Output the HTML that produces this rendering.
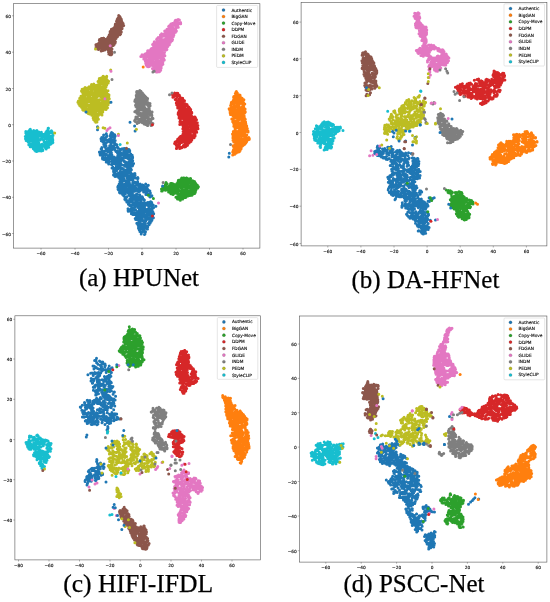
<!DOCTYPE html>
<html><head><meta charset="utf-8"><title>t-SNE</title>
<style>
html,body{margin:0;padding:0;background:#fff}
#wrap{position:relative;width:550px;height:602px;overflow:hidden;background:#fff}
.cap{position:absolute;font-family:"Liberation Serif","Times New Roman",serif;color:#000;-webkit-text-stroke:0.25px #000;white-space:nowrap;line-height:1}
</style></head><body><div id="wrap">
<svg width="550" height="602" viewBox="0 0 550 602" style="position:absolute;left:0;top:0">
<rect x="13.6" y="3.7" width="246.3" height="244.4" fill="#fff" stroke="#555" stroke-width="0.6"/>
<g font-family="DejaVu Sans, Liberation Sans, sans-serif" font-size="4.3" fill="#111" stroke="#111" stroke-width="0.13">
<line x1="41" y1="248.1" x2="41" y2="249.7" stroke="#444" stroke-width="0.4"/>
<text x="41" y="254.95" text-anchor="middle">−60</text>
<line x1="75" y1="248.1" x2="75" y2="249.7" stroke="#444" stroke-width="0.4"/>
<text x="75" y="254.95" text-anchor="middle">−40</text>
<line x1="108.5" y1="248.1" x2="108.5" y2="249.7" stroke="#444" stroke-width="0.4"/>
<text x="108.5" y="254.95" text-anchor="middle">−20</text>
<line x1="142" y1="248.1" x2="142" y2="249.7" stroke="#444" stroke-width="0.4"/>
<text x="142" y="254.95" text-anchor="middle">0</text>
<line x1="176" y1="248.1" x2="176" y2="249.7" stroke="#444" stroke-width="0.4"/>
<text x="176" y="254.95" text-anchor="middle">20</text>
<line x1="209.5" y1="248.1" x2="209.5" y2="249.7" stroke="#444" stroke-width="0.4"/>
<text x="209.5" y="254.95" text-anchor="middle">40</text>
<line x1="243" y1="248.1" x2="243" y2="249.7" stroke="#444" stroke-width="0.4"/>
<text x="243" y="254.95" text-anchor="middle">60</text>
<line x1="12.0" y1="15.8" x2="13.6" y2="15.8" stroke="#444" stroke-width="0.4"/>
<text x="11.0" y="17.80" text-anchor="end">60</text>
<line x1="12.0" y1="52.2" x2="13.6" y2="52.2" stroke="#444" stroke-width="0.4"/>
<text x="11.0" y="54.20" text-anchor="end">40</text>
<line x1="12.0" y1="88.5" x2="13.6" y2="88.5" stroke="#444" stroke-width="0.4"/>
<text x="11.0" y="90.50" text-anchor="end">20</text>
<line x1="12.0" y1="124.7" x2="13.6" y2="124.7" stroke="#444" stroke-width="0.4"/>
<text x="11.0" y="126.70" text-anchor="end">0</text>
<line x1="12.0" y1="161" x2="13.6" y2="161" stroke="#444" stroke-width="0.4"/>
<text x="11.0" y="163.00" text-anchor="end">−20</text>
<line x1="12.0" y1="197.3" x2="13.6" y2="197.3" stroke="#444" stroke-width="0.4"/>
<text x="11.0" y="199.30" text-anchor="end">−40</text>
<line x1="12.0" y1="233.5" x2="13.6" y2="233.5" stroke="#444" stroke-width="0.4"/>
<text x="11.0" y="235.50" text-anchor="end">−60</text>
</g>
<path d="M115.3 24.5h0M111.7 36.5h0M117 20.6h0M111.6 51.4h0M104.1 43.7h0M112.2 38.8h0M108.2 49.9h0M115.4 41.7h0M117.3 19.6h0M120.3 17.5h0M108 37.5h0M120.1 26h0M109.1 39.2h0M111.4 54.7h0M115 36.1h0M112.9 42.9h0M118.2 30.8h0M102.6 49.4h0M115.2 25.2h0M117.4 36.8h0M117.6 28.1h0M101.4 48.7h0M116.5 23.8h0M100.9 40.7h0M108.9 41.9h0M118.2 17.7h0M117.9 28.3h0M118.4 20.3h0M114.1 29h0M113.9 36.5h0M121.4 29.2h0M108.3 39h0M121.3 32h0M110.4 36.4h0M118.2 21.4h0M108.7 45h0M110 37.8h0M117.8 18.6h0M103 47h0M109.7 38h0M107.8 40.2h0M109.7 35.9h0M115.1 33.4h0M110.5 34.5h0M121.1 20.7h0M123.1 23.4h0M119.2 21h0M104.2 44.9h0M104.6 40.7h0M117.6 25.6h0M118.3 17.7h0M119.9 16.9h0M120.1 33.4h0M121.9 25.5h0M103.8 46.5h0M108.8 53.9h0M98 49h0M119.2 30.8h0M109.7 43.4h0M113.5 31.3h0M116.5 25h0M101.7 39.1h0M110.3 46.1h0M114.1 44.6h0M120.5 30.7h0M99.3 45h0M113.2 45.4h0M118.6 20h0M110.2 35.6h0M113.2 40.8h0M114.8 35h0M116.7 35.5h0M110.5 42.2h0M96.9 45.5h0M102.7 45.2h0M100.9 45.6h0M112.9 41.5h0M102.3 45.8h0M103.8 38.3h0M102.8 42.7h0M115.1 42.9h0M108.3 49.1h0M122.5 23.1h0M110.2 54.7h0M98.8 49.1h0M109.8 51.9h0M115.4 23.9h0M112.1 29.5h0M119.3 26.3h0M122.2 24.7h0M110.9 44.8h0M96.4 45.3h0M108.1 46.2h0M102.5 42.1h0M102.5 38.4h0M108.7 39.1h0M117.2 33.6h0M117.7 24h0M102.3 41.2h0M111.9 30.6h0M101.4 39.7h0M115.5 27.2h0M114.6 32h0M102.4 42.5h0M121.9 23.8h0M107.2 43.2h0M100.7 48.1h0M116.5 35.6h0M104 49.1h0M117.1 26.7h0M107.1 42.5h0M121.7 22.3h0M102.4 46h0M121.1 28.5h0M115.8 27.6h0M109.3 53.7h0M100.3 48.3h0M105.5 47.4h0M116.9 24.6h0M123.7 25.4h0M109.5 44.4h0M107.1 40.5h0M103.5 38.3h0M105.8 45.6h0M101.7 48.6h0M111.9 53.8h0M112.4 41.9h0M104.5 43h0M100.9 48h0M111 41.3h0M115.2 31.6h0M111.4 29.3h0M100.7 45.1h0M121.2 32.2h0M118.8 31.4h0M120.7 33.7h0M111 41.4h0M113.1 29.9h0M109.2 48.4h0M99.6 47.6h0M102.1 45h0M111.3 46.4h0M111 40.8h0M111.9 32.2h0M114.1 33.1h0M113 35h0M101.8 46.7h0M117.7 33.6h0M97.3 45.4h0M117.6 35.9h0M118.7 22.3h0M99.7 47.7h0M105.2 46.3h0M102.9 48.9h0M121.7 23h0M121 21.3h0M117.8 19h0M110.4 41.2h0M111.1 38.8h0M120.6 18.5h0M106.4 48.1h0M111.8 29.4h0M117.2 32.9h0M100.1 45.8h0M102.3 41.3h0M114.3 27.4h0M99.3 40.4h0M121 19.7h0M101.6 41.9h0M111.9 39.2h0M100.9 40.7h0M122.2 24.5h0M117.7 31.2h0M113.7 38.1h0M105.1 41.6h0M116.3 24.7h0M110.4 31.4h0M111 54.2h0M112.6 35.7h0M108.5 45.7h0M107.6 47.7h0M101.8 45.8h0M115.1 42.5h0M119.9 32.7h0M116 38.4h0M121.5 20.2h0M122 28.8h0M113.4 43.8h0M112.1 29.6h0M97.8 46.4h0M115.8 29.8h0M109.6 50.4h0M117.5 28.9h0M115.5 37h0M101.2 50.9h0M97.6 49h0M100.8 46.6h0M109.2 35h0M118.1 22h0M119.2 25.2h0M122.4 26.2h0M101.2 43.9h0M120.7 24h0M108.4 36.8h0M113.8 28.9h0M116.5 21.3h0M107.7 47.1h0M108.4 51.8h0M103.7 44.1h0M119.5 20.7h0M109.5 41.1h0M112.5 31.3h0M107.5 38.6h0M116.8 32h0M101.6 44.9h0M114.7 41.4h0M107.2 47.5h0M108.2 40.6h0M106.9 42.9h0M122 21.9h0M111.7 37.2h0M115.8 35.9h0M110.1 31.6h0M122.6 23h0M114.9 30.8h0M117.2 19.3h0M115.3 29.1h0M118.3 30.8h0M113.4 34.1h0M118.7 34h0M98.6 49.6h0M116 26.1h0M113.5 42.2h0M119.8 16.5h0M117.8 20.1h0M117.5 28.9h0M118 21.2h0M119.4 22.5h0M115.1 36.7h0M116.5 32.8h0M109.4 37.1h0M119.4 34h0M111.3 42.5h0M119.4 30.1h0M112.7 43.2h0M122.1 28.2h0M109.1 52.4h0M95.9 44.7h0M113.1 28.5h0M120 29.7h0M108.8 36.5h0M117.4 23.1h0M111.1 49.3h0M103.5 49.4h0M118 28.2h0M112 41.2h0M112.7 42.1h0M112.8 40.4h0M113.2 43.8h0M112.3 43.1h0M101.1 42.5h0M108.3 46.6h0M96 47.1h0M105.7 49.2h0M107.5 41.5h0M98.4 48.6h0M111.7 53.3h0M106.2 39.3h0M120.3 19.6h0M102 45.4h0M115.6 33.7h0M122.1 24.9h0M120 34.8h0M111.7 32.8h0M118.2 29.6h0M113.7 40.9h0M119 28.2h0M120.8 30.1h0M114.9 39.7h0M112 48.9h0M102.9 50.4h0M121.6 28.9h0M118.2 22.6h0M101.7 40h0M114.7 33.9h0M101.7 38.8h0M110.1 34.4h0M115.4 29.6h0M111.4 31.2h0M99.5 39.6h0M109.1 38.3h0M102.6 47.3h0M123 24.9h0M120.3 33.6h0M122.9 25.1h0M111.4 41.4h0M96.3 47.6h0M99.1 46.3h0M103.6 39.3h0M99.1 43h0M122 23.5h0M120.8 20h0M113.2 33.4h0M104.8 49.2h0M108.8 40.9h0M96.6 44.5h0M120.3 25.4h0M102.8 49.9h0M121.2 18.9h0M96.6 45.1h0M101.3 38.5h0M100.9 40.2h0M96.8 45.3h0M106.8 44.9h0M104.7 50h0M108.8 51.3h0M119.2 29.7h0M110.1 33.1h0M120.1 27.8h0M115.7 30.3h0M109.3 36h0M110.4 37h0M118.7 15.4h0M97.7 43.9h0M112.4 38.7h0" stroke="#8c564b" stroke-width="3.0" stroke-linecap="round" fill="none"/>
<path d="M98.1 113.8h0M85.6 107.5h0M85.9 101h0M108.1 104.8h0M85.1 99.9h0M86.3 89.6h0M98.6 80.8h0M96.8 120.8h0M94.1 87.9h0M92.5 100.6h0M90.4 88.8h0M95.2 115.3h0M97.3 102.3h0M98.7 84.6h0M100.8 97.1h0M95.2 104.4h0M92.5 89.9h0M94 93.4h0M84.7 101.7h0M93.3 88.6h0M102.9 82.6h0M89.8 96.1h0M101.6 80.2h0M101.7 82.4h0M88 91.9h0M99.6 104.5h0M94.2 110.4h0M101.9 111.4h0M92.8 112.6h0M96.5 98.9h0M109.4 102.4h0M90.8 112.6h0M106.3 104.1h0M89.5 96.7h0M92.2 109.7h0M86.5 93.7h0M95.5 93.4h0M87.5 112.7h0M105.5 98.9h0M96.2 102.9h0M83.5 95.4h0M78.2 102.1h0M93.5 119.1h0M102.9 100.8h0M94.2 107.8h0M89.8 92.1h0M96.8 91.8h0M89.3 94.2h0M95.7 102.5h0M93.1 96.1h0M88.3 100.4h0M104.4 83.2h0M104.7 99.6h0M100.1 114.3h0M86.4 99.5h0M93.8 84h0M82.8 105.2h0M97.1 91.9h0M103.4 89.7h0M96.5 107h0M83.2 98.9h0M95.4 87.7h0M98.6 100.5h0M82.4 100h0M104.6 104.4h0M104.1 78h0M87.6 109.3h0M107.4 102.9h0M88.4 96.6h0M106.9 102.9h0M97.7 86.9h0M105.7 90.1h0M86.9 103.9h0M109.3 98.7h0M89.8 109.4h0M84.1 89.8h0M106.4 98.2h0M103.6 86.7h0M82.5 92.2h0M86.5 101.9h0M80.5 100.6h0M89.7 94.3h0M104.7 91.8h0M100.6 79.4h0M80.9 96.2h0M82 91.9h0M101.2 93.1h0M109 99.2h0M84.3 96.7h0M96.6 92.6h0M84.9 104.1h0M80.7 99.6h0M95.1 87.9h0M102.9 93.4h0M99 102.2h0M87.1 93.7h0M105.6 90.4h0M99.2 80.2h0M95.7 92.3h0M93.6 89.2h0M101 88.5h0M105.9 81.3h0M99.7 106.8h0M88.5 94.8h0M99 108.5h0M88.6 105.1h0M83.3 89.5h0M87.1 105.6h0M96 109.3h0M85.2 95.8h0M99.9 91.7h0M103 88.7h0M103.5 85.1h0M90 110.8h0M104.8 88.5h0M100.1 110.4h0M104.9 105.1h0M100.4 95.5h0M94 119.5h0M104 87.5h0M95.2 121.5h0M98.3 101.1h0M88.7 94.7h0M83.4 89.9h0M99.4 86.4h0M84.8 99.7h0M88.5 89.3h0M106.7 81.8h0M95.8 91h0M104.4 101.3h0M102.5 83.1h0M99.3 103.7h0M92.3 111.7h0M104.9 80.5h0M86.4 92.3h0M100.5 96.5h0M92.5 92.4h0M102.1 79h0M93.2 95.8h0M83 101h0M98.5 105.1h0M98.3 115.5h0M108.2 83.1h0M101.9 90.6h0M87.5 92.7h0M95.3 92.7h0M104.9 86.5h0M77.9 102.2h0M98 114.3h0M108.8 98.7h0M86.8 102.8h0M82.1 96.2h0M83 109.7h0M91.1 88.6h0M99.1 99.7h0M90.9 91.2h0M91.5 106.9h0M82.1 89.2h0M91.7 102h0M97.7 113.9h0M97.3 89.2h0M96 120.7h0M92.9 106h0M86.7 91.4h0M106.7 76.3h0M83 107.5h0M99.1 92.8h0M96.4 94.9h0M94.6 102.1h0M106 87.1h0M79.8 100.4h0M85.1 98.4h0M95.4 85.8h0M94 103.2h0M106 101.4h0M100.9 111.3h0M101.2 79.9h0M104.9 93.8h0M95.7 112.1h0M96.8 85.2h0M86.8 108.9h0M97.7 116.8h0M95.7 119h0M106.2 83h0M102 91.4h0M102.6 107.6h0M104.7 80.9h0M89.3 110.3h0M79.9 101.3h0M103.9 80.4h0M91.8 115.2h0M103.9 83.9h0M95.4 88.9h0M100 93.2h0M94.9 108h0M81.7 99h0M104.5 107.6h0M89.9 97.8h0M107 103.2h0M88.9 97.4h0M96.2 93.6h0M96.3 91h0M81.5 107.2h0M85.8 88.1h0M93.6 87.5h0M96 100.3h0M103 105.3h0M98.2 92.4h0M99.8 89.6h0M102.6 110.4h0M93.9 105.4h0M88.5 101.4h0M88 90.5h0M89.1 86.7h0M84.5 91.7h0M106.3 96.7h0M91.7 102.3h0M87.1 109.8h0M95.3 119.9h0M82.6 102.8h0M103 95.5h0M106.2 78.2h0M93.1 118.1h0M85.7 108.8h0M84 94.1h0M83.4 103.9h0M106 106.1h0M83.2 110.2h0M106.4 91.3h0M94.9 117h0M98.4 119.2h0M83.8 90.7h0M102.1 106.1h0M90.4 107.5h0M97.9 91h0M93.4 103.7h0M85.3 97.2h0M95.8 122.3h0M101.2 90.8h0M91 100.8h0M96.6 101.6h0M99 103.8h0M87.8 110.5h0M85.3 109.1h0M102.6 112.2h0M87.1 112h0M86 100.1h0M108.6 81.3h0M98.9 112.1h0M93.7 101.6h0M108 82.8h0M93.6 105.5h0M88.3 113.4h0M92.2 90.5h0M107.4 80.2h0M101.6 78.1h0M98.6 94.3h0M106 77.9h0M95.8 94.6h0M97.9 85.7h0M85.1 87.6h0M91.3 86.1h0M98.5 89.3h0M85.7 111h0M104.6 88.5h0M87.8 98.3h0M106.9 82.7h0M99.8 103.6h0M92 102.8h0M106.7 85h0M106.7 92.3h0M107.6 82.2h0M101.7 79.7h0M82.3 107.7h0M103.6 108h0M84.4 95.6h0M106.5 80.8h0M99.9 82.1h0M101.7 99h0M93.5 119h0M101.5 88.1h0M93.9 94.6h0M95.5 92.4h0M98.8 101.1h0M95.3 108.1h0M101 94.1h0M87.4 95.1h0M89.7 94.6h0M97.4 93.1h0M87.6 106h0M95.3 90.1h0M93.9 103.4h0M98 110.6h0M89.5 109.1h0M90 100.2h0M97.4 107.5h0M87.5 105.1h0M95.1 85.7h0M97.4 87.7h0M107.5 97.7h0M101.2 100h0M92.8 85.6h0M94.6 100.1h0M94.5 114h0M104.6 97.1h0M98.4 114.7h0M88.7 113.5h0M94.3 96.7h0M91.9 97.9h0M81.7 107.6h0M89.1 100h0M84.6 92.8h0M88.1 93.3h0M82.6 109.4h0M85.9 90.5h0M79.7 105.5h0M105.8 84.7h0M91 113h0M97.6 92.8h0M89.1 109.2h0M86.6 94.5h0M98.7 113.9h0M88.6 93.5h0M96.3 119.3h0M100.8 92.8h0M99.2 90.8h0M89.5 100.2h0M93.5 118.2h0M96.8 97.2h0M92.3 115.2h0M90.7 97.7h0M106.9 96.1h0M93.3 99.5h0M104.7 107.1h0M101.8 94.2h0M95.4 111.9h0M102.8 80.6h0M104.4 79.9h0M99.8 109.1h0M100.1 95h0M81.5 91h0M85.5 90h0M95.5 99.5h0M89.3 97.2h0M93.2 103h0M89 113.4h0M87.3 100.5h0M90.5 102.1h0M87.6 88.1h0M103.7 89h0M100.8 113.5h0M96.7 96.8h0M108.4 96.3h0M106.5 77.7h0M91.3 105.6h0M79 103.6h0M95.7 113.4h0M93.5 107.3h0M99.6 89.1h0M109 94.9h0M99 87.3h0M107.4 107.9h0M105.1 89.1h0M84.5 102.9h0M87.4 101.9h0M98.4 85.7h0M92.4 109.9h0M91.2 107.5h0M94.5 88.9h0M88.4 111h0M93.5 119.6h0M79.7 98.2h0M106 103.6h0M91.9 86.8h0M101.9 83.6h0M103.4 89.3h0M78.9 101.8h0M79.8 101.4h0M103.4 103.5h0M98.6 81.3h0M96.3 91.9h0M89.3 106.8h0M80.5 98.8h0M94.8 99.3h0M106.3 99h0M108.7 98.4h0M103.5 102.3h0M100 86h0M102.1 82.3h0M90 99.8h0M79.4 102.7h0M84.5 103.5h0M103.3 109.1h0M97 122.1h0M100.1 114h0M90.6 94.5h0M101.6 107.5h0M81.7 91.5h0M84 90.9h0M103.5 98h0M93.5 112.4h0M98.3 84.5h0M97.9 115.5h0M103.4 79.4h0M101 91.7h0M99.5 110.7h0M102 114.9h0M103.9 103.3h0M91.4 114.6h0M94.7 120.3h0M103.4 87.1h0M105.1 86.1h0M83.3 96.9h0M84.6 98.6h0M107.5 107.8h0M100.8 93.8h0M104.7 94.5h0M105.1 91.3h0M96.8 115.1h0M90.8 104h0M92.1 91.1h0M83.8 91.9h0M105.4 104.7h0M85.8 108.6h0M91.6 106.7h0M104.1 80.8h0M104.6 83.8h0M106.9 104.2h0M107 93.9h0M82.1 100.3h0M108.8 96.8h0M104.2 87h0M95.4 116.3h0M94.1 93h0M99.3 78.6h0M97.8 96.3h0M99.1 105.3h0M89.4 100h0M93.5 92.4h0M105 107.8h0M95.6 96.5h0M101.4 110.9h0M107 81.9h0M96.6 102.6h0M102 105.7h0M86.5 101.1h0M98.7 113.6h0M99.6 93.2h0M100.1 88.3h0M82.1 102.6h0M94.1 117.1h0M82.4 89.9h0M83.3 90.4h0M85.4 93.9h0M107.5 96.6h0M105.1 105.5h0M103.1 90.1h0M92.6 101.8h0M99.4 111.1h0M85.9 92.4h0M107.8 100.4h0M86.4 105.2h0M95.9 91.9h0M95.3 111.1h0M99.7 94.8h0M104.1 80.3h0M87 105.9h0M100.1 112.1h0M101.9 91.4h0M89.9 113.6h0M106.3 100.5h0M94.3 107.1h0M107.3 81.4h0M90.6 99.1h0M105.6 107h0M96.3 94.3h0M96.1 88.1h0M105.1 82.2h0M99.5 111.1h0M93.6 118.1h0M104.6 106.1h0M106.5 81.3h0M100.6 108.7h0M97.4 88.2h0M78.8 103.9h0M104.7 88.1h0M88.8 108.5h0M98 81.6h0M91.7 101.6h0M104.1 76.9h0M104.8 80.3h0M84.2 105.2h0M88.1 90.9h0M95.9 85.4h0M103.6 85h0M103.1 76.3h0M93.8 95.3h0M101.3 103h0M90.2 99.5h0M96.6 85.8h0M81.1 96.8h0M99.8 109h0M92.1 91.4h0M83 94.3h0M101.7 99.7h0M91.5 84.5h0M100.5 84.4h0M85.6 101.8h0M101.1 78h0M106 109.6h0M98 87.6h0M82.5 92h0M103.1 97.6h0M103.7 97.8h0M104.6 81.1h0M80.3 102h0M93.9 85h0M91.4 110.1h0M89.6 113.9h0M105.2 81.4h0M96.5 93.2h0M103.4 97.2h0M87.6 104.9h0M106.7 98.2h0M98.4 84.8h0M83.4 96.9h0M96.5 105.5h0M100.7 96.1h0M90.2 107.3h0M100.9 86.5h0M98.7 108.2h0M107.6 103.7h0M89.9 112.8h0M104.6 105.4h0M103.9 76.8h0M98.3 119.1h0M100.8 83.9h0M104.1 82.8h0M105.6 101.6h0M104.6 99.1h0M97.7 103.5h0M103.8 78.7h0M78.4 101.1h0M86.5 94h0M104.2 96.9h0M80.7 106.2h0M83.6 95.6h0M95.2 91.9h0M86.9 111.5h0M81.6 104.1h0M97 99.9h0M92.1 94.5h0M97.4 106.1h0M105.1 109.3h0M105.5 95.6h0M106.5 83.6h0M108.7 96.2h0M100.6 87.1h0M86.8 91.7h0M108 90.7h0M102.8 112.1h0M104.7 90h0M97.9 92.6h0M94.9 121.3h0M82 100.4h0M98.7 100.8h0M108.5 94.5h0M83.8 88.8h0M85.4 109.3h0M91.5 107.9h0M100.1 110.8h0M102.2 86.9h0M100.1 85h0M98.5 103.3h0M98.9 103.7h0M100.2 89.6h0M100 88.1h0M102.8 83.5h0M90.5 108h0M91.7 109.9h0M103.9 107.1h0M81.9 106.6h0M96.6 106.7h0M89.6 106.3h0M96 85.7h0M105.6 81.2h0" stroke="#bcbd22" stroke-width="3.0" stroke-linecap="round" fill="none"/>
<path d="M28.6 133.3h0M36.9 130.5h0M25.3 136.5h0M37.8 151h0M30.1 146.1h0M40.7 149.3h0M39.5 133.5h0M37.5 145.8h0M25.5 138.8h0M33.1 132.6h0M43.8 136.6h0M38.2 132h0M37.8 146h0M39.9 133.4h0M38.7 142.7h0M46.2 149h0M34.6 150.1h0M28.8 133.2h0M41.8 150.1h0M25.8 132.9h0M27.6 132.3h0M46.5 142.1h0M52.4 137.6h0M52.6 133.3h0M38 140.3h0M52.6 139.8h0M37.4 133.2h0M53 135.6h0M35.8 136.1h0M34.8 131.6h0M42.1 134h0M37.3 141.6h0M30.7 130.5h0M27.5 140.6h0M41.3 149.7h0M28.4 142.2h0M37.2 137.7h0M50.8 144.1h0M50.2 138h0M39.6 148.8h0M48.3 143.9h0M30.8 144h0M41.4 147.6h0M51.1 141.8h0M28.8 144.8h0M31.1 133.4h0M34.6 140.6h0M46.2 143.1h0M37.8 144.3h0M38 144.5h0M45.2 143.7h0M47.6 133.3h0M36.6 151.5h0M29.6 137.7h0M30.4 145.9h0M34.4 144.1h0M47 130.7h0M30.1 132.9h0M27.4 137.7h0M41.3 151.1h0M41.1 136.4h0M45.1 138.5h0M28.7 139.6h0M28.2 136.8h0M49.1 143.6h0M42.9 145.2h0M47 135h0M41.9 148.8h0M50.4 142.2h0M39.8 145.7h0M30.3 134.1h0M27.8 135.9h0M39.4 135.5h0M36.2 139.5h0M25.8 131.6h0M44.8 134.1h0M47.8 145.7h0M33.8 139.8h0M35.2 145.5h0M48.1 129.9h0M41.4 132.3h0M45.2 147.6h0M47.8 133.3h0M29.2 142.1h0M30.7 134h0M36.4 140.9h0M45.7 133h0M32.2 143.5h0M44.7 142.9h0M51.2 132.6h0M32.9 144.1h0M31.3 131.4h0M30.2 146.8h0M48.9 145.4h0M32.8 135.4h0M50.4 139.1h0M29.3 130.5h0M38.9 140.6h0M34.5 145.4h0M39.6 146.9h0M35.2 139.6h0M31 144.2h0M30.1 135.5h0M38 145.3h0M47.1 136.8h0M37.1 150.7h0M52.2 143h0M26.5 138.9h0M43 134.5h0M51.4 130.7h0M37.7 143h0M46.5 146.8h0M32.1 146.7h0M39.7 148.4h0M28.5 131.9h0M47 138.2h0M33.7 130.6h0M26.8 134h0M51.3 139.3h0M52.9 142.6h0M32.2 139.2h0M45.4 145.9h0M27.2 132.4h0M48.5 136h0M30.9 133.9h0M33.2 131.8h0M46.3 136.1h0M29 138h0M46.9 142.7h0M33.4 148.7h0M48.6 134.2h0M34.6 136.9h0M34.2 137h0M26.6 133.2h0M51.4 137.8h0M42.9 149.7h0M46.7 133.6h0M46.6 147.9h0M31.1 143.9h0M35 148.5h0M27.4 141h0M33.6 148h0M33.9 148.6h0M46.3 144.5h0M50.2 141.2h0M37.4 136h0M47.5 147.1h0M50.2 132.9h0M33.8 133.8h0M26.3 135.7h0M30.3 129.3h0M29.4 139.1h0M35.7 147.6h0M52.8 135.3h0M42.8 149.9h0M37.8 150h0M46 135.3h0M50.3 141.9h0M48.9 140.5h0M38.2 137.9h0M50.5 144.2h0M29.7 136.6h0M41.5 138.3h0M45.5 138.3h0M26.1 140.6h0M48.7 147.3h0M34.3 133.1h0M46.3 147.6h0M35 145.3h0M52.1 132.6h0M32.6 135.7h0M45.9 132.2h0M40.2 140h0M40.6 147.4h0M40.3 146.5h0M50.2 136.6h0M51.9 132.7h0M52.8 140.3h0M52.2 141.5h0M48.1 138.1h0M41.9 134h0M31.8 138h0M39.1 139.2h0M33.8 145.5h0M46.4 133.4h0M31.1 140.4h0M28.7 142.6h0M51.3 132.6h0M41.4 145.5h0M46.5 145.3h0M45.3 134.3h0M37.5 143.5h0M47 133.6h0M29.4 131.5h0M35.9 143h0M32.6 131.6h0M30 129.6h0M29.2 135.4h0M38.9 132.1h0M38.1 138.5h0M52.5 139.3h0M29.4 142.3h0M27.7 131.7h0M34.2 138.2h0M34.1 144.8h0M35.4 131.3h0M50 141.8h0M45.8 136.4h0M42.8 150.5h0M35.7 138.3h0M32.5 141.4h0M43.8 145.9h0M34.6 148.8h0M47.8 142.3h0M44.2 136h0M52.5 141.3h0M35.7 132.1h0M48.1 128.2h0M33.2 139.5h0M38.6 136.6h0M51 136.3h0M39.7 150.8h0M43 139.4h0M33.5 137.2h0M42.1 147.2h0M31.3 136.8h0M35.2 136.6h0M51.5 141h0M31.8 135.8h0M48.7 131.5h0M48.2 131.2h0M31.4 145.9h0M52.6 141.3h0M51.9 138.4h0M49.9 137.2h0M46.6 142.5h0M28.2 132h0M42.1 144.3h0M35.3 133.9h0M28.6 132h0M27.9 136.3h0M39.7 144.5h0M47.8 141.9h0M37.2 149.6h0M41.9 135.9h0M35.5 151.1h0M28.6 137.1h0M48.1 147.2h0M48 137.9h0M44 141.8h0M45.8 137.7h0M52 142.9h0M33 136.9h0M47.8 147.2h0M44.6 135.5h0M46.7 134.1h0M49.8 139.7h0M46.7 131.2h0M46.8 141.9h0M51.4 142.2h0M36.5 150.9h0M26.4 134.4h0M36.9 145.7h0M31.2 145.8h0M38.5 145.6h0M29.9 143.9h0M31.8 136.8h0M41 147.7h0M46.8 138.9h0M50 137.6h0M52.7 139.3h0M40 146h0M34.9 133.7h0M48.5 128.3h0M37.8 145.5h0M45.8 136.1h0M52.2 132.1h0M26.9 132.2h0M38.7 135.9h0M37.9 147.2h0M47.1 143.3h0M39.7 148.9h0M44.4 146.1h0M30.4 139.1h0M51.9 131.5h0M44.4 141.4h0M35.8 131.7h0M27.5 139.3h0M38.5 134.2h0M34.6 141.4h0M46.9 142.3h0M35.2 141.2h0" stroke="#17becf" stroke-width="3.0" stroke-linecap="round" fill="none"/>
<path d="M142.1 207.3h0M128.5 149.4h0M137.8 177.4h0M110.2 141h0M118.2 159.8h0M127.2 152.2h0M153.4 217.7h0M138.8 205.3h0M132.7 208h0M151.9 214.7h0M149.3 193.8h0M126.9 167.3h0M120.5 185.6h0M128.1 175.9h0M129.7 160.8h0M143.7 206h0M144.4 186.3h0M128.5 171.3h0M115.6 174.1h0M140.1 218.1h0M119.5 164h0M137 203.1h0M135.8 204.9h0M114.5 138.1h0M145.2 209.5h0M127.1 170.7h0M140.3 226.2h0M148.4 223.3h0M124.3 176.2h0M109.3 148.4h0M123.6 152h0M124.3 173.7h0M132.9 192.4h0M133.9 185.5h0M105.7 154.2h0M116.8 175.7h0M145.3 217.2h0M144.2 220.6h0M130.7 172.6h0M104 141.3h0M120.2 177.4h0M128.3 162.2h0M139.7 186.2h0M128.5 183.8h0M119.5 167.1h0M134.6 191.2h0M115.2 140.6h0M129.8 166.3h0M118.4 175.8h0M122.1 148.8h0M137.4 201.9h0M124.7 174.5h0M100.2 154.9h0M138.2 184.2h0M126.2 152.6h0M128.4 164.8h0M126.9 196.8h0M138.4 189.3h0M134.7 214h0M132.1 155.2h0M131.8 211.2h0M119.9 179h0M147.1 186.7h0M138.9 187.9h0M102.4 139.3h0M107.9 162.6h0M152.9 217.3h0M130.9 196.3h0M111.7 154.6h0M128.5 184.6h0M142.3 224.1h0M119.5 153.8h0M135.8 182.6h0M120.6 192.8h0M130.9 195.2h0M149.2 214.7h0M138.3 217.7h0M130.1 178.1h0M110.2 135.8h0M143.6 191.9h0M130.1 154.7h0M132.2 200.1h0M120.3 182.4h0M130.8 209.1h0M113.1 140.6h0M113.3 140.8h0M127.2 158.1h0M111.6 132.6h0M139.5 214.1h0M121.6 164.7h0M128.6 178.2h0M137.3 190.8h0M125.6 192.4h0M135.3 198.4h0M140.4 208.6h0M137.1 201.1h0M120.2 150.7h0M121.7 184.6h0M129.2 163.4h0M124.1 155.8h0M136.5 219.6h0M114.9 143.3h0M114.7 147.8h0M129 176.6h0M111.6 140.3h0M103.8 152.2h0M113.3 157.1h0M104.4 138.5h0M127.7 151.4h0M124.2 161.4h0M132.9 163.3h0M127.6 155.9h0M120.5 175.2h0M146.1 190.6h0M108.8 159.1h0M136.7 204.2h0M101 151.9h0M123.5 171.2h0M139.4 209.8h0M132 186.1h0M142.1 207.2h0M116.9 170.6h0M145.4 220.6h0M148.1 202.4h0M108.5 148.1h0M116.3 159.9h0M124.1 171.8h0M113.4 134.3h0M132.7 184.9h0M113 162h0M146.1 205.1h0M114.1 173.8h0M132.2 213.9h0M135.4 194.9h0M152.7 217.4h0M131.8 166.1h0M140 230h0M136.4 201.6h0M153.6 213.8h0M124.7 180.4h0M138.7 225.9h0M106 146h0M127.5 167h0M112.5 163.9h0M127.4 173.4h0M136.4 185h0M104 137.6h0M147.7 193.5h0M121 159.3h0M130.4 171.3h0M127.4 174.4h0M150.1 201.9h0M147 226.2h0M120.8 162.9h0M118 189h0M125.5 190h0M141.2 233.9h0M135.1 182.2h0M135.8 188h0M139.9 231.6h0M136.6 216.2h0M129.6 195.6h0M128.8 172.4h0M144 230.4h0M121.8 189.5h0M117.9 148.2h0M146.7 218.3h0M143.5 213.3h0M135.7 219.6h0M147.5 228.9h0M138.7 221.3h0M131.8 160.8h0M139.5 202.8h0M103.4 157.8h0M137.5 223.9h0M122.5 179.2h0M140.5 214.5h0M129.7 205.5h0M115.7 161.5h0M117.6 161.5h0M126.7 171.8h0M124.9 191.5h0M113.7 142.6h0M142 229.1h0M128.8 162.1h0M124.7 181.1h0M148.3 218.2h0M126 175.1h0M120.5 175.5h0M132.8 178.9h0M119.1 175.8h0M133.2 189h0M123.5 158.1h0M101.7 148.5h0M130.1 187.9h0M101 138.7h0M137.7 204.4h0M124.7 156.3h0M109.4 150.9h0M145.9 194.6h0M129.8 199.1h0M149.5 214.3h0M130.5 172.7h0M130.8 211.5h0M143.4 198.9h0M129.9 194.8h0M116.8 167.9h0M107.2 141.9h0M142.6 205.1h0M131.5 158.6h0M117.4 152.7h0M111 144h0M109.1 158.1h0M132.5 178.8h0M144 208.1h0M145 191h0M126.4 166.5h0M127.8 201.9h0M105.4 147.4h0M105.9 154.7h0M144 210.8h0M144.5 208h0M139.9 208.5h0M114.7 134.8h0M110.8 147.2h0M151.2 201.9h0M147.9 208.9h0M127.5 183.5h0M114.1 157h0M125.5 200h0M128.5 185.8h0M116.9 144.8h0M150.1 205.3h0M141.4 211.8h0M133.5 213.6h0M146.9 216.6h0M110.8 143h0M141 210.4h0M136.6 214h0M128.8 191h0M137 193.8h0M123.5 176.2h0M123.9 190.9h0M119.7 173h0M123.6 170.9h0M121.7 179.1h0M112.6 133.3h0M150.9 220h0M112.7 158.6h0M139.5 215.8h0M126.1 172.6h0M149.2 222.2h0M137.6 181.7h0M133.1 176.1h0M112 167.9h0M132.2 166h0M107.7 159.4h0M108.2 152h0M106.2 154.3h0M118 173.4h0M126.4 173.5h0M144 227h0M129.4 203.7h0M120.9 160.4h0M125.6 187.3h0M110.7 150.4h0M102.6 159.1h0M130.8 166.2h0M113.1 162.4h0M115 168.3h0M144.9 214.9h0M139.5 225.1h0M101.1 149h0M146.8 193.5h0M123.7 157.3h0M104.4 152.7h0M136.3 203.7h0M115.1 160.5h0M119.1 151.4h0M113.1 149.1h0M135.5 201h0M128.5 150.7h0M108.7 157.2h0M128.7 182h0M131 208.4h0M138.8 215.5h0M106.4 149.1h0M121.1 189.9h0M130.9 174.3h0M143.5 188.2h0M144.8 192.1h0M105.4 158.7h0M117.4 174.7h0M140 215.7h0M145.3 224.7h0M117.1 147.1h0M143.2 204.9h0M120.3 167.9h0M118.5 165.6h0M128.6 210.4h0M149.1 211.9h0M131.1 170h0M103.5 152.3h0M146.1 187.5h0M131 188.6h0M122.6 190.5h0M104.5 146.4h0M138 199.3h0M145.9 204.8h0M151.4 210.6h0M121.9 182.2h0M144.5 203.5h0M117.4 159.3h0M151.9 220.2h0M131.3 178.6h0M111.5 134.2h0M114.6 137.7h0M129.5 163.4h0M138.1 190.9h0M133.6 163.4h0M141.7 204.4h0M125.7 161.9h0M149 224.5h0M148.6 217.8h0M127.2 150.3h0M117.8 163.9h0M113.4 134.4h0M131.4 169.8h0M120.1 193.1h0M106.9 139.9h0M129.8 160.7h0M141.4 202.4h0M133.2 177h0M149.1 224.7h0M123.8 156.7h0M110.8 139.6h0M134.3 176.4h0M117.8 155.2h0M135.5 209.6h0M136.8 223.2h0M142.3 198.3h0M134.9 188.9h0M129.3 176.2h0M141.7 205.6h0M106.8 135.4h0M147.3 202.7h0M118.5 168.5h0M151.5 217.7h0M146 215h0M148 219.2h0M128.8 156.5h0M143.8 216.3h0M144 229.5h0M117.6 167.8h0M139.7 186.6h0M139.8 225.4h0M122.5 191.5h0M103 142h0M116.8 144.7h0M141.5 196.7h0M121.7 160.1h0M108.6 159.6h0M132.4 199h0M132.9 214.6h0M105.9 143.5h0M106.2 133.8h0M113.7 172h0M113.8 157.4h0M117.5 175.5h0M119.6 165.9h0M127.9 190.9h0M134.8 202.8h0M135.4 197.2h0M146.6 219.6h0M106.5 161h0M136.1 198.9h0M112.7 147.2h0M103.7 154.8h0M133.3 187.6h0M131.7 195.2h0M129.6 167.6h0M123.4 188.7h0M143.7 188.6h0M140.6 199.1h0M131.9 178.1h0M127.2 176.8h0M140 208.2h0M126.1 187.9h0M119 184.5h0M129.6 172.7h0M106.3 133.7h0M115 168.8h0M122 172.4h0M136.2 194.5h0M129.9 193.1h0M120.2 160.8h0M144.5 206.9h0M113.6 147.6h0M141 185.4h0M108.2 157.1h0M132.7 180.3h0M140.7 188.4h0M121.3 179.2h0M109.4 161.2h0M101.3 140.8h0M128.8 188.6h0M124.7 166.3h0M147.3 204.7h0M105.6 142.9h0M105.5 154.5h0M134.1 196.5h0M143.8 186.3h0M105.2 155.2h0M104.8 158.2h0M145.3 189.4h0M132.6 156.9h0M120.1 177.6h0M132.7 165.6h0M129.8 155.3h0M119.4 158.5h0M147.7 226.9h0M144.7 203.5h0M111.3 158.8h0M126 186.3h0M128.4 181.9h0M153 212.2h0M103.6 134.9h0M139.7 194.7h0M136.4 216.9h0M118 147.5h0M137.1 199.9h0M151.6 212.8h0M114.7 176.1h0M139.8 197.2h0M126.8 201.9h0M129.2 151h0M131.9 185.6h0M121.1 190h0M136.7 195.5h0M147.5 189h0M143 220.3h0M113.5 175h0M149.9 204.1h0M127.3 189.3h0M129.9 184.2h0M121.3 176.6h0M134.2 187.3h0M144.2 200.1h0M119.9 181.6h0M131.5 209.7h0M144.9 231.7h0M140.6 189.5h0M146.9 216.8h0M135.5 202.3h0M119.6 172.7h0M135.5 178.1h0M107.1 159.2h0M124.1 175.9h0M122.1 186.7h0M109.7 145.7h0M130.7 168.8h0M123.9 165.2h0M129.8 161.4h0M125.3 190.5h0M140.7 200.6h0M105.1 147.2h0M109.3 151.1h0M132.5 158.2h0M146.1 203h0M123.7 195.8h0M137.1 178.2h0M144 222.9h0M120.4 171h0M128.6 158.3h0M110.8 145.3h0M138.9 185.5h0M149.8 196.7h0M134.9 177.8h0M130.7 160.7h0M131.1 166.1h0M110.4 151.3h0M140.1 184.1h0M131.2 176.1h0M150.4 192.9h0M118.9 161.7h0M133.9 190h0M110.3 135.2h0M136.9 196.4h0M134.8 206.8h0M151 218.8h0M138.4 220.3h0M137 188.7h0M111.7 145.9h0M142.8 203.2h0M122.6 194.6h0M128.3 188.7h0M125.6 175.2h0M139.2 229.7h0M143.2 189h0M150.2 223.1h0M118.2 186h0M121.5 176h0M102.3 153.4h0M108.7 164h0M130.7 164.4h0M142.2 196.7h0M151.9 195.8h0M109.3 151.3h0M139.8 217.2h0M142.2 212.4h0M120.5 181.8h0M129.7 202.1h0M110.3 135.4h0M131.7 187.3h0M111.4 152.4h0M148.3 185.3h0M135.6 189.3h0M126.5 182h0M128.5 159.1h0M110.6 156.2h0M150.2 209.3h0M129 184h0M140.3 222.5h0M145.6 204.2h0M141.7 202.5h0M122 184.3h0M128.3 154.5h0M148.2 205.3h0M138.9 185.5h0M132.2 202h0M145.4 223.3h0M120.3 179.2h0M147.4 214.8h0M132.6 204.6h0M142.5 215.6h0M116.7 176.2h0M150.3 204.4h0M141 185.1h0M133.6 214.6h0M144.1 202.7h0M121.8 179.8h0M130.1 193.8h0M102.4 158.1h0M103.8 144.6h0M145.8 220.7h0M126.5 154.1h0M139.1 197.3h0M144.3 186.1h0M133.2 183.7h0M142.9 188h0M128.4 193.3h0M132.5 180.3h0M128.4 204.3h0M144.6 203.5h0M105.5 159h0M116.9 169.1h0M127.4 162.8h0M122.9 168.7h0M122.6 157.8h0M142.8 224.4h0M115.8 159.6h0M115.1 176.4h0M146.2 210.8h0M109.1 157.2h0M103.3 151.6h0M144.8 189.1h0M141 185.2h0M148.5 205.9h0M140.7 203.9h0M110.1 136.2h0M136.1 205h0M129 200.4h0M130.6 175.4h0M118.2 173.3h0M111.5 164.6h0M142.4 225.2h0M142.2 214.1h0M121.2 149.4h0M137.5 211.4h0M132 211.2h0M132.6 194.8h0M109.6 141.3h0M139.9 208.4h0M110.8 147.1h0M140 230.6h0M126.6 171h0M109.1 139.6h0M130.2 169.5h0M155.9 206.3h0M124.2 187.3h0M120.7 191.2h0M128.2 211.2h0M146.2 209.4h0M99.4 152h0M144.4 200.1h0M134.1 204.2h0M138 178.2h0M123.1 181.1h0M105.8 139.6h0M114.9 150h0M149.9 191.1h0M118.4 176h0M129.4 191.2h0M139.3 189.6h0M102.2 150.8h0M111.9 154.7h0M132.7 183.1h0M119.2 186.9h0M146.1 215.6h0M127.4 184.4h0M111.7 133.1h0M127.4 179.6h0M122.3 184.1h0M129 149.4h0M126.9 154.7h0M105.7 157.4h0M106.2 161.9h0M110.6 158.5h0M133.5 186.4h0M144 187.6h0M147.8 202.4h0M111.6 140h0M114.1 159.4h0M150 197h0M142.4 217.9h0M124.2 179.3h0M123.9 169.4h0M144.2 225h0M138.7 213.6h0M143.2 220.8h0M124 160.7h0M120.7 187.5h0M129.5 162.8h0M140.7 205.1h0M129.2 155.7h0M137 185.3h0M138.5 228.3h0M145 233.7h0M131.9 207.5h0M138.5 227h0M120.2 187.2h0M114.4 161.9h0M128 208.8h0M121.2 192h0M133 180.2h0M138.9 186.4h0M142.6 197.4h0M125.2 184.2h0M120.4 156h0M139.2 197.9h0M111.7 149.8h0M124.6 161.7h0M138.1 225.2h0M106.7 149.2h0M151.5 205.3h0M141.8 215.6h0M123.6 178.4h0M139.9 219h0M129.7 172.6h0M138 202.7h0M147.3 212h0M126.6 191h0M145.7 183.9h0M126.4 182.8h0M141.7 209.3h0M153.7 213.8h0M120.9 168.8h0M124 195.5h0M140.7 211.2h0M148.7 224.3h0M127.8 186h0M119.9 183.4h0M133.6 191.1h0M136.5 219.3h0M141.2 219.5h0M119.8 176h0M120 167.8h0M144.9 190.7h0M143.4 223.9h0M120.9 184.4h0M111.4 158.2h0M124.8 199.3h0M119.5 192.4h0M117.6 159.4h0M142.1 210.8h0M148 189.9h0M132.6 204h0M134.7 174.7h0M135.1 175.2h0M116.7 158.2h0M115.5 171.1h0M142.7 199h0M132.8 185.6h0M116.2 174.5h0M118.7 177.4h0M122.1 153.9h0M127.1 151.5h0M136.5 203.2h0M111.5 156h0M116.3 166.4h0M125.4 152.9h0M140.9 210.2h0M113.9 158.2h0M153.5 207.7h0M127.5 169.8h0M130 193.6h0M139.9 218.1h0M130.4 193.3h0M124.8 148.5h0M148.7 190.4h0M142 209.8h0M111.4 134.7h0M106.5 150.1h0M130.2 179.8h0M129.5 158.5h0M103.9 137.7h0M140.8 227.4h0M151.2 221.3h0M124.1 185.7h0M113.5 135h0M110.5 146.5h0M114.4 136.7h0M139.1 208.5h0M138.9 212.1h0M109.9 141.8h0M138.9 200h0M145.7 217.4h0M135.2 218.4h0M142.5 189.3h0M101.1 155h0M147.9 210.6h0M124.7 188.3h0M120 149.3h0M135.6 199.6h0M130.8 196.7h0M112.8 167h0M126.6 185.9h0M125.2 162.5h0M142.7 185.1h0M101.7 137.6h0M131.1 194.6h0M144.5 205h0M139.7 191.2h0M142.3 231.9h0M125.4 193.7h0M108.5 162.4h0M134.9 173.5h0M145.4 189.3h0M149.7 219.3h0M117.8 187h0M150.8 202.5h0M133.3 174.7h0M120.9 174.5h0M140.4 224.2h0M111.7 133h0M123.7 195h0M122.2 175.7h0M119.4 184.9h0M142.4 185h0M132 156.2h0M121.3 190.8h0M119.9 151h0M131 189.2h0M102 152.8h0M150.1 194.9h0M139.1 227.4h0M116 151.4h0M140.3 228h0M145.9 188h0M122.1 188h0M114.4 172h0M125.8 162.3h0M111.6 161.4h0M119.9 183.5h0M132.2 197.6h0M113.6 169.2h0M118.8 190h0M121.5 168h0M152.8 204.8h0M125.9 170.3h0M130.4 160.2h0M118.5 189.9h0M153.2 204.9h0M146.9 191.5h0M143.3 187.3h0M143.9 203.3h0M147.8 205.2h0M151.7 202.6h0M124 184.5h0M147.3 194.5h0M132.2 155.2h0M136.4 199.2h0M146.3 215.7h0M134 176.6h0M146.8 188h0M119.2 184h0M126.2 151.5h0M138 219.8h0M138.6 188.1h0M133.8 187h0M139.6 205.4h0M124.2 181h0M141.8 204.1h0M106.4 136.7h0M140.6 189.4h0M153.3 218h0M137 219h0M128.3 162.4h0M137.6 198.5h0M128.6 179.7h0M143.2 226.3h0M127.3 172.6h0M114.6 174.9h0M126.1 157.7h0M142 189.4h0M117.1 151.2h0M123.9 155.9h0M130.2 200.1h0M131.2 208.4h0M132.2 205.3h0M119.9 166.1h0M129.3 182.4h0M118.7 177.5h0M142.5 185.9h0M132.6 176.1h0M131.9 190.7h0M133.5 213.5h0M129.3 157.5h0M102.6 156.1h0M143.3 208.4h0M139.2 211.9h0M109.7 157.5h0M111 133.4h0M120.2 188.8h0M149.9 218.7h0M146.5 228.2h0M112.1 137.2h0M130.6 170.7h0M134.2 175.7h0M125.1 153.3h0M120.3 191.1h0M120.1 159.8h0M112 148.3h0M131.4 213.8h0M139.8 219.4h0M123.3 177.8h0M104 159.4h0M151.4 219.7h0M116.8 157.5h0M130.8 154.1h0M140.2 190.7h0M114.4 157.8h0M141 228.5h0M132.6 163.9h0M134 188.9h0M130.6 194.3h0M134.2 213.1h0M147.1 189.8h0M124 148.6h0M145.2 226h0M123.5 188.8h0M101.8 147.4h0M133.4 203.1h0M110.3 136.6h0M130.1 168.8h0M121.8 173.5h0M139.2 191.6h0M113.5 163.4h0M118.3 189.8h0M140.9 228.1h0M143.8 228.5h0M124.8 149.4h0M145.7 191.9h0M124.4 170.5h0M151.9 218.2h0M104.8 151h0M132 164.9h0M134.9 188.7h0M120.1 189.1h0M108.4 155.6h0M125 189.2h0M129 195h0M141.4 203.5h0M112.2 142.2h0M115.1 163.1h0M120.3 175.7h0M130.8 174h0M129.2 185.8h0M119.1 151.3h0M111 141.1h0M115.2 136h0M122.9 192.2h0M125 197.5h0M130.7 159.6h0M111.7 135.3h0M144.5 234.5h0M133 173.9h0M102.7 137.6h0M115.4 175.3h0M134.3 209.4h0M129.6 193.5h0M137.6 182.6h0M127.4 201.7h0M131.1 163.8h0M123.5 177.3h0M137.2 206.6h0M110 158h0M133.1 195.6h0M113.8 145.6h0M136.5 212.4h0M99.9 153.3h0M150.8 206.2h0M121.7 182.5h0M129.7 159.6h0M153.3 207.5h0M148.9 223.9h0M122.9 154.6h0M145.5 231.8h0M121 185.3h0M117.4 168.8h0M127.3 201.4h0M152.5 215.8h0M115.2 169.7h0M128.1 210.4h0M112.7 168h0M149.9 214.2h0M153.3 213.9h0M147.5 216.8h0M137.7 178.9h0M132 187.4h0M142.1 213.2h0M147.1 204.7h0M120.6 160.5h0M134 212.5h0M133.2 191.5h0M115.3 164h0M145.4 218h0M128.2 173.4h0M139.9 200.2h0M121 161.1h0M123.6 173.3h0M142.2 211.8h0M137.3 194.6h0M128.8 169.1h0M107.5 151.6h0M126.2 156.7h0M121.6 172.3h0M110.9 153.9h0M121.1 174.3h0M125.5 173.7h0M111.7 147.8h0M126.2 199.3h0M120 188.6h0M127 177.8h0M126.1 162.8h0M139.8 187.2h0M127.8 202.4h0M131.9 205.1h0M121 173.8h0M118.6 157.4h0M145 222.8h0M141.6 187.8h0M101.7 141h0M125.8 164.7h0M111.8 163.7h0M139.5 189.1h0M135.9 214.8h0M111.6 157.6h0M143.8 187.5h0M150.6 217.1h0M106.8 136.2h0M101.7 140.8h0M132.5 201h0M144.3 220.8h0M130.8 168.8h0M124 193.6h0M128.2 210.8h0M144.9 209.2h0M122.5 185.4h0M114.2 148.9h0M112.2 160.1h0M152.4 207.8h0M123.7 171.1h0M152.2 218.1h0M132.6 157.8h0M120.3 158.9h0M104.1 158.3h0M110.7 146h0M151.3 204.4h0M128.6 186.1h0M143.1 190.4h0M113.5 170.9h0M107.3 149.7h0M123.8 150h0M119 184.6h0M129.7 150.5h0M114.9 144.4h0M138.1 216.8h0M124.9 193.2h0M126.8 151.1h0M127 200.8h0M134.9 212.5h0M114.7 174h0M136.9 198.6h0M151 206.1h0M151.8 196.3h0M142.3 198.7h0M140.6 221.1h0M121.2 153.9h0M110.3 153.6h0M148.9 208.3h0M131.8 185.7h0M151.3 211.4h0M115.3 173h0M139.5 220.3h0M135.7 190h0M132.7 160.7h0M152.2 210.2h0M120.9 152.9h0M150.8 201.8h0M112.6 136.8h0M141.7 199.6h0M147.2 229.1h0M129.7 151.5h0M103.6 158.7h0M146.1 212.3h0M133.6 198.9h0M100.1 154.2h0M109.9 139.1h0M144.5 228.1h0M115.2 176.3h0M141 219.1h0M106.7 150h0M138.1 207.4h0M136.8 218.5h0M138.4 222.8h0M137.6 213.9h0" stroke="#1f77b4" stroke-width="3.0" stroke-linecap="round" fill="none"/>
<path d="M138.1 108.5h0M139 107.1h0M143.9 98.6h0M135.9 104.5h0M144.7 119.3h0M145.4 101.7h0M152.8 118.2h0M143.5 105.7h0M151 112.1h0M144.9 108.1h0M136.2 95.2h0M138.5 92.2h0M150.1 105.8h0M144.3 97.1h0M141.9 116.8h0M143.5 104.7h0M137.7 106.7h0M139.8 98.3h0M146.5 100h0M135.8 118.2h0M149.6 115.3h0M143.9 120.2h0M149.8 111h0M134.6 120.7h0M141.8 115.2h0M148 121.5h0M138.6 93.2h0M140.3 92.4h0M139.1 93.8h0M144.6 99.3h0M145.4 115.7h0M138.2 93.5h0M144.2 103.7h0M142.8 102.5h0M136.9 93.2h0M148.6 112.6h0M147.8 112.8h0M144.2 96h0M143 98.5h0M141.9 119.1h0M136 111.3h0M139.1 97.4h0M139.8 103.6h0M146.9 104h0M150 103.5h0M138.8 122.5h0M146.7 116h0M144.4 115.5h0M139.7 122.1h0M150.9 122.3h0M142.5 104.3h0M136.9 95.1h0M139.8 104.4h0M141.4 106h0M143.5 122.9h0M147.1 124.5h0M145.5 120.6h0M140.4 93.5h0M149.3 109h0M145 110.3h0M148.3 122.8h0M135 120.1h0M140.2 104.3h0M140.6 119.2h0M143.3 94.2h0M141.4 105.7h0M136.5 118.7h0M147.3 99.8h0M136.8 112.9h0M137.8 95.5h0M148.3 123.8h0M137.7 97.6h0M136.4 96.5h0M138.2 104.4h0M138.4 113.7h0M138.4 98.7h0M142.2 95h0M152 111.9h0M139.8 103.8h0M142.4 100.7h0M136.4 96.4h0M140.4 92.4h0M144.1 114.9h0M143.8 116.7h0M149.7 105.6h0M147.9 102.5h0M139.5 91.7h0M137.2 122.4h0M143.3 120.7h0M138.2 122.2h0M138.4 111.3h0M151.5 123.8h0M151.9 124.9h0M139.2 95.3h0M143.5 119.8h0M150.2 122.6h0M141 97.4h0M144.2 124h0M146.3 121.7h0M137.5 107.8h0M150 119.2h0M142.7 114.7h0M147.9 105.2h0M144.3 119.3h0M141.1 114.2h0M145 120.9h0M138.5 106.3h0M138.8 119.1h0M145.8 118h0M140.6 91.6h0M145.7 111.9h0M142.4 98.8h0M140.7 97.4h0M148.4 109.4h0M138.2 99.2h0M147.5 121.3h0M138.9 92.3h0M137.4 103.2h0M148.4 123.4h0M141.3 94h0M139.3 110.4h0M143.9 95.1h0M139.2 122.6h0M146.6 111.4h0M140.2 99.9h0M147.1 124.9h0M137.3 104.6h0M147.1 114.2h0M139.5 114.5h0M141.7 114.6h0M151.7 114.6h0M152.8 118.2h0M135.9 101.5h0M140.8 119.8h0M134.8 101.3h0M138.5 121.2h0M142.8 120.9h0M143.6 102.7h0M135.5 105.3h0M137.3 113.6h0M137 105.1h0M136.6 92h0M143.6 109.2h0M140.9 91.3h0M147 113.9h0M147.8 125.4h0M135.3 120.4h0M140.6 96.2h0M147.1 120.9h0M136.9 96h0M143.9 96.3h0M137.7 94.9h0M145.7 124.5h0M143.3 109.8h0M148.1 121.2h0M137.1 123.4h0M146.1 122.1h0M136.5 118.5h0M136 102.3h0M142.1 113.5h0M145.5 104.2h0M141.4 98.6h0M148.5 118.9h0M147.8 105.3h0M142 95.7h0M145.7 103.9h0M144.6 107.3h0M139.6 104.4h0M142.4 122.7h0M143 97h0M143.1 106h0M143.9 106.6h0M139.8 90.6h0M140.2 101.8h0M135.6 111.3h0M138 108.7h0M143.8 112.8h0M150.9 113.7h0M138.1 119.5h0M149.2 107h0M144.8 118.8h0M136.9 107.4h0M142.4 93.1h0M143.1 97.9h0M145.8 115.4h0M145.4 110.7h0M147.4 125.5h0M145.4 113.1h0M146.3 122h0M146.8 100h0M135.9 116.9h0M146.7 109.2h0M145.4 112h0M138.9 94.4h0M137.6 107.4h0M141.6 117.4h0M136.4 96.4h0M144.4 114.7h0M140 96.4h0M136.1 102.4h0M141.4 118.8h0M138.5 101.5h0M139.4 106h0M137.8 118.4h0M151.9 115.6h0M141.8 120.5h0M142 116.7h0M139.6 91h0M143 121h0M145.5 98.6h0M137.9 109.8h0M144.1 122.9h0M137 106.2h0M142.8 102.9h0M137.3 103.1h0M144.8 95.9h0M140.1 108.6h0M144.3 101.6h0M135.9 106.6h0M146.3 101.9h0M148.8 112.6h0M144.4 111.5h0M145.1 97.3h0M140.6 115.8h0M141.7 108.6h0M138.2 112.4h0M149.2 119.1h0M148.1 106.3h0M139 115.3h0M142.2 100.8h0M135.9 111.6h0M148.3 117.8h0M136.6 96.3h0M152 123.8h0M146.6 98.5h0M145.2 117.7h0M140.6 113.2h0M146 123.1h0M149.7 114h0M144.8 122.4h0M146 114.7h0M139.9 92.6h0M145.1 97h0M137.4 110.5h0M139.9 92.8h0M143.8 108.6h0M140 114.1h0M142.7 119.7h0M147.6 98.4h0M152 117.7h0M143.8 99.2h0M136.8 91.4h0M144.8 108.5h0M137.4 108.7h0M135.1 100h0M152.9 123.4h0M135.6 101.8h0M153 118.5h0M140.3 119.3h0M143.4 122.6h0M145.1 112.8h0M143 102.1h0M137.3 92h0M139.7 108.6h0M138.1 98.4h0M148.6 118.5h0M140.8 106.4h0M145.7 111.1h0M140.2 106.9h0M135.9 98.7h0M151.9 123.3h0M135.8 110.9h0M139.7 108.8h0M142.3 110.2h0M134.8 111.8h0M145.3 124h0M152.1 112h0M144.3 117h0M142.9 115.4h0M141.2 109.6h0M148.8 110.8h0M146 103.1h0M140.8 113.4h0M142.8 105.3h0M141.4 99.6h0M146.5 121.9h0M137.5 113.2h0M144.5 112.8h0M147.3 103.7h0M144.3 112.5h0M147.1 101.9h0M142.9 114.8h0M145.9 97.1h0M144.5 99.7h0M141.1 97.1h0M138.7 93.7h0M141 92.7h0M135.4 121.6h0M142.6 105.1h0M138.4 122h0M138.1 122.1h0M140.4 119.2h0M148.4 124h0M145.5 102.2h0M138.9 97.5h0M135.6 99.9h0M140.1 119.8h0M137.7 93.6h0M141.3 103.5h0M135.3 121.6h0M140.3 95.2h0M137.3 116.8h0M148.3 106.1h0M137.7 100.5h0M140.5 98.1h0M141.5 116.5h0M146.3 113.3h0M137.5 96.3h0M151.1 125.6h0M137.6 91.5h0M151 120.6h0M139.4 94h0M144.2 117h0" stroke="#7f7f7f" stroke-width="3.0" stroke-linecap="round" fill="none"/>
<path d="M160.3 37.1h0M157.8 50.6h0M162.7 40.6h0M144.9 57.1h0M176.7 27.1h0M170 42.3h0M179.4 19.9h0M150.3 65.3h0M144.3 56.4h0M146.8 65.3h0M142 54.8h0M162.3 51.4h0M174 32.5h0M146.8 64.2h0M149 60.6h0M155.3 70.1h0M171.2 36.5h0M164.3 36h0M163 47.8h0M146.2 65h0M155.9 61.6h0M153.4 57.8h0M161.3 66.2h0M148.1 60.1h0M152.2 55.1h0M165.7 36.8h0M150.4 54.1h0M166.5 30.5h0M163.8 47.7h0M157.6 63h0M168.4 40.7h0M156.6 39.5h0M167.2 47.1h0M158 59.8h0M151.1 49.3h0M171.3 38.3h0M160.2 48.8h0M148.2 62.3h0M173 23.6h0M146.8 62.5h0M170.9 24.1h0M161.9 49.2h0M147.6 52.1h0M145.7 55.9h0M180.6 22.6h0M171.4 26.6h0M178.1 19.5h0M147.9 63.4h0M145.8 54.5h0M158.8 54.9h0M144.7 55.3h0M156 63.6h0M172.7 31.9h0M155.9 51.4h0M164.8 34.4h0M157.1 51.5h0M151 58.4h0M164.2 44.2h0M148.6 50.8h0M156.8 46.1h0M155.4 61.7h0M157.8 64.5h0M149.2 62.4h0M159.4 54.5h0M157.5 51h0M154.2 52.9h0M157.3 63.7h0M175.7 31.2h0M168 35.1h0M154.7 62.7h0M155.1 68.8h0M160.3 66.2h0M159.4 71.8h0M159.9 42.1h0M167 29.2h0M149.3 56h0M167.9 46.3h0M152.6 56.6h0M165.4 49h0M165 39.7h0M149.8 55.3h0M150.5 50.2h0M174.3 29.9h0M159 48.5h0M159 67.9h0M169.6 40.7h0M165.8 35.2h0M154.7 43.4h0M145.7 62.9h0M151.3 54.1h0M169.1 43.1h0M158.9 57.4h0M164.5 52.5h0M150.6 57.2h0M164.3 60h0M157.5 56.8h0M170.7 37.8h0M140.8 56.5h0M155.7 63.5h0M167.9 42.9h0M161.9 40.4h0M152.2 59.8h0M160.9 63.2h0M176.1 26.2h0M175.9 32h0M161.3 65.3h0M164.2 53.5h0M164 35.6h0M154.3 66.2h0M159.9 54.3h0M150.4 50.8h0M162.9 56.7h0M148.3 63.7h0M168.1 35.1h0M160 55.6h0M156.8 47.4h0M157.2 59.4h0M167 44.7h0M177 19.9h0M158.5 64.2h0M171.7 38.1h0M161.6 40.5h0M149.4 66.5h0M163.3 56.9h0M167.2 35.7h0M176.6 22.1h0M158.4 56.5h0M149.9 65.3h0M155.6 45h0M153.2 62.6h0M152.5 50.6h0M161.5 51.1h0M160.5 57.7h0M159.8 50.3h0M147.7 50.7h0M177.9 22.7h0M155.9 53.2h0M154 62.3h0M153.4 52.7h0M169.2 26.8h0M162.9 58h0M170 25.9h0M170.8 38.6h0M154.1 44.8h0M173.4 35.7h0M169.4 42.3h0M169.8 34.4h0M143.4 55.3h0M159.3 45.9h0M158.2 42.9h0M152.4 51.8h0M173.4 31h0M172 30.7h0M161.7 61.1h0M148.3 52.2h0M177.7 24.9h0M164 41.3h0M154.5 70.7h0M153.2 50.6h0M153.2 55.5h0M145.9 63.7h0M147.2 56.7h0M142.9 55.7h0M149.1 64.7h0M165.8 38.3h0M168.6 26.5h0M143.6 55.3h0M162.6 45.6h0M152.4 68.6h0M159.4 38.2h0M171.1 35.5h0M156.4 71.9h0M155.9 55.1h0M156.9 52.7h0M164.9 33.1h0M148.2 66.8h0M163.1 55.3h0M177.2 22.7h0M151.5 48.5h0M169.2 33.1h0M150.8 58h0M170.8 36.9h0M162.7 52.9h0M157 38.7h0M168.2 41h0M164.3 41.1h0M153.7 65.1h0M152.2 62h0M164 34.1h0M149.1 61.3h0M154.7 68.9h0M169.2 26.4h0M162.9 57.1h0M145 54h0M153.2 47.4h0M149.3 59.6h0M155.5 65.9h0M158.6 45.1h0M157.2 57.8h0M149.3 53.9h0M158.6 66.5h0M177.1 23.7h0M165.6 46.4h0M159.4 52.9h0M156.9 44.6h0M169.7 41.5h0M147 66.3h0M147.8 51.3h0M161.5 50.2h0M170.5 33.6h0M155.6 56.6h0M157.1 39.6h0M156 43.5h0M171.5 34.6h0M156.5 54.6h0M155.8 70.8h0M159.1 58.1h0M155.7 61.2h0M160.3 66.3h0M166.9 49.6h0M175.9 23.2h0M174.4 29h0M172.7 23.6h0M154.6 44.1h0M156 47.3h0M156.2 66.5h0M141.1 56.4h0M176.4 30.9h0M154.3 52.3h0M176.5 24.9h0M166.5 41h0M159.6 66.4h0M149.3 58.7h0M177.3 23.6h0M150.7 63.6h0M173.3 31h0M163.8 42.8h0M171 40.6h0M153.2 60.4h0M169.2 38.6h0M170 33.1h0M154.3 41.7h0M161.2 68h0M159.1 68.4h0M145.9 57.1h0M158.2 42.5h0M155.8 56.4h0M158.7 69.6h0M170.3 25.8h0M167.6 29.2h0M157.2 71.7h0M165 46.8h0M165.2 34.4h0M148.7 51.9h0M160.4 34.9h0M160.8 61.6h0M180.7 23.8h0M160.2 62.2h0M169.8 41.8h0M162.5 56.1h0M172 40.8h0M155.2 69h0M159.2 47.9h0M174.8 21.6h0M151 51.7h0M160.7 56.8h0M148.3 51.2h0M161 35.1h0M173.9 35.1h0M145.9 55.4h0M150 63.2h0M164.7 31h0M158.7 51.3h0M163.1 56.1h0M165.7 44.5h0M175.9 26.5h0M157 64.9h0M156 69.4h0M157.5 62.2h0M168.9 26.2h0M153.6 43.6h0M157.9 57.9h0M169.2 28.9h0M155.1 42.8h0M166.5 47.1h0M157.8 45.9h0M154.4 64.4h0M162.9 56.9h0M160.4 63.7h0M168.3 36.6h0M172.2 23.8h0M152.7 60.1h0M175.9 21.1h0M161.7 47.6h0M156.7 62.4h0M161.2 37.9h0M156.8 58.1h0M148.2 66h0M167.4 31.9h0M156.8 61.4h0M150.7 60.6h0M175.7 27.9h0M170.5 34.7h0M156 56.1h0M174.1 29.5h0M156.3 48.4h0M158.7 46.4h0M175.1 25h0M170.2 34.2h0M157.9 52.8h0M155 58.6h0M152.9 63.4h0M162.3 39.7h0M147.6 51h0M156 71.6h0M175.4 32.3h0M163.4 43.1h0M172 38.2h0M168.9 26.7h0M159.4 49h0M175 22.7h0M155.1 70h0M164.7 49.5h0M170.6 34.1h0M157 70.5h0M150.1 61.3h0M152.1 50.5h0M153.4 69.4h0M176.3 24.5h0M176.2 31h0M172.3 25.8h0M160.9 50.2h0M149.7 62.4h0M168.9 31h0M161.6 65.2h0M142 56.3h0M175.9 28.5h0M174.9 32.6h0M169.7 30.4h0M153.7 62.4h0M166.4 49.1h0M159.6 66.7h0M170.5 36.1h0M164.6 45.3h0M149 61.9h0M160.5 53h0M152.7 50h0M165.2 33.3h0M158.3 50.1h0M162.8 62.6h0M149.8 53.3h0M154.9 46.8h0M168 42.7h0M152.3 49.5h0M148.2 63.8h0M156.3 70.3h0M167.2 31.3h0M147.7 52.5h0M146 62h0M156.2 61.4h0M154.2 51.6h0M167.6 42.9h0M143.8 57.2h0M167.1 37.6h0M157.4 69.8h0M160 38h0M157.4 49.2h0M160.9 49.9h0M153.3 63.3h0M160.8 36.5h0M162.8 56.5h0M157.1 41.7h0M161.7 60.3h0M151.6 53.7h0M158.3 57.2h0M155.8 43.1h0M162.7 60.3h0M162.2 41.6h0M165.2 40.6h0M156.4 63.9h0M149 55.4h0M149.5 59.5h0M166.1 40.4h0M169.5 29h0M160.1 60.9h0M155.5 46.7h0M158.9 65.6h0M155.3 63.8h0M171.2 29h0M154 61.9h0M178.7 23.8h0M147.5 66.2h0M160 45.5h0M170.1 28.9h0M173.4 36.6h0M156.6 67.8h0M154.4 47.4h0M175.6 28.3h0M169.4 44.8h0M148.8 53h0M163.8 59.1h0M162.1 52.4h0M162.1 44.9h0M153.8 46.6h0M158.5 48.7h0M153.1 52.1h0M164.4 43.4h0M164.2 41.5h0M151.6 59.3h0M167.9 38.2h0M155.3 46.3h0M167.4 35.8h0M160.8 53.2h0M156.9 67.9h0M175.9 22.1h0M146.7 62h0M154.5 63.6h0M152.6 63.7h0M162.5 34.8h0M159.1 44.1h0M164.5 39.5h0M160.4 56.6h0M171.3 35.6h0M144.9 56.5h0M168.2 33h0M143.8 55.7h0M173.5 30.2h0M162.7 59.9h0M163.7 52.8h0M149.1 61.9h0M171.9 32.4h0M176.1 31.5h0M161.6 33.8h0M157.4 68.6h0M157.7 46.3h0M175.8 22.5h0M169.7 25.4h0M142.4 55.9h0M172.1 36.6h0M166.1 43.3h0M151.6 62.4h0M149.9 53.8h0M168.3 41.6h0M154.2 53.4h0M152.6 44.4h0M167.3 33.8h0M145.4 54.5h0M158.1 65h0M164.9 55.7h0M154.1 57.6h0M150.1 60h0M162.7 53.1h0M158.1 52.9h0M168.4 31h0M176.1 22.1h0M160.1 37.4h0M163.3 53.4h0M151 49h0M156.2 69.4h0M155.6 52.8h0M160.8 43.9h0M167.9 37h0M162.9 36.2h0M146.9 56h0M171.1 30.5h0M157.9 68.5h0M153.6 53.7h0M158 66.9h0M171 31.3h0M167.6 46.8h0M163.7 41.6h0M163.7 49.4h0M146.6 53.3h0M174.4 31.3h0M164.6 40.1h0M164.3 44.7h0M149.2 55.9h0M153.9 61.2h0M166.1 50h0M145.1 59.4h0M146.7 59.5h0M161.7 59.6h0M171.2 39.7h0M155.3 64.7h0M169.2 37.3h0M168.8 44.1h0M174 29.2h0M148.3 65.7h0M163.2 45.8h0M177.2 26.8h0M163.9 41h0M164.8 41.4h0M160.8 45.4h0M166.9 30.8h0M145.3 61h0M154.4 48.2h0M151.2 61h0M156 55.1h0M144.8 55.8h0M145.1 54.8h0M157 63.1h0M160.9 46.3h0M175.5 20.3h0M158.1 63.7h0M167.8 31.8h0M156.1 60.7h0M176.3 23.4h0M157.8 42.6h0M162.9 64.3h0M149.3 60.6h0M155.1 71.1h0M156.1 47.1h0M163.6 45.8h0M150.5 56.2h0M160.2 69.5h0M161.9 36h0M159 64.9h0M158.6 51.9h0M156.2 57.3h0M153.7 46.9h0M159.7 37.6h0M155.5 63.3h0M144 58.2h0M165.8 44.2h0M157.9 44.8h0M154 49.2h0M176.9 21.5h0M146.9 59.5h0M160.4 69.7h0M167.1 38.5h0M143.8 58.9h0M156.5 56.1h0M169.8 38.6h0M156.5 69.5h0M150.9 57.8h0M171.9 23.8h0M148.6 60.4h0M178.3 27.3h0M149.5 54.2h0M160.7 70.2h0M148.7 52.4h0M162.8 41.9h0M157.4 51.2h0M160.2 61h0M151.4 59.1h0M175.7 29.5h0M155.5 45.3h0M159.8 69.2h0M156.1 67.8h0M152.1 59.5h0M152.6 65.5h0M170.4 42.2h0M149.5 53.6h0M162.3 55.3h0M160.5 67h0M166.4 38.5h0M158.4 58.6h0M173 24.7h0M172.6 39.6h0M160.2 39.5h0M158.2 37.6h0M154.6 66.7h0M169.8 36.4h0M159.2 54.2h0M158.5 47.7h0M159.1 41.2h0M164 40.4h0M172.8 27.3h0M169.8 31.7h0M157.1 71.9h0M167.2 30.7h0M153.1 51.9h0M158 52.9h0M152.4 64.8h0M171.9 27.5h0M158.3 71h0M169.9 36.2h0M146.2 57.4h0M163 54.1h0M144.5 54.4h0M174.6 29.5h0M166.9 45.7h0M165.6 36.6h0M163.2 39.8h0M157.4 49.8h0M173.2 25.5h0M148.7 55.1h0M162.7 41h0M163.4 60.4h0M168.8 38.7h0M169.2 42.3h0M148.2 62.1h0M154.5 49.7h0" stroke="#e377c2" stroke-width="3.0" stroke-linecap="round" fill="none"/>
<path d="M179.9 101.9h0M192.9 124.3h0M187.2 104.9h0M185.7 135.1h0M180.2 102.2h0M179.1 116.3h0M183.9 103.7h0M185.5 146.8h0M179.2 105.4h0M184.1 145.7h0M176.6 96.3h0M183.7 119.7h0M175.2 99.5h0M179.4 115h0M183.8 100.6h0M190.3 126.9h0M190.5 141.8h0M195.5 129.8h0M184.6 133.9h0M183.5 141.4h0M188 122h0M181.1 101h0M197.9 125.6h0M178 142h0M196.5 119.7h0M178.1 114.1h0M183.9 130.1h0M180.7 114.5h0M192.1 137.8h0M195.1 136h0M187.4 111.2h0M191.5 116.1h0M192.2 125.8h0M180.7 110.2h0M176.1 144.9h0M185.5 110.5h0M181.8 99.8h0M179.3 147.5h0M198 128.8h0M182.2 101.7h0M183.1 131.4h0M186.3 142.3h0M180.6 139.5h0M182.9 104.4h0M194 137.6h0M188.6 119.1h0M178 140.5h0M189.4 130.5h0M174.5 94.7h0M185.7 145.5h0M195 117.1h0M194.2 120.3h0M190 118.2h0M187.1 108.4h0M176.3 142.1h0M186.3 110.5h0M178.9 111.4h0M183.3 112.2h0M181.5 113.1h0M197.3 122.7h0M179.4 118.1h0M189.1 114h0M191.5 140.2h0M187 139.7h0M189.3 139.3h0M181.6 104.5h0M187.3 110.1h0M180.8 112.3h0M187.3 138.2h0M184.6 146.8h0M181.8 104.2h0M180 113.5h0M184.4 120.2h0M193 137.6h0M181.9 136.2h0M188.7 121.1h0M185.2 103.7h0M183.8 126.6h0M176.8 95.7h0M184.6 131.2h0M185.4 138.9h0M180.1 117.8h0M187 104.6h0M184.8 122h0M185 115.6h0M178 101.9h0M179.4 95.3h0M178.5 95.6h0M195.5 129.1h0M184.6 110.5h0M189.8 111.7h0M177.2 94.2h0M176.9 146.2h0M188.1 134.2h0M184.4 132.6h0M182.7 122.2h0M189 137.7h0M197.3 128.7h0M176.3 144.5h0M179.1 144.1h0M193.4 127.5h0M195.7 121.3h0M195.1 118.4h0M180.8 148.1h0M181.6 99h0M187.9 142.8h0M186.1 111.5h0M184.7 106.2h0M181.4 136.7h0M182.2 142.3h0M184.9 134.2h0M185.5 108.6h0M190.9 112.7h0M188.8 106.9h0M191.2 137.7h0M185.7 144.9h0M182.1 113.7h0M192.2 136.4h0M182.8 117.6h0M185.4 140.7h0M174.1 96.5h0M184.6 127.1h0M181.3 116h0M179.6 107.2h0M196.3 127.5h0M177.2 101.7h0M195.3 130.8h0M183.1 105.9h0M191.5 128.8h0M182.4 106.9h0M177 94h0M183.4 145.6h0M191.3 112h0M179.1 138.2h0M177.7 107.1h0M193.6 119.5h0M189.7 131h0M193.2 123.2h0M177.4 141.2h0M187.1 131.6h0M190 141h0M191.7 112.2h0M191.9 124.1h0M175.7 99.4h0M183.5 125h0M186.4 119.7h0M185.2 138.9h0M182 136h0M187.3 142.9h0M186 118.2h0M176.2 143.3h0M186.5 116h0M186.7 116.9h0M173.4 95.5h0M176.9 101.8h0M194.1 126.1h0M191 120.7h0M186.2 114.8h0M173.1 96h0M192.6 121h0M179.6 144.6h0M177.1 103.4h0M176.8 146.9h0M190.4 118.4h0M191.7 116.2h0M177.9 145.3h0M177.3 104.1h0M176.7 104.7h0M185 146.4h0M192.6 130.5h0M177.1 95h0M180 107.5h0M185.4 112.3h0M181.9 110.1h0M189.5 108.2h0M183.6 109h0M189.1 143.1h0M176.6 94.8h0M181.7 136.1h0M178.7 138.8h0M179.1 137.7h0M190 116.2h0M180.4 120.3h0M189.1 142h0M190.2 124h0M185.5 127.3h0M186 116.8h0M180.4 106.5h0M189.1 138.2h0M189.9 134.5h0M191 117.9h0M180.4 113.2h0M182.3 113.2h0M185.6 133.9h0M188.9 137.2h0M188.9 114.5h0M189.9 118h0M179.4 110h0M182.7 98.2h0M187 145.4h0M184.7 108.5h0M191.2 137.4h0M195.5 118.1h0M182.7 137.6h0M184.6 106h0M188 117.2h0M186.2 117.7h0M176.6 102.2h0M190 130.2h0M181.6 109.3h0M190.7 136.5h0M195 118.6h0M186.6 125.1h0M184.8 137.3h0M186.5 111.9h0M181.9 139.4h0M197.2 126.7h0M177.5 104.2h0M191.5 130.6h0M184.5 144.6h0M183.4 110.3h0M184.3 123.3h0M177.7 108h0M180.7 107.9h0M177.2 146.8h0M191.2 129.6h0M179.2 108.3h0M190.8 113.6h0M196 128.5h0M180.8 122.1h0M177.7 104h0M177.1 97.2h0M178.3 141.3h0M185.4 118.9h0M179.9 121.7h0M190.4 119.5h0M190.8 114.4h0M179.6 104.7h0M183.3 116.5h0M181.9 112.9h0M175.8 96.1h0M186.1 129.2h0M193.4 135h0M176.3 142.1h0M177.4 101.3h0M188.4 116.7h0M178.7 107.7h0M184.8 115.3h0M195.2 125.9h0M181.7 147.7h0M180.4 136.4h0M179 118.1h0M186.8 109.7h0M188 130.1h0M175.3 96h0M184.7 113.6h0M185.2 116.3h0M176.1 144.3h0M177.7 93.4h0M180.4 109.1h0M193.4 123.8h0M187.3 132.9h0M185.3 139.2h0M186.3 134.5h0M196.2 120h0M190.2 122.6h0M178.6 101.6h0M194 118h0M184.7 113h0M178.7 112.2h0M179 99.3h0M185.9 130.2h0M191.3 124.9h0M176.8 93.3h0M187.1 132.1h0M193.9 133.1h0M187.5 112.7h0M186.9 131.5h0M185.2 113.6h0M188.1 141.6h0M189.3 135.8h0M178.5 146.1h0M187.2 123.5h0M181.4 140.5h0M188.5 123.9h0M187.9 137.2h0M182.9 134.3h0M184.2 115.1h0M196.5 128.1h0M181.2 103.3h0M184.5 100.8h0M185.2 131.1h0M194.3 117h0M176.6 94.2h0M187.3 122.4h0M178.4 102.8h0M194.5 125.1h0M178.3 112.7h0M177.8 93.3h0M194.1 136.2h0M179.5 111.8h0M179.6 148.4h0M190.3 111.8h0M183.5 141.3h0M183.4 104.6h0M188.6 129.7h0M190.6 115.6h0M180.4 102.6h0M180 96.7h0M187.4 140.2h0M189 115.7h0M184.4 105.9h0M181.6 147.2h0M196.7 127.3h0M190.6 110.6h0M175.5 94.6h0M181.5 100.4h0M180.2 138.3h0M193.7 125.5h0M183.2 138.5h0M184.3 110.6h0M175.5 143.1h0M196.6 132.1h0M187.7 113.3h0M185.8 110.7h0M194.9 125.7h0M183.6 128h0M189.3 117.9h0M188.6 124.2h0M188.9 129.8h0M184.6 124.7h0M187.1 145.2h0M183.7 115.4h0M185.8 122.2h0M196.9 125.9h0M191.2 139.1h0M179.8 143.4h0M187.8 109.1h0M191.1 115.1h0M195.6 128.1h0M190.9 122.8h0M194.6 134.2h0M184.3 146.9h0M196.2 128.9h0M186.2 122.9h0M178.7 104.8h0M179.1 106.2h0M176.4 148.5h0M174.2 93.9h0M181.7 124h0M189.2 141.9h0M187.9 139.4h0M188.7 136.1h0M180.9 98.2h0M185.8 117.3h0M192.5 130.1h0M180.8 106.7h0M185 120.8h0M188.1 123h0M176.6 141.3h0M189.4 130.8h0M183.1 126.1h0M190.8 115.5h0M190.3 110.4h0M172.6 94.5h0M174.5 95.7h0M186.4 117h0M185 125.4h0M185 114.4h0M195.1 122.4h0M187.5 112.2h0M179.2 113.1h0M188.1 112.7h0M180.1 112.7h0M192.2 135.8h0M185.1 132.7h0M179.6 148h0M187.2 117.2h0M189.8 120.7h0M190.8 122.6h0M195.7 124.1h0M185.5 127.4h0M181.6 116.5h0M190.5 134.1h0M183.2 126.7h0M185.7 109.4h0M190.2 116.5h0M185.7 133.2h0M188.1 136.3h0M185.2 138.8h0M188.2 138.6h0M181.6 99h0M185.3 143.5h0M191.6 130.7h0M186 139h0M193.5 131.1h0M183.7 118.3h0M193.5 132.7h0M186.7 122.5h0M180.7 137.4h0M190.1 137h0M184.7 136.1h0M191.8 112.9h0M183.9 127.3h0M180.2 100.5h0M182.2 104.6h0M184.9 106.3h0M191.1 141.3h0M189.8 108.4h0M181.7 106.9h0M181.9 139.6h0M184.4 139.8h0M179.2 105.4h0M183.6 115.6h0M180 102.2h0M194.2 130.2h0M179.5 146.7h0M185.7 125.8h0M179.4 113.6h0M184.6 124.4h0M180.7 111.9h0M186.8 128h0M191.6 128.2h0M188.7 133h0M187.5 127.1h0M180.9 111.2h0M176.8 147h0M185.1 131.7h0M187.5 144.2h0M191.4 119.6h0M181.6 114.8h0M183.5 139.5h0M179.8 124.5h0M186.8 143.4h0M188 127.2h0M196.7 123.1h0M184.5 119.8h0M189.4 108h0M181.7 141h0M178.5 99.9h0M185.3 127.6h0M177.9 101.7h0M188.7 109.8h0M178.9 106.3h0M178.7 99.5h0M197 126.8h0M190.9 136.2h0M184 127.1h0M184.8 106.4h0M185.3 104h0M189.8 142h0M178.5 114.8h0M174.6 143.6h0M178.8 115h0M186.9 125.8h0M192.9 117.8h0M193.6 121.8h0M182.3 107.9h0M194.6 126.5h0M185.4 126.4h0M175.9 143.7h0M181.2 124.2h0M179.5 116.9h0M183.8 106.7h0M182.1 108.4h0M195.9 130.5h0M189.9 118.6h0M175.6 93.6h0M175.1 142.1h0M196.7 132.3h0M190.4 116.9h0M176.3 103.1h0M172.9 97.2h0M184.7 109.5h0M194.7 134.5h0M190.7 109.4h0M180.8 103h0M186.8 120.8h0M193.7 128.7h0M179.2 112.2h0M184.8 114.3h0M186 125.5h0M187.5 145.2h0M179.9 141.1h0M184.9 136.2h0M187.4 118h0M184 127.1h0M183.3 124.9h0M184 123.8h0M173.9 93.9h0M191.8 140.1h0M181.6 122.4h0M190.5 131.2h0M193.1 132.2h0M180 99.8h0M193.2 132.4h0M187.7 115.5h0M192.3 125.7h0M188.5 123.7h0M194.5 133.5h0M184.5 118.2h0M181.7 113.2h0M180.6 119.1h0M186.8 120.2h0M185.3 112.4h0M185.6 109.2h0M187.6 109.5h0M180.2 118.1h0M188 136.4h0M184.8 127.6h0M181.8 142.6h0M185.4 136.1h0M185.5 109.9h0M189.9 125.4h0M176.7 145.4h0M186.3 118.5h0M187.1 117.9h0M192.2 130.6h0M175.4 143.6h0M174.6 92.9h0M190.5 131.8h0M192.7 122.5h0M172.5 94.2h0M188.9 135.8h0M181.3 118.3h0M190 131.6h0M190.1 136.9h0M191.9 128.3h0M187.4 106h0M191.9 119.2h0M178.8 112.3h0M176.6 148.5h0M189 123.6h0M173.6 95.8h0M196.7 129.2h0M197.6 127.6h0M190.8 141.1h0M180.4 140.9h0M180.5 140h0M179.9 123.9h0M182.8 128.8h0M173.9 95.8h0M190.7 121.9h0M186.9 128h0M172.7 95.6h0M179.2 113h0M194.1 137.7h0M183.6 131.8h0M193.8 129.6h0M187.9 134.9h0M193.8 130.6h0M181.4 139h0M177.6 139.3h0M192 116.7h0M187.4 113.9h0M181.7 116.9h0M195.1 134.9h0M180.7 98.1h0M192.2 131.3h0M179.7 102.6h0M183.1 110.2h0M192.7 128.8h0M193.7 126.9h0M181 107.2h0" stroke="#d62728" stroke-width="3.0" stroke-linecap="round" fill="none"/>
<path d="M235.2 101.8h0M233.9 96.6h0M241.1 148.6h0M235.6 146.1h0M247.3 128.5h0M241.7 133.2h0M234 124.8h0M245.6 122.1h0M238.1 143.8h0M246.7 125.9h0M240.9 126.3h0M242.7 105.1h0M233.4 122.9h0M242.9 143.3h0M234.3 102.8h0M237.9 144.1h0M236 97.3h0M231.2 103.2h0M245.7 137.6h0M243.6 142h0M232.7 155h0M239.9 107.8h0M240.2 109.1h0M248 131.1h0M234.6 110.9h0M234.8 112.1h0M242 139.9h0M237.2 145.5h0M234.3 123h0M234.8 137.8h0M236.2 122.1h0M237.3 142.2h0M240.1 115.9h0M235.8 138.9h0M244.1 127.2h0M241 115.4h0M232.8 112.4h0M236.2 105.8h0M236.8 117.4h0M232.8 119.7h0M231.7 110.6h0M240.9 145.6h0M238.5 127.4h0M235.2 133.1h0M235.8 141.2h0M237.1 112.8h0M239.3 129.9h0M243 145.6h0M242.1 106.9h0M245.2 142h0M237.1 147.2h0M236.8 100.8h0M238.3 101.4h0M238.3 139.4h0M242.9 131.6h0M240.6 109.1h0M236.1 152.6h0M238.8 109.4h0M238.6 97.8h0M229.1 108.7h0M236.3 115.6h0M245.1 109h0M242.1 122.1h0M249.2 139.1h0M242 128h0M232.6 114.1h0M244.1 142.7h0M233 115.8h0M244.1 124.9h0M238.1 94.7h0M244.8 112.8h0M243.5 126.4h0M236.9 139.6h0M233.6 137.1h0M235.7 100h0M233.1 116h0M241.2 114.7h0M243.1 138.9h0M238.8 141.9h0M246.3 129.7h0M240.6 109.9h0M233.4 152.4h0M233.9 103.3h0M247.7 131h0M235.7 113.9h0M233.9 111.5h0M236.7 122.1h0M236 126.4h0M239.6 148.7h0M240.1 134.8h0M242.9 115h0M238 104.1h0M237.3 143h0M234.8 135.8h0M245.4 134.9h0M244.8 130.8h0M236.2 152.9h0M232.7 121.7h0M235.3 129.5h0M235.7 142.9h0M241 101h0M238.1 111.4h0M243 135.7h0M230.1 112.7h0M234.3 100.5h0M230.7 105.3h0M241.6 111.6h0M235.5 150.5h0M230.5 111.5h0M241.6 125.5h0M237.9 113.2h0M236.5 111.3h0M238.4 152h0M232.3 102.1h0M244.5 109.3h0M244 111.7h0M232.9 138.1h0M244.8 109.8h0M240.2 110.5h0M245.1 121.6h0M233.6 97.6h0M239.3 102.5h0M243.2 123.9h0M233.1 150.9h0M240.2 143.1h0M233.1 109.4h0M239.5 139.5h0M231 107.7h0M241.1 118.9h0M235.4 115.2h0M238.7 112.7h0M241.8 100.2h0M236.7 152.4h0M239.3 144.6h0M245.1 135.9h0M245.3 112h0M242.2 135.9h0M233.4 117h0M243.9 129.5h0M240.3 99.1h0M237.4 143.8h0M240.8 133.1h0M242.2 128.6h0M243.8 142.9h0M234.7 97.7h0M235 132.2h0M233 113.7h0M238.5 113h0M240 143.7h0M233.4 149.9h0M239 132.8h0M239.2 97.2h0M243 118.2h0M235.4 139h0M236.7 93.7h0M240.6 127.3h0M235.2 121.4h0M240.1 150.4h0M243.7 112.7h0M234.7 116.9h0M241.7 146.4h0M240.8 97.5h0M241.1 148.8h0M232.7 152.1h0M233.9 98.2h0M229.8 108.8h0M245 125.8h0M241 100.7h0M245.9 142.7h0M236.5 148.8h0M237.6 135.1h0M244.8 103.9h0M240.7 144.2h0M235.7 120.9h0M242.8 139.8h0M237.4 99.2h0M237.1 98.2h0M239.3 151.7h0M235.3 93.4h0M244.3 127.2h0M236.7 111.4h0M239.8 123.5h0M244.1 120.2h0M238.6 102.1h0M237.1 105.5h0M237.7 133.9h0M238.8 105.3h0M232.7 102.1h0M239.5 122.9h0M239.6 118.3h0M236.4 122.4h0M235.6 137.3h0M237.6 110.1h0M242.7 145.8h0M237.7 98.2h0M239.1 100.4h0M234.8 102.2h0M246.4 129.5h0M237.5 115.3h0M234.8 102.9h0M237.2 147.7h0M239.2 106.5h0M245.3 128.1h0M238.2 140.9h0M243.6 100.2h0M242.5 116h0M237 100h0M238.2 102.3h0M237.2 135.6h0M235.1 109h0M238.1 141.7h0M245.3 119.3h0M242.1 122h0M238.9 110h0M238.7 135.6h0M242 126.9h0M236.6 106.3h0M243.6 122.2h0M237.8 151.5h0M245.7 142.1h0M234.7 154.3h0M240.6 118h0M235.6 94.4h0M240.2 97h0M236.1 101.9h0M233.3 113.2h0M235.8 143.8h0M237.3 101.3h0M241.3 122.6h0M234.7 107.2h0M239 149.9h0M237.5 148h0M239.4 110.6h0M235.2 150.4h0M241.1 112.5h0M233.7 138.8h0M235.4 111.8h0M234.4 141.2h0M245.4 131.7h0M239.5 98.8h0M233.5 121.3h0M238.7 151.5h0M244.1 129.8h0M239.2 136h0M235.4 117.3h0M239.4 142.9h0M239.8 103.8h0M238.9 128.3h0M240.6 133.2h0M243 140.9h0M230.2 111.3h0M234.2 132.5h0M233.8 126.3h0M247.9 139.1h0M234.2 152.9h0M235.3 137.1h0M243.4 100.7h0M241.3 144.8h0M246 136.5h0M235.6 136.3h0M245.5 124.2h0M240.1 103.5h0M238.5 97.2h0M241.1 138.4h0M233.4 152.7h0M240.6 131h0M235.8 128.2h0M233 136.9h0M243.8 123h0M244.8 125.7h0M232.8 110.7h0M235.1 114.6h0M235.8 103h0M231.1 106.4h0M239.4 145.1h0M235 127.9h0M240.1 99.3h0M243.5 140.4h0M239 105.3h0M233.7 96.8h0M238.7 142.5h0M244.9 111.2h0M235.4 126.5h0M240.1 95.2h0M240.4 99.4h0M239.1 119.8h0M244.2 127.6h0M237.5 148.9h0M241.6 103.1h0M235.7 153.3h0M242.4 101.6h0M241.7 107.9h0M233.4 139.1h0M244.2 116.1h0M238.1 139.7h0M234.8 122.2h0M239.9 112.7h0M238.5 120.7h0M237.5 149.3h0M239 139.3h0M239.4 150.7h0M245.8 135.8h0M237.9 99.4h0M230.5 114h0M236.6 137.2h0M244.4 109.5h0M236.5 92.5h0M239.2 147.1h0M241.1 148.6h0M243.2 110h0M240.8 139.9h0M239.5 109.8h0M238.1 124.8h0M241.7 101.4h0M243.6 120.2h0M234.4 154.3h0M242.8 113.4h0M239.3 143.7h0M234.7 96.3h0M239.6 108.6h0M234.4 134.1h0M239.8 118.6h0M240.7 112.1h0M232.3 109.6h0M238.7 148.5h0M245.5 125h0M235.4 111.2h0M243.2 109.6h0M237.9 98.1h0M233.3 113.4h0M239.2 113.8h0M242 120.5h0M235.2 115.8h0M238 110.6h0M236.3 121.3h0M246.8 135h0M235.5 130.8h0M242.7 113.7h0M235.6 143.3h0M234.8 125.3h0M235.2 112h0M240.6 146.9h0M231.5 102.3h0M233.8 142h0M233.8 118.5h0M239.8 98.3h0M235.2 102.2h0M234.5 100.3h0M243 142.2h0M245.9 124.1h0M242.1 98.2h0M246.4 137.9h0M240.9 108.1h0M237.8 127.8h0M243.4 125.9h0M233 135.6h0M239.3 134.9h0M235.2 141.2h0M232.9 113.2h0M233.1 145.7h0M241.4 145.2h0M243.5 102.2h0M244.4 144.4h0M237.8 142.7h0M235.3 96.4h0M239.4 94.9h0M236.3 152.1h0M247.1 140.3h0M237 99.9h0M239.7 95.8h0M245.1 143.8h0M230.2 111.4h0M239.9 115.9h0M244.8 134.5h0M238.4 100.4h0M246.1 130.2h0M234 109.3h0M237.3 118.5h0M241.8 101.6h0M241.5 132.7h0M245.1 129.3h0M242.5 130.4h0M236.2 95.9h0M238.4 116.6h0M235.4 116.9h0M239.1 131.2h0M244.8 137.7h0M234.6 146.7h0M248.4 138.9h0M234.5 124.3h0M240.7 108.4h0M241.1 130.3h0M238.1 107.2h0M238.6 131.3h0M235.7 131.4h0M240.8 133.3h0M238.5 132.2h0M240.4 131.5h0M242.3 115.3h0M241.3 116.3h0M244.4 124.5h0M244.3 118h0M237.3 106.9h0M233.3 118.3h0M241 100.9h0M243.2 124.1h0M233.8 106.7h0M235.2 141.5h0M239.9 99.8h0M242.4 100.9h0M236.8 122.8h0M233.5 100h0M239.8 144.1h0M236 134.4h0M234.3 133.6h0M243.1 120.8h0M241.8 144h0M235.6 102.9h0M234.7 137.3h0M233.1 120.1h0M247.1 140h0M233.3 131.4h0M238.6 123.7h0M242.2 118.1h0M245.4 131.9h0M233.8 104h0M242.5 127h0M231.8 118.9h0M234.8 131.7h0M231.2 113.5h0M239.5 131h0M240.3 132.4h0M233.5 132.4h0M236.4 91.5h0M236.2 141h0M237.3 131.4h0M243.2 119.1h0M233 140.3h0M238.6 125.1h0M235.7 126.6h0M241.6 145.6h0M243.7 127.1h0M246.8 141.5h0M234.1 140.1h0M245.4 138.7h0M240 142.4h0M232.8 121.9h0M240.5 108.7h0M235.3 138.9h0M239.8 138.2h0M240.5 143.3h0M239.1 140.1h0M238.2 95.2h0M247.6 139.6h0M243.7 104.7h0M232.3 111h0M236.9 123.8h0M233.6 109.5h0M232.6 104h0M239.1 133.1h0M238.9 97.2h0M243.7 107h0M236.1 99.8h0M238.5 109.5h0M239 117.4h0M237.6 115.4h0M237.2 139.1h0M235.9 125.5h0M237.4 136.1h0M235.4 153.5h0M233.6 104.1h0M238 142.1h0M244.7 132.7h0M241 130.6h0M245.1 123h0M241.7 108.7h0M233.4 100.6h0M241.3 110h0M233.2 138.8h0M237.7 135.6h0M246.7 131.1h0M229.6 110.1h0M243.1 129.7h0M234.6 117.7h0M232.5 133.9h0M245.1 143.8h0M249.3 138.6h0M237.1 136.6h0M235.9 107.5h0M244.5 113.2h0M236.5 95.9h0M234.4 140.7h0M234.6 133.8h0M233.6 122.2h0M231.2 104.7h0M233 119.8h0M239.6 98.4h0M238.8 119.9h0M235.6 131.9h0M235.8 136.5h0M240 130.7h0M237.1 96.5h0M244.9 110.8h0M233 137.7h0M244.3 117.2h0M241.3 109.8h0M231.6 112.5h0M242.8 123.8h0M244.7 140.6h0M236.6 93.1h0M231.9 110.6h0M243.6 118.5h0M237.4 100.6h0M245.3 139.5h0M245.3 122h0M245.5 126.4h0M242.8 109.1h0M232.5 107.8h0M239.9 110.9h0M236.6 123.1h0M241.4 125.2h0M234.2 145.6h0M238.5 104.6h0M242.5 133.4h0M235.1 129.5h0M243.4 108.8h0M236.9 123h0M234.5 149.1h0M238.6 96.6h0M235.4 140.4h0M248.1 132.1h0M248.8 137.4h0M233.7 147.2h0M239 97.8h0M240.7 125.7h0M234.9 115.6h0M237.4 151.1h0M240.3 148.6h0M240.5 112.6h0M236.2 135.1h0M240.6 140.6h0M235.9 98.9h0M238 102.8h0M238.2 151h0M236.9 103.8h0M244.2 113.6h0M241.1 143.9h0M234 105h0M245.4 140.6h0M243.7 129.2h0M242.9 110.6h0M234.4 96.5h0M235 124.3h0M243.9 99.7h0M238.3 96.9h0M235.9 151.8h0M241.7 136.1h0M237.1 133.4h0M241.9 102.3h0M232.7 112.2h0M245.4 130.7h0M245.5 138.4h0M244.6 125.3h0M249.2 139.6h0M239.5 131.1h0M238.9 113.3h0M242.9 145.8h0M236.8 118h0M237.4 127.5h0M238.1 138.5h0M230.6 105.6h0M244.5 143.7h0M236.1 91.7h0M230.4 114.5h0M230.3 109.5h0M245.6 122.3h0M234.8 117.8h0M238.1 100.8h0M243.1 144.6h0M233.4 101.2h0M249.3 139.2h0M240.8 130h0M238.6 146.6h0M238.5 149.5h0M237.9 121.7h0M237.5 105.2h0M237.3 93.1h0M237.2 115.1h0M244.5 129.4h0M241.5 143h0M234.7 150.7h0M237.1 117.1h0" stroke="#ff7f0e" stroke-width="3.0" stroke-linecap="round" fill="none"/>
<path d="M186.3 178h0M175.9 189.2h0M172.8 189.4h0M170.3 189.5h0M194.9 188.2h0M174.8 193.3h0M195 185h0M173.4 183.9h0M190.8 192.2h0M165.4 184.3h0M182.5 196.9h0M183.6 192.9h0M183.9 191.4h0M170.8 190.7h0M172.1 186.6h0M196.8 187.6h0M167.1 186.9h0M177.9 187h0M183 182h0M164.1 189.7h0M192.7 180.7h0M192.3 186.6h0M180.8 191.4h0M182.3 191.2h0M177.7 183.1h0M179.4 183.2h0M181.4 184.5h0M176.9 185.3h0M175 189.3h0M172.2 191.6h0M176.1 191h0M165.4 189.4h0M194.5 181.6h0M169.5 186h0M181.2 186.4h0M194.3 182.6h0M169.3 189.9h0M172.1 194.1h0M179.9 197.2h0M198.4 186.8h0M181.7 187.1h0M190.4 194.8h0M191.8 188.7h0M187.2 194.9h0M185.9 197.2h0M161.6 191.1h0M173.8 189.6h0M192.9 183.9h0M179.5 195h0M180.7 190.3h0M162.8 187.4h0M190.3 185.6h0M186.7 194.5h0M189.2 194.9h0M185.2 185h0M169.2 186.9h0M183.3 181.8h0M191.4 186.8h0M197.5 185.8h0M174.9 187h0M183.6 177.9h0M165.8 185h0M188.2 185.2h0M173.5 187.2h0M195.6 191.1h0M183.2 194.1h0M183.3 190.4h0M187.3 191h0M192.3 189.4h0M171.3 186.2h0M172.3 190.1h0M183.7 185.2h0M178.1 193.6h0M190.5 194.8h0M180.7 187.1h0M185.2 192.2h0M172 191.1h0M176.6 191.9h0M186.4 179.6h0M170.3 190.7h0M194.2 187.4h0M191.6 190.7h0M172.6 186.3h0M180 197.9h0M163.3 187.8h0M192.8 181.9h0M180.8 197.9h0M190.4 182h0M176.9 186h0M195.4 190.3h0M193.7 193h0M165.7 184.2h0M183.8 196.4h0M190.7 188.4h0M183.6 187.2h0M183.9 178.7h0M178.5 182.9h0M175.1 191.7h0M170.3 185.3h0M177.9 186.4h0M174 191.8h0M182.4 178.9h0M177.5 199.1h0M172 191.7h0M197.2 185h0M179.8 184.4h0M171 187.7h0M185.5 190.6h0M186.7 177.9h0M191.9 195.3h0M184.1 178.1h0M184.8 184.4h0M178.7 196h0M176.4 184.8h0M185.5 197.4h0M192.1 192.2h0M180.8 192.9h0M170.9 193.8h0M189.9 194.7h0M178.1 191.3h0M177.5 192.9h0M162.7 189.2h0M170.6 184.2h0M187.7 182.5h0M187.4 183h0M190.6 178.5h0M194.4 187.1h0M194.7 189.4h0M175.7 190.2h0M182.8 199h0M178.4 190h0M196 189.7h0M177.9 191.5h0M163.6 189.5h0M178.3 188.9h0M185.7 182.3h0M162.2 191h0M167.9 189.9h0M187.5 185.8h0M178.6 194.9h0M173.1 194.5h0M164.9 189h0M162.6 190.3h0M166.3 189.3h0M187.3 193.6h0M176.2 192.6h0M180.7 186.7h0M172.9 188.3h0M183.6 185.2h0M188.5 194.7h0M178.4 190.1h0M192 183.7h0M188.5 186.7h0M183.9 194.4h0M187.9 188.1h0M180.7 179.6h0M164.3 186.3h0M180 186.9h0M192.4 194.4h0M188.2 192.8h0M172.9 191.2h0M174.8 191.7h0M188.6 194.3h0M170.8 189.7h0M172 183.5h0M189.3 180.1h0M167.2 188.2h0M170.8 189.4h0M178.9 197.1h0M175.7 192.3h0M197.5 187.6h0M170.1 192.5h0M196.3 185.4h0M170.6 189.3h0M170 191h0M173.2 187.2h0M162.4 189.4h0M166 182.6h0M179.8 184.4h0M182 190.8h0M181.2 183.1h0M190.6 182.6h0M191.5 181.4h0M166.5 183.3h0M188.4 183.8h0M194.7 192.5h0M175.3 188h0M177.3 183.3h0M175.4 188.2h0M183.3 197.2h0M188.8 191h0M191.3 195h0M167.9 190.1h0M176.4 184.6h0M175 184.8h0M194 181.9h0M178.8 183.6h0M192.3 188.5h0M174.8 188.8h0M197.8 187.9h0M183.4 196.4h0M186.8 185.3h0M180.1 195.7h0M182.3 190.4h0M187.4 181.9h0M161.5 189.1h0M180.8 197.2h0M181 199.3h0M166.2 189h0M184.3 179.1h0M188.8 186.9h0M170.6 189.8h0M181.3 182.6h0M179.7 199.4h0M172.7 185.9h0M187.9 195.9h0M186.9 188.2h0M180.6 193.5h0M179.3 197.9h0M169.5 191.4h0M186.1 195.5h0M187.1 188.9h0M184.6 196.6h0M166 186.4h0M197.6 186.2h0M189.2 195.6h0M172.6 188.6h0M162.8 186.9h0M173.7 185.5h0M175.9 185.5h0M172.7 193.4h0M182.5 198.2h0M189.9 195.4h0M183.1 182.8h0M168.6 192.1h0M184.8 181.8h0M184.8 183.7h0M183.5 190.4h0M192.1 186h0M175.9 197.3h0M194.2 190h0M176.8 186.5h0M163.2 187.2h0M181.7 186h0M183.2 198.1h0M195.3 185.9h0M194.6 183.9h0M182.5 185.9h0M195.5 183.2h0M181.2 195.1h0M179.8 197.9h0M173.9 189.3h0M178.4 196.9h0M182.3 188.1h0M188.6 185.6h0M185.5 179.9h0M165.6 185.1h0M169.1 189.1h0M187.6 191.1h0M176.5 197.2h0M193.5 188.8h0M176.4 190.7h0M189.8 192.5h0M197.4 185.4h0M165.5 190.3h0M168.5 187.9h0M195.1 182.8h0M183.5 181.2h0M171.8 183.6h0M187.4 186.4h0M167.2 184.1h0M169.8 186.1h0M180.3 200.3h0M190.1 190.5h0M180.3 180.5h0M181 184.5h0M162 188.7h0M178.4 180.2h0M195.7 187.8h0M172.6 192h0M163.6 187.5h0M181.4 180.6h0M193.5 192.2h0M193.9 191.4h0M182.3 187.8h0M172.4 189.1h0M178 182.4h0M195.1 189.9h0M185.6 190h0M195.1 192.8h0M194.2 193.6h0M182.7 183h0M169.4 188.5h0M188.7 193.5h0M181.2 187.8h0M184.8 187h0M187.4 181.8h0M189.9 180.1h0M182.6 192.5h0M191.5 185.8h0M174.7 189.4h0M172.1 186.1h0M187.4 195.4h0M191.9 186.1h0M188.6 187.8h0M177.5 191.6h0M182.7 191.3h0M189 178.8h0M190.6 178.4h0M168.1 189.8h0M195.5 190.9h0M193 193.9h0M181.7 178.1h0M195.3 192.2h0M167.6 189h0M183.8 197.1h0M184.4 179.2h0M185.3 185.8h0M191.8 191.8h0M191.6 185.2h0M182.9 178.3h0M190.6 194.4h0M187.6 195.6h0M179.3 180.8h0M194.5 184.5h0M187.4 181.1h0M192.7 191.3h0M172 186.3h0M172.1 188.8h0M187.9 180.9h0M184.4 178.2h0M172.2 189.5h0M180.6 182h0M178.6 183.3h0M176.9 183.6h0M181.2 191.3h0M176.9 187.8h0M170.6 183.6h0M189.1 186.5h0M186.4 195.6h0M194.7 193.6h0M176.8 186.9h0M188.9 193h0M178.1 181.6h0M195 189.6h0M170.7 187.4h0M185.9 183.8h0M177.6 194.3h0M185.3 189.7h0M185.8 185h0M192.6 193.4h0M184.8 192.9h0M180 182.6h0M185 190.3h0M184.4 180.3h0M165.9 185.7h0M181.2 195.2h0M174.3 186.1h0" stroke="#2ca02c" stroke-width="3.0" stroke-linecap="round" fill="none"/>
<path d="M95.5 48.9h0M110.7 70h0" stroke="#bcbd22" stroke-width="3.0" stroke-linecap="round" fill="none"/>
<path d="M110.2 45.8h0M111 71.3h0M104.9 98.8h0" stroke="#e377c2" stroke-width="3.0" stroke-linecap="round" fill="none"/>
<path d="M114.5 52.2h0M112 79.4h0" stroke="#7f7f7f" stroke-width="3.0" stroke-linecap="round" fill="none"/>
<path d="M86 112h0M97.5 126.8h0M97.5 129.8h0M111 102.3h0" stroke="#1f77b4" stroke-width="3.0" stroke-linecap="round" fill="none"/>
<path d="M98 127.8h0M103.1 127.8h0M104.9 128.3h0M127.3 143.1h0M118.4 134.2h0M54.7 132.9h0" stroke="#bcbd22" stroke-width="3.0" stroke-linecap="round" fill="none"/>
<path d="M108.2 129.1h0M110 127.8h0M106.9 130.4h0M118.4 135.5h0" stroke="#e377c2" stroke-width="3.0" stroke-linecap="round" fill="none"/>
<path d="M120.1 144.4h0" stroke="#17becf" stroke-width="3.0" stroke-linecap="round" fill="none"/>
<path d="M126.5 148.2h0" stroke="#8c564b" stroke-width="3.0" stroke-linecap="round" fill="none"/>
<path d="M154.2 71.3h0M152.9 72h0M169.5 94.7h0M172 92.9h0" stroke="#7f7f7f" stroke-width="3.0" stroke-linecap="round" fill="none"/>
<path d="M143.2 66.9h0" stroke="#ff7f0e" stroke-width="3.0" stroke-linecap="round" fill="none"/>
<path d="M130 122.2h0M135.1 131.1h0M134.6 126h0" stroke="#1f77b4" stroke-width="3.0" stroke-linecap="round" fill="none"/>
<path d="M136.4 129.3h0" stroke="#bcbd22" stroke-width="3.0" stroke-linecap="round" fill="none"/>
<path d="M152.4 124.7h0" stroke="#d62728" stroke-width="3.0" stroke-linecap="round" fill="none"/>
<path d="M228.8 157.1h0M162.6 185.9h0M229.3 153.3h0" stroke="#1f77b4" stroke-width="3.0" stroke-linecap="round" fill="none"/>
<path d="M230.5 144.4h0M163.1 182.5h0" stroke="#7f7f7f" stroke-width="3.0" stroke-linecap="round" fill="none"/>
<path d="M158.5 202.9h0" stroke="#e377c2" stroke-width="3.0" stroke-linecap="round" fill="none"/>
<path d="M152.4 216.1h0" stroke="#d62728" stroke-width="3.0" stroke-linecap="round" fill="none"/>
<path d="M148.3 195.3h0M153.4 198.6h0" stroke="#2ca02c" stroke-width="3.0" stroke-linecap="round" fill="none"/>
<rect x="216.6" y="5.4" width="41.099999999999994" height="62.00000000000001" rx="1" fill="#fff" fill-opacity="0.8" stroke="#ccc" stroke-width="0.5"/>
<g font-family="DejaVu Sans, Liberation Sans, sans-serif" font-size="4.3" fill="#111" stroke="#111" stroke-width="0.13">
<circle cx="223.5" cy="10.00" r="1.55" fill="#1f77b4"/>
<text x="231.4" y="11.50">Authentic</text>
<circle cx="223.5" cy="16.55" r="1.55" fill="#ff7f0e"/>
<text x="231.4" y="18.05">BigGAN</text>
<circle cx="223.5" cy="23.10" r="1.55" fill="#2ca02c"/>
<text x="231.4" y="24.60">Copy-Move</text>
<circle cx="223.5" cy="29.65" r="1.55" fill="#d62728"/>
<text x="231.4" y="31.15">DDPM</text>
<circle cx="223.5" cy="36.20" r="1.55" fill="#8c564b"/>
<text x="231.4" y="37.70">FDGAN</text>
<circle cx="223.5" cy="42.75" r="1.55" fill="#e377c2"/>
<text x="231.4" y="44.25">GLIDE</text>
<circle cx="223.5" cy="49.30" r="1.55" fill="#7f7f7f"/>
<text x="231.4" y="50.80">INDM</text>
<circle cx="223.5" cy="55.85" r="1.55" fill="#bcbd22"/>
<text x="231.4" y="57.35">PEDM</text>
<circle cx="223.5" cy="62.40" r="1.55" fill="#17becf"/>
<text x="231.4" y="63.90">StyleCLIP</text>
</g>
<rect x="301.1" y="2.4" width="245.8" height="243.5" fill="#fff" stroke="#555" stroke-width="0.6"/>
<g font-family="DejaVu Sans, Liberation Sans, sans-serif" font-size="4.3" fill="#111" stroke="#111" stroke-width="0.13">
<line x1="327.8" y1="245.9" x2="327.8" y2="247.5" stroke="#444" stroke-width="0.4"/>
<text x="327.8" y="252.75" text-anchor="middle">−60</text>
<line x1="360.9" y1="245.9" x2="360.9" y2="247.5" stroke="#444" stroke-width="0.4"/>
<text x="360.9" y="252.75" text-anchor="middle">−40</text>
<line x1="394" y1="245.9" x2="394" y2="247.5" stroke="#444" stroke-width="0.4"/>
<text x="394" y="252.75" text-anchor="middle">−20</text>
<line x1="427.1" y1="245.9" x2="427.1" y2="247.5" stroke="#444" stroke-width="0.4"/>
<text x="427.1" y="252.75" text-anchor="middle">0</text>
<line x1="460.2" y1="245.9" x2="460.2" y2="247.5" stroke="#444" stroke-width="0.4"/>
<text x="460.2" y="252.75" text-anchor="middle">20</text>
<line x1="493.3" y1="245.9" x2="493.3" y2="247.5" stroke="#444" stroke-width="0.4"/>
<text x="493.3" y="252.75" text-anchor="middle">40</text>
<line x1="526.4" y1="245.9" x2="526.4" y2="247.5" stroke="#444" stroke-width="0.4"/>
<text x="526.4" y="252.75" text-anchor="middle">60</text>
<line x1="299.5" y1="22.1" x2="301.1" y2="22.1" stroke="#444" stroke-width="0.4"/>
<text x="298.5" y="24.10" text-anchor="end">60</text>
<line x1="299.5" y1="58.8" x2="301.1" y2="58.8" stroke="#444" stroke-width="0.4"/>
<text x="298.5" y="60.80" text-anchor="end">40</text>
<line x1="299.5" y1="95.7" x2="301.1" y2="95.7" stroke="#444" stroke-width="0.4"/>
<text x="298.5" y="97.70" text-anchor="end">20</text>
<line x1="299.5" y1="132.5" x2="301.1" y2="132.5" stroke="#444" stroke-width="0.4"/>
<text x="298.5" y="134.50" text-anchor="end">0</text>
<line x1="299.5" y1="169.3" x2="301.1" y2="169.3" stroke="#444" stroke-width="0.4"/>
<text x="298.5" y="171.30" text-anchor="end">−20</text>
<line x1="299.5" y1="206.2" x2="301.1" y2="206.2" stroke="#444" stroke-width="0.4"/>
<text x="298.5" y="208.20" text-anchor="end">−40</text>
<line x1="299.5" y1="243.5" x2="301.1" y2="243.5" stroke="#444" stroke-width="0.4"/>
<text x="298.5" y="245.50" text-anchor="end">−60</text>
</g>
<path d="M373.1 80.8h0M373.3 65.6h0M372.4 62.4h0M376.3 73.9h0M365.4 65.2h0M366.5 72.7h0M369.1 56h0M367.2 64.3h0M364.7 85.5h0M366.2 55.8h0M369.1 94.8h0M369.5 58.2h0M364.8 85.5h0M373.2 74.4h0M367.5 54.1h0M369.3 71h0M364.4 62.5h0M365.8 76.6h0M369.6 85.4h0M367.5 70.5h0M374 86.3h0M375.4 83.6h0M367.7 78h0M373.2 62h0M365.4 86.9h0M367.3 55.8h0M370 64.7h0M371.7 58.6h0M376.8 72.8h0M374.5 69.8h0M375.4 87.3h0M369.6 68.7h0M371.6 82.1h0M365.6 73.1h0M373.9 62.9h0M365.4 83.6h0M372.3 60.4h0M368.1 88h0M362.2 68.1h0M371.3 69.5h0M364.9 68.4h0M373.1 67.2h0M369.9 67.3h0M371.6 88.8h0M366.9 65.1h0M365.9 60.7h0M369.1 69.6h0M364.1 59.8h0M372.1 76.9h0M362.4 54.5h0M371.3 81.3h0M370.2 57.7h0M368.4 88.7h0M371.2 87.7h0M366.9 88.8h0M364.7 65.3h0M372.5 81.2h0M366.7 72.7h0M374 80.6h0M375.9 83.3h0M368 74.7h0M377 86.2h0M366.2 79.6h0M372.4 65.6h0M369.6 87h0M363 66.2h0M366.7 80.8h0M370.8 66.5h0M362.6 53.1h0M368.7 78.1h0M363.6 69.5h0M361.9 60.8h0M367.8 89.8h0M367.7 80.1h0M368.7 60.6h0M367.5 63.6h0M368.1 54.8h0M370.8 81.5h0M369.3 77.5h0M370.3 75.1h0M363.8 67.6h0M375.6 86.4h0M371.7 89.1h0M366.8 87h0M367.6 61.8h0M367.2 54h0M372.8 82.8h0M372.5 61.6h0M365.6 66.6h0M370.3 86.9h0M363 58.3h0M375 75.2h0M365.7 57.7h0M364.8 59.3h0M373.7 67.3h0M363.8 54.1h0M365.3 73.6h0M366.3 86.2h0M374.8 88.3h0M366.1 95.7h0M369.7 80.5h0M362.9 67h0M367.7 62.2h0M363.9 61.8h0M367.1 85.5h0M362.1 68.5h0M376.8 71.1h0M374.4 65.7h0M365.7 53.5h0M367.9 90.8h0M370.2 60.6h0M374.6 77.9h0M366.9 69.9h0M365 73.3h0M375.9 81h0M370.3 68.9h0M372.3 72.9h0M374.5 85.3h0M369.8 86h0M372.2 77.5h0M364.6 76.1h0M370.9 85.6h0M365.8 78.3h0M375.2 82.9h0M374.7 67.7h0M370.5 92.7h0M374.6 84.7h0M367.5 54.5h0M368.4 66.7h0M371.2 79.1h0M371.4 89h0M367.6 61.4h0M372 89.1h0M374.7 76.4h0M376.3 70h0M365.3 74.7h0M373.5 82.3h0M366.3 87.5h0M370.9 57h0M363.1 55.6h0M368 57.9h0M372.7 67.2h0M367 57.3h0M374.5 71h0M363.6 63.6h0M363.9 74.2h0M369.5 57.7h0M374.8 88.3h0M371.1 77h0M369.6 74.6h0M364 63.5h0M370.8 62.1h0M372.2 85.9h0M369 85.8h0M366.7 95.2h0M367 63.5h0M362.8 65.4h0M365.5 51.7h0M371 56.9h0M368.9 89.9h0M363.1 63.1h0M369.1 70.1h0M365.9 64.3h0M369.2 74.2h0M367 82.2h0M367.5 74.2h0M367.3 81.2h0M374.6 71h0M368.2 54.6h0M364.1 71.7h0M368.4 55.9h0M368 76.9h0M374.2 78h0M365.1 69h0M366.8 94.3h0M368.7 56.9h0M366.9 67h0M366.9 90.5h0M366.4 64.2h0M369.6 94.8h0M374.2 83.1h0M368.8 72.7h0M369.6 90.1h0M374.6 66.3h0M363.4 52.8h0M370.7 63.3h0M373.3 69.8h0M364.9 83.1h0M366 68.3h0M374.9 71.4h0M363.7 59h0M364.1 59.2h0M370.1 88.2h0M376.7 86h0M375.8 68.5h0M375.4 76.8h0M374.9 74.3h0M371.9 69.3h0M366.4 63.6h0M367.2 74.6h0M368.8 63h0M369.2 74.7h0M370.6 81.8h0M370.7 61.3h0M362.1 55.2h0M370.7 82.2h0M367.3 54.3h0M371.7 65.5h0M363.7 53.5h0M376.5 85.2h0M366.8 60.6h0M370 69.6h0M375.1 77.3h0M363.4 58.9h0M364.7 64.7h0M366 90.1h0M371.3 63.5h0M375.2 76.8h0M367.5 69.4h0M368.7 67.9h0M368.3 60.6h0M364.2 58.6h0M366.9 55.4h0M366 76.8h0M368.4 88.1h0M374.4 82.4h0M365.5 66.1h0M362.3 62.8h0M363.2 58.6h0" stroke="#8c564b" stroke-width="3.0" stroke-linecap="round" fill="none"/>
<path d="M331 132.7h0M317.8 129.2h0M319.9 136h0M332.2 143.8h0M330.4 144.1h0M318.6 131.5h0M332.4 124.3h0M336.4 131.1h0M317.5 126.9h0M319.1 140.2h0M319.4 138.2h0M337.5 131h0M329.9 135.4h0M327.8 137.3h0M317.5 140.9h0M316.2 137.3h0M328 142.2h0M316.3 134.5h0M317.1 128h0M318.9 133.4h0M325.2 132.5h0M327.3 131.5h0M326.6 139h0M334.5 129.7h0M334.9 128h0M321.7 138.5h0M321.6 127.7h0M323.7 131.4h0M323.6 123.6h0M321.7 135h0M326.9 131.6h0M331.4 135h0M332.7 128.7h0M330.8 142.1h0M315.5 138.9h0M332.4 138.4h0M329.7 134.7h0M324.5 132.5h0M325.4 127.2h0M314.6 137.1h0M325.9 144.2h0M320 131.9h0M325.4 139.2h0M320.4 126h0M322 134.8h0M325.3 138.1h0M315.3 133.7h0M327.7 143.6h0M325.5 147h0M320.9 142.2h0M329.1 145.3h0M319.4 131.4h0M324.1 150.1h0M317.4 126.3h0M324.3 134h0M338 129h0M323.4 130.7h0M316.1 137h0M323.4 129.8h0M320.9 144.6h0M324.5 141.8h0M329.2 131.3h0M325.1 148h0M330.6 131.3h0M330.5 147.9h0M316.8 136.7h0M323.3 136.3h0M321.5 132h0M327.4 125.8h0M316.4 125.7h0M317 133.6h0M326.6 137.3h0M322.9 125.4h0M328.8 131.9h0M331.8 132h0M323.7 141.9h0M316.7 133.9h0M325.6 135.3h0M335.8 131.1h0M334.2 138h0M331.7 129.2h0M336.2 127.3h0M328.8 123.8h0M330.1 125.2h0M314.7 140.1h0M323.5 124.5h0M325.7 147.3h0M329.9 141.8h0M320.7 132.2h0M324.6 135.2h0M334.5 129.2h0M331.8 135.4h0M315.6 138.7h0M320.4 144.5h0M320.3 140.9h0M326.1 139.4h0M330.3 134.6h0M329.1 144.1h0M323.1 137h0M331 124.1h0M329.4 134.5h0M328.3 146.8h0M327.9 141.6h0M334 128.8h0M326.5 126.1h0M331.2 147.9h0M326.3 133.6h0M324 137.9h0M320.5 147.6h0M337.2 127.3h0M314.3 138.6h0M330.4 139.3h0M335.1 130.6h0M315.7 138.8h0M317.3 131.6h0M323.3 136.9h0M315.8 140.4h0M333.1 128.9h0M325.8 138.4h0M330.8 130.8h0M323.2 140.7h0M325.4 143.9h0M332.1 142.7h0M337.8 129.6h0M335.4 129.9h0M331.6 132.2h0M327.5 146.5h0M324.1 135.3h0M332.5 135.6h0M321.4 140.6h0M316.5 129.4h0M324.5 130.6h0M326.7 134.4h0M324.7 131.9h0M327.8 124.4h0M320.6 137.7h0M327 122.3h0M328 135h0M322.7 122.8h0M327 147.8h0M317.9 134.3h0M331.5 134.4h0M317.7 143h0M338 128.4h0M328.2 139h0M334.7 127.2h0M327.7 135.3h0M333.9 134.9h0M327.1 149.4h0M327.8 123.8h0M321.4 126.9h0M315.8 132.6h0M321 125.3h0M327.5 129.7h0M325.6 124.6h0M338.2 129h0M338.3 127.3h0M325.9 140.1h0M314.3 136.6h0M325.8 133.1h0M329.7 144.1h0M317.6 141h0M331.4 123.8h0M329.3 138.8h0M328.6 127.3h0M325.7 130.3h0M315.3 128.7h0M314.2 131.7h0M320.4 146.5h0M326.9 127h0M324.1 150.1h0M331.9 125.5h0M319.9 133.1h0M331.7 133.5h0M328.6 131.9h0M332.5 139.4h0M336.8 129.1h0M324.1 136.8h0M319 127.7h0M319.8 138h0M339 129.8h0M334.2 128.6h0M335.4 131.5h0M320.5 142.6h0M320 146.5h0M324.3 142.3h0M324.7 149.7h0M326.3 133.1h0M324.7 130.9h0M340.3 127.1h0M319.1 133h0M330 135.5h0M330 146.8h0M320 137.7h0M316.8 136h0M330.6 143.4h0M313.5 131.4h0M320 143.5h0M324 134h0M316.6 132.4h0M315.5 138.8h0M327.6 135.8h0M325.9 125.5h0M321.3 138.3h0M331.6 147h0M322.9 139.6h0M320.7 141.5h0M330.2 132.5h0M326 146.4h0M321 134.3h0M333.7 131.1h0M328.1 148h0M329.1 133.6h0M331.6 142.8h0M329.3 129h0M322.8 126.5h0M317.8 128.9h0M322.4 142.3h0M333 140.8h0M329.4 130.4h0M329.4 141.8h0M327.6 138.8h0M331 124.3h0M322.6 130.6h0M320.4 128.7h0M325.6 124.6h0M321.9 132.1h0M337.3 129.9h0M320.7 127h0M326.5 136.4h0M330.3 134.7h0M318.6 139.3h0M331 145h0M331.9 141.7h0M324.7 142.6h0M327.5 125h0M328.2 122.1h0M319.8 143h0M333.1 132.1h0M327.4 126.6h0M339.1 130.8h0M340.5 127.9h0M332.5 139.9h0M327.2 128h0M330.7 135.5h0M335.6 133.6h0M323.9 138.4h0M330.1 131.3h0M324.4 143.8h0M325.2 135.9h0M330.2 131.3h0M313.3 134.2h0M324.2 121.8h0M315.7 136.8h0M324.6 139.7h0M337.7 131.6h0M333.5 125.1h0M321.7 124.3h0M322.9 142.6h0M324.5 121.9h0M333 124.4h0M343 130.4h0M331.2 131.8h0M323.6 123.8h0M329.1 122.9h0M327.4 148.2h0M317.9 140.7h0M329.2 131.8h0M325.6 144.2h0M329.6 147.2h0M329.6 122.7h0M331.8 125.9h0M330.2 129.9h0M337.2 131.8h0M329.3 140.8h0M319.9 136.3h0M329 125.4h0M331.6 133.5h0" stroke="#17becf" stroke-width="3.0" stroke-linecap="round" fill="none"/>
<path d="M425.8 42.8h0M440.4 60.3h0M415.9 14.2h0M441.9 64.3h0M421.1 48.7h0M448.5 60.7h0M419.4 16.4h0M416.5 22.3h0M426.3 40.9h0M420.9 55.4h0M435.1 63.3h0M424.9 35.1h0M416.7 15.4h0M420.6 33.4h0M417.7 51.2h0M442.4 51.6h0M421.4 51.7h0M416.2 27.8h0M437.3 48.4h0M425.6 33.9h0M426 26.9h0M435.2 47h0M418.3 52.6h0M429 58.2h0M417.7 52.3h0M431.9 65h0M425.6 27.4h0M415.7 24.3h0M443 55.7h0M432.8 48.2h0M445.5 60.6h0M422.7 37.1h0M423.4 27.9h0M438.8 68.1h0M446.4 56.3h0M430.9 46.5h0M422 36.5h0M427.4 45.7h0M431.2 45.1h0M417.2 20.5h0M428.1 49.2h0M426.3 29.7h0M420.7 50.5h0M427.9 60.2h0M443.9 64.9h0M417.9 18.9h0M423 37.1h0M437.4 58h0M422.5 49.3h0M448.3 57.8h0M419.1 13.6h0M447.7 57.3h0M447.5 58.3h0M415.8 25.1h0M426.2 50.7h0M426.8 30.1h0M447 55.7h0M433.8 46.3h0M435.9 48h0M422.6 35h0M438.1 65.6h0M442.8 59.5h0M429.3 66h0M421.2 26.5h0M429.3 56h0M421.2 49.9h0M437.5 71.2h0M437.5 68.6h0M434.6 69h0M424.4 35.7h0M432.1 66.6h0M426.5 32.1h0M415.2 17.5h0M418.9 28.1h0M426.9 54.3h0M429.8 72.3h0M419.1 17.4h0M422.2 25.1h0M428.1 52.6h0M441.2 50h0M425 43.4h0M438.6 63.7h0M427.5 53.7h0M435.1 63.6h0M440.6 56.3h0M418.5 18h0M434.8 47.9h0M432.5 61.6h0M424 41.6h0M419.6 50h0M418.4 27.4h0M437.3 71.2h0M429.1 56.9h0M427 49.1h0M417.9 17.2h0M421.5 29h0M423.8 26.7h0M417.8 28.1h0M422 26h0M445.8 64.9h0M419 33.7h0M439.6 57.4h0M432.6 61h0M437.3 56.2h0M421.8 27.2h0M434.8 63.8h0M432.9 66.1h0M444 51.4h0M431.6 49h0M431.7 59h0M443.2 54.8h0M435.1 60.2h0M420.3 48.5h0M425.1 48.5h0M425.2 37.3h0M444.2 54.1h0M428.3 49h0M427.5 61.9h0M429.8 70.9h0M441.4 62.6h0M446.2 59.7h0M415.1 18.3h0M425.2 50.1h0M436.3 69.6h0M424.9 51.9h0M423.3 56.3h0M432.6 60.5h0M426.1 39.4h0M439.3 57.5h0M424 52.3h0M421.7 25.5h0M435 59.9h0M418.1 12.8h0M431.1 47.6h0M422.6 38.7h0M422.4 33.5h0M434.3 49.1h0M429.9 57.3h0M444.2 64.1h0M417.3 20.4h0M434.9 63.8h0M422.9 49.7h0M440.2 50.8h0M436.3 60.2h0M443.6 62.9h0M440.9 58.8h0M436.1 57.9h0M433.1 58h0M444 63.7h0M423.8 45.4h0M447.5 59.2h0M418 13.6h0M422.4 39.3h0M429.6 70.3h0M418.5 50.1h0M435 58.7h0M445.5 62.9h0M445.4 63h0M448.9 58.1h0M422.6 46.1h0M439.6 50.6h0M435.9 70.9h0M420.1 31.4h0M432.5 47h0M443.5 56.3h0M430.8 50h0M426.5 34.3h0M437.9 65.9h0M418.5 53.4h0M424.3 46.5h0M415.5 25.6h0M432.8 62.7h0M424.5 46.1h0M438.8 50.9h0M441.7 54.9h0M445.9 54.6h0M424.8 42.8h0M435.8 48.1h0M423.7 46.1h0M423.1 31.7h0M415.4 15.8h0M444.5 60.1h0M436.4 65h0M421.4 52.5h0M442.9 54.6h0M422.2 52.9h0M440.3 51.5h0M429.8 57.8h0M424.7 44.7h0M447.9 57h0M433.3 66.3h0M414 16.2h0M445.5 55.6h0M425.2 38.1h0M425.1 37.5h0M418.9 20.3h0M424.6 48.7h0M439.2 50.7h0M447.5 62.5h0M422 53.9h0M427.1 50.3h0M417 17.5h0M436.7 59.3h0M423 26.3h0M445.2 59.6h0M434.2 60.8h0M421.5 27.3h0M421.7 34h0M423 32.7h0M425.2 46.3h0M445.9 63.8h0M428.5 55h0M429.8 68.5h0M435.3 66.6h0M438.7 58.1h0M440.1 49.8h0M432.8 47.7h0M426.2 27.5h0M448.2 57.5h0M432.5 60.3h0M444.9 64.9h0M437.9 50.4h0M417.5 24.1h0M418.5 50.7h0M433.5 48.1h0M430.6 56.5h0M424.7 28.9h0M426.5 33.2h0M438.7 48.4h0M440.2 60.5h0M423.1 47.9h0M418.5 52.4h0M423.6 49.6h0M420.1 35.9h0M417.7 22.7h0M421.9 50.1h0M422.8 55.5h0M414.7 13.3h0M437.9 63.5h0M433.5 60h0M421.6 34.7h0M433.9 62.9h0M439 56.9h0M444.6 57.9h0M436.5 65.8h0M431.9 48.4h0M437.8 64.4h0M438.4 63.8h0M429.4 65.2h0M426.8 55.1h0M425.5 54.5h0M437 57h0M423.9 55h0M437.1 48.6h0M420.9 34.8h0M446.1 55.5h0M424.6 36h0M419.4 26.5h0M440.6 61.4h0M419.3 50.9h0M427.4 52.1h0M434.3 69.1h0M422.5 54.6h0M433.8 45.4h0M432.2 62.8h0M438.9 67.7h0M428.8 66.4h0M431.7 45.2h0M433.2 59.7h0M430.5 50h0M430.4 46.6h0M441.6 52.4h0M439.4 67.2h0M438.9 61.2h0M443.2 55.1h0M424.8 53.6h0M415.9 27.2h0M429 55h0M427.1 52.7h0M432 61.7h0M415.6 18.8h0M419.9 48.3h0M423.7 40.7h0M432.3 66h0M415.9 14.2h0M444.7 53.9h0M437.6 57.1h0M425 34.4h0M435.1 66.4h0M443.5 55.7h0M425.2 39.8h0M418.2 14.1h0M426.7 50.1h0M439 57h0M418.8 49.4h0M447.2 62.2h0M423.9 40.3h0M438.1 56h0M425.4 41.2h0M442 64.7h0M426.6 32.9h0M419.9 52.4h0M420.8 23.6h0M418.2 19.9h0M423.9 48.5h0M425 44.3h0M418.8 27.5h0M435.8 47.4h0M424.6 51.5h0M429 69.7h0M443.5 57.6h0M441.3 52.2h0M416.3 16.8h0M416.3 23.1h0M422.8 26.7h0M441.7 64.2h0M445.3 56.6h0M418.5 13.1h0M431 57h0M424.3 54.3h0M432.1 45.4h0M443 49.9h0M444.2 56.9h0M422.8 27.1h0M423.9 37.3h0M438.1 69.7h0M447.8 59.8h0M422.4 26.2h0M430.9 46.4h0M446.2 53.9h0M448.2 58.3h0M439.7 65.8h0M434.8 57.9h0M435.7 66h0M428 48.1h0M435.6 66h0M421.8 40.4h0M426.1 52.1h0M436.3 64h0M436.3 70.9h0M447.4 59.8h0M423.4 30.1h0M416.4 26.4h0M421 32h0M438.7 59.3h0M423.6 38.6h0M423.8 44.3h0M438.7 65.7h0M429.6 59.6h0M426.1 34.7h0M419.6 31.4h0M434.8 67.8h0M426.1 42.5h0M432.1 64.3h0M438.7 49.7h0M438.7 65.5h0M442.6 49.8h0M415.5 17.7h0M415.9 13.5h0M429 44.9h0M419.9 50.4h0M437.8 63.6h0M416.1 18h0M429.4 66.9h0M438.6 61.3h0M427.2 47.7h0M422.2 27.3h0M429.4 52.2h0M448 60.2h0M435.1 65.7h0M440.9 59.8h0M443.1 62.6h0M418.5 22.3h0M443.9 56.3h0M434.8 58.6h0M429.8 69h0M422.1 49h0M441.4 57.8h0M421.8 29h0M417.6 26.4h0M439.5 61.2h0M433.2 65.5h0M417.7 52.5h0M421.1 26.7h0M424.6 36.6h0M418.7 25.7h0M445.4 60.8h0M423.7 34.8h0M440.8 68h0M427.2 48.7h0M421.7 53h0M422 30.4h0M429.4 50.1h0M427.1 55.4h0M421.1 36.5h0M431.5 62.9h0M416.3 50.5h0M420.7 49.1h0M440.7 58.3h0M419.6 51.3h0M435.2 60.8h0M443.3 55.5h0M444.2 56.7h0M426 55.2h0M419.8 22.6h0M424.6 45.4h0M427.8 54h0M417.6 18.7h0M431.5 48.9h0M418.2 25.8h0M425.3 42.5h0M425 44.5h0M427.2 50.7h0M419.9 51.3h0M419.4 30.6h0M426.7 30h0M443.7 63h0M434.5 70h0M421.4 25.4h0M420.8 24.5h0M419.2 23.8h0M433.6 60.5h0M424 42.6h0M437.4 64.8h0M424.3 31.6h0M419.7 52.5h0M419.2 23.2h0M428.6 58.8h0M427.9 50.8h0M425.9 55.3h0M443.1 58h0M433.3 60.9h0M439.3 59.5h0M442.9 50h0M438.8 64h0M438.2 67.4h0M444.6 63.2h0M437.5 60.6h0M437.3 59.6h0M443.6 60.5h0M430.7 62.2h0M440.3 63.1h0M430.5 48.6h0M440.6 63.8h0M434.3 48.9h0M419.8 17.9h0M422.2 49h0M416.7 50.5h0M431.8 47.3h0M419 51.5h0M420 32.8h0M439.1 62.5h0M423.7 54.1h0M427.2 51.7h0M437.9 66.1h0M421.7 53.1h0M427.7 47.9h0M426 48.9h0M425.9 52.9h0M417.2 17.2h0M415.4 23.7h0M439.7 69.2h0M429.5 55.9h0M430.1 64.4h0M427.5 60.7h0M422.1 40.5h0M423.6 34h0M436.4 68.7h0M441.2 61.7h0M443 62h0M425.1 46.1h0M424.6 42.6h0M424.6 27.6h0M425.7 32.1h0" stroke="#e377c2" stroke-width="3.0" stroke-linecap="round" fill="none"/>
<path d="M482 104.5h0M494.9 88.1h0M477.2 99h0M477.9 96.3h0M495.5 95.5h0M480.9 81.6h0M488 84.7h0M500.1 80.9h0M501.7 79h0M489.1 86.7h0M491.3 84.9h0M474.6 91.7h0M473.2 90.6h0M484.3 102.4h0M484.4 82.8h0M492.7 84.5h0M500.5 84.9h0M479.4 94.5h0M479.9 81.7h0M500.1 79.8h0M479.2 91.4h0M478.3 94.6h0M468 97h0M483 89.7h0M486.9 94.7h0M492.4 84.5h0M457.6 86h0M483.3 89.9h0M480.3 89.6h0M460 87.8h0M469.4 88.5h0M477.1 95.2h0M462.6 90.6h0M484 91.7h0M480.6 85.5h0M481.1 84.2h0M486.4 82.8h0M471.7 97.5h0M490.3 98h0M461.2 87h0M497.6 78.5h0M504.4 76.5h0M481.8 95h0M497 78.9h0M459 87.7h0M496.7 81.3h0M468 91.7h0M469.6 95h0M487.2 87.4h0M494.4 86.3h0M497.2 95.3h0M498.5 78.3h0M469.1 92.1h0M484.7 98.5h0M498.6 79.9h0M464 96h0M480.2 96.5h0M459 87.6h0M478.7 92.1h0M494.9 78.7h0M495.8 76.6h0M477 79.6h0M464.2 90.2h0M497.9 73.1h0M488.5 96.7h0M480 84.1h0M465.7 87.3h0M480.5 89.3h0M482.8 86.9h0M496.6 91.7h0M465 87.9h0M482.4 81.5h0M457.4 88.7h0M498.7 78.8h0M500.6 79.8h0M472 93.1h0M499.4 82.6h0M481.7 103.3h0M487.4 88.5h0M499.3 86.2h0M498.1 83.2h0M500.8 82.3h0M496.1 74h0M481.6 94.6h0M491.7 79.3h0M480 82.4h0M467.3 90.4h0M502.8 79h0M459.7 91.9h0M493.5 76.6h0M502.7 80.4h0M472.4 95.3h0M493.2 74.4h0M494.3 75.8h0M471.2 98.4h0M491.6 80.8h0M475.5 98.2h0M489.9 97.1h0M473 87h0M486.5 79.9h0M499.2 86.8h0M477.2 91.7h0M493.2 81.6h0M485.6 98.1h0M479.5 92.7h0M462.2 92.8h0M471.1 97.6h0M494.6 90.2h0M462.4 83.7h0M469 86.3h0M472.1 95.6h0M469.4 97.2h0M485.9 79.8h0M467.2 94.1h0M503 78.3h0M486.7 91.2h0M486.7 93.3h0M459.5 87.6h0M461 94h0M482.5 88.8h0M468.4 87.7h0M474.7 88.8h0M498.4 82.4h0M472.6 97.5h0M484.1 90.6h0M469.4 92.4h0M503.8 74.2h0M482 84.2h0M456.2 87.3h0M482.1 90.9h0M483 95.8h0M484.4 102.5h0M481.4 92.5h0M466.3 93.1h0M483.2 83.1h0M477.4 92.7h0M496.1 80h0M460.2 85.3h0M499.5 80.1h0M487.8 84.4h0M469.1 86.4h0M480.6 85.7h0M499.5 79.9h0M463.9 91.9h0M470.4 82.9h0M487.6 84.4h0M501.3 81.5h0M481.5 103.4h0M474.1 87.3h0M480.4 84.2h0M496.2 76.5h0M483.9 88.6h0M463.1 86.2h0M493.8 91.4h0M498.3 86.4h0M470.1 84.3h0M465.7 85.7h0M490.9 89.8h0M467.1 84h0M469 83.2h0M468.8 86.8h0M485.3 85.6h0M459.7 91.4h0M489.1 92.1h0M476.4 88.7h0M478.3 95.1h0M490.5 85.4h0M462.4 83.7h0M492 82.9h0M461.8 85.5h0M494.6 76.2h0M467 93.4h0M501.2 83.2h0M480.4 103.4h0M490 94.6h0M474.9 90h0M494.8 88.3h0M470.9 97.4h0M479.9 98.5h0M491.4 99.1h0M494.5 86.4h0M476 85.5h0M496.9 75h0M495.4 73.2h0M502.6 73.2h0M504.9 79.9h0M488.1 84.9h0M484.3 103.4h0M489.3 97.9h0M457.4 86.8h0M483.5 98.4h0M497.3 94.3h0M464.3 87.2h0M460.5 89.3h0M474.3 80.2h0M482.4 93.5h0M483.8 97.2h0M463.1 87.4h0M464.9 86.2h0M501.8 81.7h0M485.6 95.7h0M494.2 79.5h0M492.6 91.1h0M478.4 93.8h0M460.3 89.8h0M459.3 93.2h0M482.9 101.4h0M483.4 93.8h0M499.5 91.8h0M485.4 99.9h0M483.1 103.5h0M493.9 72.9h0M488.1 101.1h0M473.8 85.7h0M475.4 90.9h0M481 91.5h0M498.7 85.7h0M501 74.5h0M497.7 85.9h0M488.1 86.9h0M493 75.2h0M481.7 90.9h0M460 87.5h0M494 71.1h0M479.6 81.2h0M496.8 82.8h0M488.6 93.8h0M484.9 83.5h0M504.6 75.4h0M478.4 97.8h0M503.8 73.2h0M468.3 95.4h0M477.1 92.9h0M492 97.7h0M478 88.9h0M492.3 81.7h0M486.3 101.1h0M497.5 82.4h0M496.4 73.5h0M493.8 74h0M485.2 99.3h0M476.3 94.2h0M494.8 87.7h0M463.2 87.8h0M458 91.1h0M466.1 92.5h0M464.4 91.9h0M498.5 85.4h0M479.6 83.7h0M491 84.8h0M491 98.3h0M457.7 88.8h0M473.2 87.1h0M486.5 83.7h0M498.9 90.1h0M471.6 84.3h0M485.9 88h0M482.5 82h0M459 86.9h0M490.4 90.7h0M482.7 91.5h0M460.1 84.4h0M494.2 81.6h0M488.7 80.1h0M499.3 84.1h0M498.6 90.3h0M481.8 98.4h0M468.1 89h0M488.9 99.6h0M476.3 89.5h0M485.7 97.4h0M489 89.5h0M469.1 90.2h0M475.5 84.1h0M502.4 75.7h0M484 92.8h0M476.1 87.1h0M495.7 77.8h0M471.9 89.2h0M486.1 102.7h0M487.6 90.1h0M455.4 87.2h0M478.1 89.3h0M469.2 88h0M500.2 90.3h0M488.5 98h0M488 80.3h0M476.7 83.8h0M477.6 94.5h0M467.3 87.3h0M489.6 81.6h0M462.9 93h0M494.5 96.3h0M497.9 74.3h0M478.9 93.5h0M481.5 98.1h0M476.6 85.5h0M468.8 91.3h0M464.2 86.5h0M496.8 85.1h0M481.1 80.8h0M495 73.9h0M465.3 91h0M490.2 82.3h0M502.7 79.3h0M485.2 83.8h0M481.5 84.3h0M491.8 81.6h0M496.9 95.9h0M469.9 84.5h0M498.9 84.5h0M499.8 75.3h0M467.7 85.1h0M496.5 84.3h0M468.4 93h0M478.8 95.9h0M494.3 96.1h0M469.7 97h0M482.1 83.8h0M475 96.2h0M471.4 89.6h0M491.9 81.4h0M491 91.3h0M474.7 89.1h0M496.4 73.4h0M497.6 76.6h0M483.9 85.9h0M490.8 92.3h0M475.4 83.4h0M483.1 104.1h0M492.3 98.9h0M478.6 78.9h0M486.6 79.2h0M469.9 93.6h0M487.2 94.9h0M482.5 83.7h0M475.8 97h0M467.8 86.4h0M463.9 91.8h0M490.6 83h0M498 74.3h0M481.3 90.2h0M496.7 83.6h0M501.3 81.9h0M496.2 83h0M495.5 72h0M465.2 93.3h0M485.8 80.4h0M497.3 87.3h0M494 81.9h0M469.5 87.9h0M493.8 83.1h0M465.1 96.2h0M498.8 82.5h0M501.7 82.4h0M465.4 91.3h0M484.1 91h0M494 93h0M460.5 87.4h0M496.6 78.2h0M486.3 91.5h0M497.7 72.6h0M480.5 93.9h0M488.6 94.6h0M496.4 96.2h0M499.1 82.9h0M483 98.2h0M490.3 84h0M477.9 94.6h0M482.3 83.1h0M478.5 80.3h0M479 81.4h0M475.7 85.9h0M488.9 95.4h0M495.1 96.2h0M487 81.7h0M482.1 89.8h0M497.2 84.1h0M493.1 98.6h0M478.1 91.3h0M476.1 87.5h0M472.3 97h0M488.3 80.4h0M484.3 96.1h0M499.7 85.2h0M500.6 78.2h0M460.3 94.4h0M494.2 89.9h0M498.7 73.3h0M499.4 77.7h0M480.4 93.6h0M478.9 86h0" stroke="#d62728" stroke-width="3.0" stroke-linecap="round" fill="none"/>
<path d="M453.7 135h0M458.1 137.7h0M450.6 130.1h0M438.9 117.3h0M454.7 130.5h0M455 136h0M449.6 137.1h0M461.2 133.9h0M443.9 124.5h0M441.3 119.1h0M456.9 130.7h0M453.3 139.3h0M456.9 131.5h0M452.6 138.8h0M451 140.9h0M452.1 138.3h0M451.8 139.1h0M455.3 138.8h0M444 134.2h0M440.7 117.7h0M440 119.3h0M461.3 131.2h0M452.7 139.8h0M449.6 139.8h0M442.1 131.9h0M444.2 123.6h0M446.9 135.3h0M448.9 133.4h0M459.3 132.5h0M443.8 132h0M461.4 133.1h0M450.5 131.4h0M453.3 139.1h0M453.5 128.5h0M446.5 131.6h0M461.3 133.7h0M440.6 118.2h0M453.4 128.7h0M460.6 134.6h0M441.7 118h0M456.3 136.8h0M455.6 129.9h0M454.6 130.6h0M444.5 128.4h0M449.4 130.3h0M446.3 121.1h0M440.5 127.4h0M444.8 122.3h0M453.1 135.8h0M455 136.3h0M449.3 125.7h0M447.1 125.4h0M450.7 140.2h0M444.1 121.5h0M453 130.4h0M444.3 130h0M437.7 117.7h0M441 116.9h0M452.5 137.7h0M450 133h0M440.5 128.9h0M459.1 134.2h0M439.9 116.1h0M441.5 129.8h0M462.8 131.6h0M455.5 136.5h0M451.8 135.8h0M455.4 137.6h0M440.3 121.4h0M445.8 135.1h0M453 141.4h0M452.8 135.6h0M444.1 135.5h0M442.9 125.8h0M445.5 125.4h0M451.2 127.3h0M451.6 134.3h0M456.7 138.6h0M455.5 139.6h0M444.8 127.4h0M455.3 137.3h0M452.5 130h0M457 138.9h0M455.1 132.7h0M449.3 139.4h0M446.3 128.6h0M438 121.4h0M438.3 114.4h0M459.5 134.5h0M446.5 133.2h0M447.1 134.9h0M446.8 129.8h0M440.5 115.7h0M448.3 128.9h0M455.1 136.4h0M439.3 115.2h0M452.3 130.6h0M460.4 136.3h0M449.1 132.5h0M449.9 137.8h0M443.3 132.8h0M450.6 131.5h0M446.7 138.1h0M442.6 120.4h0M456.8 132.7h0M446.9 121.3h0M448.7 125.6h0M452.9 132.7h0M449.2 138.5h0M450.2 131.6h0M438 119.4h0M448.6 139h0M452.4 141.5h0M451 131h0M453.2 140.3h0M452.6 139.8h0M448.1 135.3h0M443.2 123.5h0M444.9 135.4h0M442.5 114.2h0M448.4 132.5h0M454.9 128.9h0M453.8 137.3h0M458.7 131.1h0M457.3 138.2h0M455.2 136.4h0M445.6 132h0M454.6 133.7h0M453.2 130h0M451.3 137h0M447.7 133.6h0M458 130.6h0M442.9 120.8h0M451.2 132h0M444.3 120.3h0M441.1 119.2h0M438.2 122.1h0M445.5 130.5h0M450.2 129.5h0M449.9 142.7h0M452.1 130h0M450.8 137.3h0M457.5 139.1h0M454.7 133.4h0M455.5 133.6h0M447.8 139.1h0M450.7 132.7h0M461.9 134.2h0M442.2 117.3h0M458.2 133.5h0M441.6 129.3h0M443.5 115.4h0M439.1 118.6h0M440.6 125.5h0M448.4 129.1h0M454.6 129.3h0M447.5 129.3h0M458.5 136.6h0M448.8 131h0M452.2 138.1h0M455 128.9h0M446.6 137.6h0M456.6 128.4h0M458.4 130.9h0M458.7 135h0M452.2 136.7h0M452.5 129.4h0M454.3 130.9h0M455.3 133.8h0M448.7 123.8h0M438.7 118.1h0M460.7 133h0M440.6 113.3h0M449 132.4h0M449.8 135.1h0M456.5 135.8h0M441.5 132h0M444.8 127.3h0M442.2 124.9h0M438.2 122.8h0M456.2 130.1h0M451.8 128.4h0M443.9 128.3h0M442.7 134.7h0M447.3 126.2h0M440.2 122.6h0M446.8 129h0M451.2 126.5h0M440.4 114.8h0M448 126.2h0M460.1 135.2h0M460.7 130.3h0M445.2 135.2h0M447.2 136.5h0M446.5 137h0M440 119.5h0M447.5 142.8h0M440.6 114.3h0M443.9 119.2h0M438.8 124.1h0M454.9 136.8h0M439.9 127h0M451.1 138.1h0M445.4 134.9h0M450.9 142.5h0M451.5 141.2h0M442.2 124.6h0M459.1 137.8h0M440.3 126.7h0M442.6 134.1h0M443.1 123.4h0M448.8 124.1h0M447.8 139h0M447.1 138.7h0M440.9 126.2h0M456.7 132.3h0M454.2 131h0M439.7 114h0M448.8 131.5h0M461.1 131.1h0M457.2 136.5h0M447.2 135.7h0M456.3 129.4h0M447.1 135.4h0M444.5 119h0M442.1 115.2h0M455.6 129.5h0M455.9 129h0M445.3 124.1h0M449 131.9h0M453.7 135.5h0M443.2 131.6h0M454.9 129.2h0M457.2 129.3h0M450.6 140.4h0M442.3 120.3h0M451.3 138.7h0M444.3 123.3h0M456.7 132.3h0M442.4 130.1h0M454.1 134.3h0" stroke="#7f7f7f" stroke-width="3.0" stroke-linecap="round" fill="none"/>
<path d="M530.5 134.5h0M512.9 140.7h0M519.4 134.4h0M493.6 156.4h0M518.7 139.7h0M499.3 154.8h0M495.5 162.7h0M490.1 158.9h0M528.4 136.7h0M530.8 147h0M496.6 150.8h0M513.8 137.5h0M533.3 140.7h0M503.7 149.2h0M517.5 145.9h0M517.9 135.3h0M501 142.7h0M500 143.7h0M509 144.5h0M537.1 142h0M507.5 156.5h0M491.1 156.7h0M509.6 146.3h0M531.5 143.6h0M513.9 139.1h0M513.5 134.8h0M495.9 158.6h0M508.7 157.2h0M528.9 134h0M506.8 161.7h0M499.5 147.9h0M526.1 136.3h0M522.4 138.4h0M506.1 144.5h0M529.9 147.3h0M507.4 146.3h0M513.4 155h0M506.3 153.7h0M497.1 156.9h0M494.6 160.8h0M519.7 155.3h0M510.9 148.6h0M496.8 159h0M527.2 132.4h0M495.6 155.5h0M498.8 153.2h0M530.1 141.7h0M520.1 155.4h0M495 153.6h0M515.1 141h0M520.1 136.4h0M529.9 135.2h0M504.6 149.4h0M509.6 153.6h0M513.1 152h0M516 154.3h0M512.1 150.9h0M494.2 163.2h0M492.3 154.5h0M519.6 149.4h0M516.6 136h0M492.2 155.7h0M497.5 153.1h0M533 142.9h0M500.2 149.1h0M508.7 161.4h0M497.6 152.6h0M494.8 163.7h0M506.5 144.9h0M504.5 163.4h0M526.1 134.2h0M524.8 137h0M517.4 137.1h0M513.6 149.8h0M533.5 143.9h0M515.1 134.8h0M503.8 145.9h0M509.9 151.2h0M521.5 153.9h0M527.5 132.5h0M529.1 149.2h0M503.8 149.4h0M514.3 137.3h0M512.5 152.6h0M499.6 148.8h0M518.4 142.8h0M519.9 154.6h0M498.4 149.3h0M533.7 141.3h0M531.3 145.8h0M526.2 147h0M510.8 155.7h0M509 160.1h0M523.8 147h0M511.7 150.5h0M515.6 145.7h0M510.1 141.2h0M518.9 138.4h0M499.2 154.5h0M494.5 154.4h0M529.6 150.7h0M511.4 147.8h0M498 152.2h0M531.8 134.1h0M516.9 135h0M514.6 137.6h0M534 137.6h0M499.7 147.7h0M523 134.2h0M518.5 150.2h0M531.4 134.7h0M512.4 147.4h0M527.6 146.9h0M506.2 153.6h0M526.8 150.7h0M506.9 159.8h0M500.5 160h0M514.9 141.2h0M502.9 162.5h0M521.8 146.5h0M503.1 150.7h0M531.4 132.7h0M516.5 153.7h0M506.8 159.3h0M514.2 142.3h0M500.2 154.4h0M501.8 151h0M492.4 163.8h0M503.6 145.2h0M499.5 149.1h0M492.5 158.8h0M533.9 142.7h0M527.1 146.8h0M503.6 157.6h0M497.9 157.3h0M509.1 160.3h0M509.6 143.3h0M514.5 148.4h0M530.3 145.6h0M502.7 146.3h0M520.6 147.4h0M499.4 145.6h0M528.6 143.2h0M511.8 143.9h0M495.1 163h0M521.1 147.4h0M535.6 137.6h0M523.6 139.5h0M502.1 159h0M513.2 154.9h0M529.1 149.2h0M490 157.4h0M518.9 137.1h0M524.6 149.1h0M502.3 161.2h0M496.9 161.7h0M525 131.7h0M504.3 145.9h0M507.9 159.8h0M508 160.6h0M494 154.3h0M517 139.5h0M501 144.1h0M518.7 139h0M517.5 151h0M536.2 142.1h0M519.4 134.5h0M512 147.3h0M533.4 146.8h0M527.6 132.4h0M527.2 133.8h0M513.2 143.6h0M497.2 158.5h0M507.6 158.1h0M505.1 146.4h0M525.9 144.5h0M517 141.7h0M530.4 139.3h0M496.3 157.9h0M505.8 159.2h0M498.8 154.6h0M498.6 156.5h0M494.3 159.9h0M524.3 149.7h0M526.5 141.8h0M498.8 144.7h0M523 142.2h0M508.4 158.2h0M525.8 150.9h0M498 147.7h0M513.9 153.6h0M532 140.4h0M508 154.7h0M531.7 142.7h0M492.9 163.6h0M527.1 142.9h0M529 141.7h0M528.2 150h0M515.8 149.6h0M525 133.5h0M532.6 149.7h0M514.7 148.7h0M517.7 148.4h0M527.6 144h0M512.5 152.6h0M526.1 147h0M509.5 150.8h0M499.6 156.7h0M529.3 139.8h0M507.5 156.1h0M506.2 157.5h0M514.2 152.8h0M509.3 160h0M512.8 147.7h0M506 143.7h0M535.5 137.9h0M533.7 141.8h0M515.6 141.3h0M508.6 143.6h0M522.6 152h0M510.7 141.4h0M517.3 147.8h0M506.8 146h0M500 152h0M523.1 140.2h0M522.9 135.8h0M502.8 156.7h0M525.1 143.6h0M523.1 148.3h0M503 156.9h0M496.2 156.2h0M500.3 159.1h0M511.8 145.8h0M500.4 152.1h0M509.2 144.4h0M508.1 156.1h0M502 151.7h0M522.6 142h0M498.6 156.1h0M494.1 161.4h0M522.9 139h0M517.7 152.8h0M508 156.1h0M495.9 157.4h0M503 160.6h0M497.1 157.6h0M490.7 159h0M516.9 140.8h0M494.8 162.2h0M514.1 139.9h0M509.1 160h0M494.8 160.4h0M500.8 145.2h0M514.9 145.2h0M530.2 150.9h0M497.9 158.5h0M511.5 158.5h0M492.9 160.9h0M521.5 134.9h0M495.9 156.2h0M501.4 146.7h0M524.5 147.7h0M506.7 143h0M532.7 149h0M502.9 162.8h0M523.7 140.3h0M508.7 154.4h0M517.7 138.2h0M524 142.7h0M508.3 148.9h0M509.8 149.7h0M518.4 137h0M529.5 150.9h0M509.7 151h0M493.5 162.3h0M512.5 142.3h0M514.4 150.4h0M525.4 135.9h0M514.9 136.9h0M498.5 144.9h0M518.5 148.1h0M508.6 159.1h0M518.5 135.1h0M501.1 147.4h0M495.2 162.1h0M507.5 150.7h0M501.6 145.8h0M523.7 138h0M531.9 139.6h0M499.3 162.3h0M497.1 158.1h0M506.7 141.2h0M501.4 149.9h0M516.1 148.8h0M498.9 157.9h0M537 141.4h0M517.4 135.5h0M515.4 138.3h0M508.9 141.2h0M517.8 145.3h0M532.7 150.1h0M515 136.1h0M531 139h0M502.5 144.3h0M500.3 159.3h0M500.5 159.7h0M502.9 161.1h0M514.7 142.5h0M533.3 135.6h0M524 139.1h0M498.5 156.6h0M498.7 154.2h0M524 148.4h0M496.3 155.4h0M512.7 141h0M500.9 159.8h0M513 149.8h0M512.3 155.1h0M513.5 147.8h0M509.9 157.7h0M525.2 139h0M501.8 144h0M527.2 142.7h0M514.2 150.1h0M525.5 151.9h0M500.9 162.4h0M517.8 155.1h0M513.1 141.7h0M532.5 136.8h0M508.2 148.1h0M519.4 149.4h0M524.5 150.8h0M504.7 153.9h0M518.9 143.9h0M504.2 150.7h0M513.2 150.5h0M502.6 158.9h0M505.1 160.2h0M495.6 164.9h0M508.9 158.8h0M500.4 146h0M534.3 142.1h0M495.6 163h0M514.6 153.1h0M516.8 144.9h0M506.6 162.8h0M503.6 145.7h0M522.1 141.8h0M513.5 151.2h0M502.9 161.5h0M505.5 150h0M525.8 138.2h0M517.1 146.8h0M494.4 152.5h0M517.8 150.9h0M530 136.2h0M498.8 153.1h0M514.2 138.2h0M520.8 152.1h0M518.3 137.3h0M494.9 152.1h0M518.8 147.3h0M495.4 164h0M526.7 152.6h0M516.9 141.4h0M503.4 148.2h0M494.7 153.8h0M502.7 144.3h0M496.2 159.6h0M511.7 152.5h0M526.3 139.8h0M495.5 157.5h0M533.7 146h0M510.2 144.8h0M521.8 150.6h0M507.8 155.3h0M509.8 152.5h0M504.3 146.5h0M531.8 133.8h0M495.7 162.4h0M500.7 154.9h0M522.3 146.9h0M524.2 135.4h0M511.4 148.9h0M497.9 162.1h0M498.9 158.5h0M524.8 137.1h0M531.6 150.3h0M498.6 149.6h0M527.9 143h0M506.1 154h0M521.9 149.3h0M513.6 146.9h0M523.4 147.4h0M529.4 145.2h0M525.7 140h0M518 144.6h0M511.9 154.3h0M497.3 158.2h0M496.1 155.5h0M503.6 151.1h0M513.3 151.2h0M503.7 155.9h0M534.5 142.8h0M527.1 131.5h0M535.9 145.4h0M516.9 136.1h0M498.5 159.5h0M513.8 157.8h0M519.3 136.7h0M516.2 155.5h0M519.9 147.9h0M505.6 161h0M526.5 141.9h0M504.1 158.6h0M496.2 164h0M521.8 148h0M528.8 149.1h0M503.6 150.3h0M526.3 131.4h0M516.7 136.9h0M497.9 151.6h0M519.3 140.4h0M514.1 138h0M504.7 163.3h0M516.9 134.3h0M491.8 156.7h0M495.4 160h0M506.4 150.2h0M511.1 145.6h0M506.9 141.5h0M492.7 164.4h0M511.7 156.1h0M501.5 145.8h0M507.9 143.7h0M506 143.9h0M534.4 146.6h0M504.9 149.1h0M513.1 153.9h0M511.4 158.7h0M525.7 144.7h0M514.6 155.4h0M496 152.3h0M533.4 144.5h0M509.2 152.8h0M500.7 156.2h0M498.3 149.2h0M518.1 154.8h0M531.3 133.3h0M529.2 150.9h0M513.1 152.3h0M493.9 160.4h0M505.2 163.3h0M524.3 142.1h0M494.5 162h0M517.3 146.8h0" stroke="#ff7f0e" stroke-width="3.0" stroke-linecap="round" fill="none"/>
<path d="M466.7 207.8h0M455.6 205.6h0M452.1 203.9h0M460.6 196.7h0M462.1 203.4h0M464.5 203.4h0M457.3 210.2h0M463.1 217.7h0M452.1 205.8h0M455 200.5h0M467.7 207.7h0M454.2 196.2h0M469.6 204.2h0M455.6 197.8h0M468.3 206h0M450.1 191.4h0M468.4 213h0M452.3 206h0M461.6 194.6h0M462.9 205.8h0M460.1 193h0M451.3 203.6h0M464.9 200.5h0M456.7 192.5h0M459.9 203.5h0M459 199.8h0M457.1 204.9h0M461.1 215.1h0M459.1 213.4h0M459.9 210.8h0M459 195.1h0M451.8 196.4h0M459.4 205h0M463.4 217.8h0M463.9 211.5h0M466.7 199.4h0M456.1 193.4h0M456.5 202.5h0M457.9 208.9h0M454.4 203h0M470 207.8h0M451.8 198h0M452.2 193h0M460.1 206.2h0M457 209.9h0M458.3 204h0M470.6 201.7h0M469 217.8h0M454.3 208.6h0M464.4 209.3h0M460.9 208.1h0M448.4 191.9h0M466.5 201.3h0M451.4 191.5h0M455 201.9h0M468.9 207.5h0M461.9 201.3h0M470.8 203.4h0M464.4 219.9h0M472.9 202.1h0M451.8 201.2h0M467.7 211.6h0M466.2 214.5h0M465.6 210.6h0M459.7 196.9h0M456.6 211.2h0M457.3 194.7h0M452.5 203.2h0M465.4 206h0M452.3 201.6h0M459.5 205.4h0M461.6 199.3h0M473 204h0M453.3 202.2h0M457.1 198.6h0M461 201.6h0M462.2 203h0M463.2 213.8h0M460.1 204.1h0M460.1 203.8h0M465 214.1h0M457.5 210.4h0M465.8 213.7h0M456.2 193.1h0M466.2 198.9h0M460.6 197h0M466.5 217.5h0M463.3 210.1h0M460.6 193.6h0M450.4 204.8h0M455.1 203.6h0M459.5 213.1h0M450.7 193.5h0M470.5 206.8h0M459.7 196h0M460.3 205.9h0M463.3 209.5h0M457.2 195.2h0M457.8 194.9h0M446.2 190.1h0M465.8 215.4h0M458.9 191.8h0M452.9 205.3h0M458.2 212.8h0M459.4 197.3h0M459.4 205.7h0M462.1 217.9h0M451.1 206.4h0M469.3 214.5h0M456.6 208.3h0M454.2 209.1h0M454.1 197.9h0M458.9 192h0M458.9 206.3h0M455.2 202h0M462.5 207.6h0M458.6 198.3h0M448.5 192.8h0M450.3 199.8h0M455.1 199.6h0M457.2 204h0M461.7 198.5h0M459.8 199.2h0M450.3 190.7h0M452 196.6h0M469.7 214.3h0M466.2 215.9h0M471.5 200.4h0M467.5 203.1h0M452.3 192.2h0M460.7 199.1h0M464.8 209.2h0M463.2 196.3h0M464.9 215.3h0M451.8 192.5h0M461.8 196.6h0M457.2 202.2h0M460.7 214.6h0M468.8 206.4h0M451.8 207.2h0M462.1 193.7h0M458.1 205.5h0M456.4 213.9h0M458.2 196.2h0M461.1 214.6h0M463.3 215.5h0M465 214.3h0M467.4 217.3h0M458.7 217.2h0M457.3 201.9h0M466.8 209.9h0M458.1 196.3h0M462.1 218.8h0M453.4 203.4h0M459.7 202.6h0M465.3 206.1h0M464.4 218.3h0M468 213.9h0M464.5 207.5h0M457.4 215.5h0M454 197.4h0M451.1 200.6h0M464.2 197.1h0M458.2 211.9h0M464.3 197.2h0M468.1 217.9h0M467.3 200.4h0M470.3 200.4h0M459.8 192h0M459.2 196.7h0M455 205.1h0M457.3 203.4h0M470 200.3h0M463.4 199h0M461.6 192.4h0M454.6 207.8h0M469 217.2h0M464 216.3h0M461.7 206.8h0M464.2 219.8h0M466.3 209.3h0M457.3 201.7h0M452.5 199.6h0M462.8 204.9h0M455.2 207.2h0M470.5 200.9h0M448.4 190.4h0M460.8 216.8h0M458.1 205.1h0M457.3 212.7h0M460.4 205h0M456.3 213.7h0M455.7 202.3h0M465.8 219.4h0M459 212.5h0M469.7 207.3h0M465.4 201.5h0M465.5 217.9h0M458.4 216.7h0M457.3 201.7h0M454.5 197.1h0M469 215.6h0M460.6 208.7h0M459.6 198.3h0M459.3 215h0M451.6 205.1h0M453.2 201.2h0M453.3 201.1h0M455.2 192.6h0M462.9 200.7h0M448 192.2h0M458.1 206.7h0M465 210.5h0M453.2 206h0M457.3 215.5h0M460.3 203.9h0M456.3 204.8h0M463.7 204.1h0M467.1 217.1h0M469.1 199.9h0M458.2 201h0M468.3 207.5h0M464.5 213.7h0M466.7 198.4h0M467.4 205h0M452 200.2h0M454.3 207.4h0M452.5 207.7h0M457 207.6h0M454.7 204.7h0M453.3 199.3h0M455.7 206h0M468.1 216.6h0M458.8 204.3h0M451 206.2h0M469.9 202h0M466.3 219.6h0M461.9 197.7h0M458.2 214.3h0M457 193.7h0M463.4 206.2h0M456 194.9h0M463.7 202.8h0M465.2 216.6h0M468.7 205.6h0M451.1 194.2h0M460.1 207h0M461.2 211.8h0M455.8 208.7h0M456.5 210.3h0M456.8 214.5h0M455.9 200.2h0M462 218.2h0M459.2 215.7h0" stroke="#2ca02c" stroke-width="3.0" stroke-linecap="round" fill="none"/>
<path d="M403.3 124.6h0M391.3 114.3h0M405.1 122.1h0M415.1 106.6h0M401.9 112.2h0M419.7 102.7h0M404.9 116.4h0M412.9 116h0M389.8 120.2h0M394.8 122.7h0M387.1 131.7h0M423.6 114.9h0M404.6 109.5h0M418 111.2h0M387.8 130.8h0M391 128.5h0M400.2 124.6h0M420.6 118.2h0M407.5 108.4h0M420.9 115.8h0M414 120.7h0M400.7 109.7h0M410.4 105.3h0M393.9 112.1h0M396.5 115.5h0M400.1 133.7h0M413.1 126.9h0M403.3 131.4h0M406.3 127.4h0M400.2 137.9h0M402.2 132h0M405.8 124.2h0M390.5 116.9h0M398.2 117.9h0M401.9 106h0M422.2 113.3h0M384.5 127.3h0M385.4 128.1h0M396.9 138.1h0M420.1 104.8h0M388.3 124.9h0M416 117.7h0M412.5 122.7h0M404.9 120.5h0M417.2 113.8h0M409.1 104.1h0M405.4 102.4h0M411.3 104.5h0M388.3 126.1h0M388.7 127.4h0M407.2 128.7h0M396 121.6h0M416 106.6h0M401.9 112.8h0M411.3 116.4h0M401.8 114.2h0M395.4 128.3h0M417 114.2h0M404 134.5h0M406.3 127h0M397.6 133.7h0M402.3 109.7h0M400.2 139h0M401.8 122.8h0M420.3 103.1h0M401.2 129.4h0M409 122.6h0M391.9 122.6h0M397.5 125.2h0M418.6 110.1h0M396.3 129.7h0M399.3 109.9h0M407.6 104.4h0M406.9 119.9h0M422.2 118.2h0M414.1 105.8h0M409.7 127.6h0M399.3 118.9h0M401.1 107.7h0M411.3 116.8h0M410.6 102.7h0M384.5 133.3h0M414.6 102.6h0M421.8 115.6h0M420.9 112.9h0M395 112.3h0M408.8 99.6h0M403.2 111.9h0M391.5 117.5h0M409.1 117.3h0M409.4 121.9h0M397.6 118.7h0M398.5 139.4h0M424.4 104.6h0M413.7 101.7h0M407.4 124.8h0M422.5 112.8h0M398.7 129.6h0M420.4 110.8h0M403.5 106.9h0M416.1 114.6h0M401.5 116.2h0M420.9 116.7h0M405.6 118.9h0M416.5 122.8h0M410.7 109.7h0M412.6 109.1h0M408.6 112.1h0M400.3 132h0M390.8 116.2h0M399.2 110.2h0M396.8 118.7h0M408.8 101.9h0M404.8 122.2h0M408 129h0M408.1 115.2h0M416.5 108.4h0M418.9 97.1h0M390.7 127.8h0M403.8 108.5h0M397.6 126.2h0M414.6 125.8h0M406 102.2h0M422.8 111.9h0M425.6 102.6h0M393.7 111.3h0M384.3 129.3h0M421.7 114.3h0M392.7 116.8h0M421.6 112.3h0M396.4 123.9h0M409 122.7h0M422.1 113.3h0M402.5 124.7h0M404.5 129.9h0M401.3 114.9h0M403.4 132.2h0M405.3 103.9h0M410.8 108.2h0M423 105.8h0M404.8 117.1h0M402.4 125h0M409.7 101.5h0M389.4 126.3h0M424.2 105.9h0M401.5 137.1h0M389.2 119h0M402.7 132.1h0M402.2 125.9h0M420 109h0M417.6 103.8h0M409.9 111.1h0M417.5 120.7h0M415.7 98.9h0M417.7 109.8h0M408.4 116.5h0M416.1 116.3h0M405.8 120h0M409.6 126.2h0M404.4 125.7h0M411 110h0M402.2 116.2h0M403.9 123.9h0M403.2 112.8h0M386.6 124.8h0M393.9 129.4h0M401 120.9h0M397.9 129.4h0M408.7 106.9h0M419.8 107.5h0M419.7 115h0M399.2 122.3h0M415.8 105.8h0M400.9 136.5h0M423.5 104.9h0M415 123.3h0M423.9 104.7h0M385.8 131.9h0M423.5 109.9h0M417 102h0M423.8 110.1h0M410.8 120.3h0M394.7 123h0M402.8 121.6h0M386 129h0M416.6 122.3h0M409.6 124.9h0M401.7 112.7h0M423.4 116.4h0M395.7 127.2h0M411 120.7h0M414.9 111.9h0M409 111.8h0M398.2 125.8h0M415.9 107.4h0M411.8 115.8h0M387.9 129.7h0M406.1 116.8h0M416.3 117.9h0M425.5 102.2h0M412.1 124.2h0M399.1 128.1h0M422.7 115h0M405.1 107.7h0M422.9 111.9h0M419 116.3h0M401.8 126.8h0M384.8 125.3h0M394.7 110.7h0M403.1 108.6h0M397.3 114.9h0M418.6 123h0M408 107.1h0M401.1 116.8h0M389.9 131.5h0M400.2 129.2h0M391.1 123.4h0M397.4 136.4h0M395.2 113h0M405.4 123.5h0M418.6 120.3h0M395.7 122h0M411.3 124.3h0M415.8 116.3h0M410.9 120.9h0M418.3 117h0M400.5 109h0M417.7 111.2h0M416.9 125.6h0M397.7 120.9h0M413.4 108.7h0M391.1 121.5h0M421.9 114.6h0M411.9 100.7h0M399.7 113.7h0M395.6 120.8h0M384.8 132.3h0M420.1 120.4h0M419.5 95.6h0M420.4 119.8h0M391.5 127.6h0M410.3 106.6h0M393 119.8h0M402.9 110.2h0M409.5 112h0M400.9 111.1h0M420.9 114.1h0M406.4 121.6h0M384.8 133.6h0M406.9 126.2h0M385.3 131.8h0M401.9 129.4h0M402.8 124.1h0M417 110.6h0M398.8 126.7h0M395.8 125.7h0M403.1 120.1h0M409.1 113.3h0M410.4 110.3h0M393.5 129.9h0M417.9 97.1h0M404 110.7h0M397.8 123.2h0M392.9 126.8h0M401.5 121.6h0M410.6 127.2h0M408.3 100.4h0M402.7 119.8h0M408.4 128.8h0M405.9 120.6h0M408.4 114.8h0M412.1 108.4h0M420.7 122.3h0M418.3 111.5h0M413 118.5h0M419.9 101.6h0M402.8 107h0M400.3 138.4h0M411.6 125.6h0M384.9 126.5h0M422.7 103.1h0M385.9 133.3h0M399.5 109.1h0M393.1 119.8h0M407.4 123h0M409.2 114.3h0M416.7 106.3h0M405 121.7h0M392 115.9h0M394.2 128.9h0M400.4 112.1h0M403.1 123.8h0M415.7 114h0M401.9 119.2h0M413.6 114.4h0M409.1 122.3h0M415.5 100.2h0M403.2 134.3h0M409.8 103.8h0M405.6 125.8h0M398 132.3h0M410.7 127.1h0M412.8 107h0M406.9 104.6h0M404.9 107.7h0M419 110.7h0M403.6 105.3h0M388 126.2h0M413.8 103h0M386.6 129.5h0M404.7 112.9h0M422.1 108h0M414.7 125.2h0M402 135.9h0M416.4 116.1h0M410.9 124.8h0M399.7 110.5h0M394.2 127.3h0M421.5 118.4h0M422.7 117.4h0M423.4 100.8h0M410.3 119.3h0M392.1 117.9h0M394 123.8h0M414.1 97.6h0M414.1 123.4h0M388.6 129h0M392.3 124.2h0M400.5 121.3h0M406.5 111.7h0M406.8 120.8h0M389 127.2h0M411.5 115.7h0M398.6 126.5h0M421 116.3h0M410.4 103.4h0M422.3 114.6h0M385.8 127.9h0M410 109.1h0M408.1 104.8h0M414.4 125.5h0M418 115.7h0M401.3 123.9h0M406.7 100.5h0M398.7 123.1h0M415 99.4h0M385.6 130.4h0M387.7 134.3h0M400.2 133h0M415.2 101.5h0M397.9 125.4h0M409 126.2h0M404.6 111.8h0M409 127.9h0M414.1 119.1h0M403.5 108.3h0M395.9 116.9h0M402.3 105.9h0M392 115.6h0M395.1 122.1h0M399.3 111.5h0M402.4 109h0M414.9 98.2h0M413 126.5h0M416.9 103h0M399.3 111.4h0" stroke="#bcbd22" stroke-width="3.0" stroke-linecap="round" fill="none"/>
<path d="M390.2 181.9h0M424.6 218.8h0M398.7 191.6h0M398 160.4h0M400.2 194.4h0M414.7 163.5h0M415 195.1h0M417.5 175.1h0M414.5 200.7h0M410.5 179.1h0M422.4 201h0M418.4 207.7h0M397.8 181.5h0M418.1 203.6h0M415.4 159.4h0M431.8 199.9h0M418.5 165.5h0M413.2 167.7h0M401.3 167.2h0M420.2 171.6h0M423.8 229.2h0M424.3 227.2h0M410.9 206.5h0M388.4 178.7h0M426.1 207.8h0M395.3 155.5h0M405.7 195.3h0M391.3 161h0M420.6 211.6h0M377.7 146.1h0M406.6 162.8h0M411.2 169.3h0M406.8 171.3h0M394.3 161.9h0M402.3 174.8h0M388.2 152.8h0M407.6 161.9h0M408.7 208.9h0M422 220.5h0M381.7 154.3h0M397.3 174.2h0M396.3 162.9h0M392.6 195.3h0M398.1 172.8h0M400.5 184.2h0M396.1 165h0M411.7 209.9h0M393.6 169h0M378.6 149h0M392.7 149.4h0M407.1 175.3h0M410 218.3h0M377.1 154.9h0M394.4 190h0M412.4 211.3h0M391 176.5h0M421.1 231.9h0M424.4 221.6h0M399.5 177h0M392 155.6h0M405.7 198.7h0M403.1 182.3h0M415.3 173.8h0M410.3 212.8h0M424.6 214.4h0M427.4 204.5h0M421.3 205.9h0M416.2 204.8h0M418.6 222.7h0M411.9 186.5h0M395.5 194.9h0M407.1 190.7h0M389.1 158.5h0M412.9 184.8h0M422.8 210.5h0M408.2 171.7h0M400 152.7h0M414.1 162.8h0M398.8 156.8h0M414.9 193.9h0M407.5 215.5h0M416.6 216.1h0M411.1 215.7h0M410.7 208.7h0M410.4 179.1h0M413.2 195.3h0M424.1 218.9h0M407.6 194.1h0M406.2 176.2h0M406.6 174.9h0M411 167.2h0M411.7 169.5h0M408.9 169.8h0M418.3 214.2h0M419 207h0M395 193.8h0M416 211.7h0M428.2 229.5h0M418.8 221.4h0M423.7 212h0M401.3 182.3h0M388.9 154.9h0M390.6 185.8h0M427.5 226.5h0M417.8 195.7h0M407.1 166.2h0M417.6 214.7h0M404.8 193.1h0M399.4 171.9h0M385.9 157h0M397.5 176.4h0M408.7 191.2h0M418.9 199h0M407.8 207.8h0M379.7 155.6h0M398 168.1h0M421.7 215.5h0M424.4 230.2h0M417.9 221h0M389.3 153h0M392.7 182.9h0M416.2 167.1h0M392.2 182.7h0M395.5 179.7h0M419.3 218.9h0M407.6 192.9h0M403.5 194.9h0M415.4 194h0M402.4 179.8h0M383.3 153.4h0M391.2 194.2h0M386.5 156.5h0M413.1 181.2h0M416.8 171.5h0M414 159.3h0M428 201.3h0M396.2 166.6h0M409.4 169.3h0M392.3 150.9h0M390.3 151.2h0M413.5 191.1h0M409.9 202.1h0M407.6 185.5h0M398 179.8h0M407.2 160.1h0M390.3 181h0M408.4 212.1h0M429.4 201.5h0M398.4 168.4h0M396.2 194.9h0M402.4 155.3h0M400.9 177.1h0M407.6 193.6h0M420.9 212.7h0M414.3 200.9h0M397.5 152.3h0M389.4 147.4h0M405.4 194.7h0M413.8 176.3h0M386.2 159.3h0M376.3 152.4h0M407.5 204.4h0M413.3 179h0M409.2 157.9h0M407.4 176.9h0M378.2 154.8h0M393.7 179.2h0M394.2 160.1h0M417.9 197.4h0M412.6 157.7h0M413.7 205.5h0M394.2 174.3h0M412.1 214.6h0M417 195.2h0M424.1 229.4h0M413.4 183.7h0M405.9 193.7h0M409.9 201.8h0M414.1 172.8h0M398.1 187.6h0M399.6 172.4h0M404.9 200.7h0M394.4 186.5h0M384.5 151.1h0M418.9 230.7h0M389.1 178.2h0M383.3 152.5h0M428 206.1h0M405.1 205.6h0M419.3 211.9h0M411.9 170h0M377.3 155.6h0M406.8 197.4h0M399 171h0M424 231.9h0M414.1 190.4h0M417.1 176.8h0M403.6 171.5h0M412.2 209.5h0M399.6 182.8h0M408.6 165.2h0M404.3 193h0M417.3 178.8h0M410.8 179.6h0M394.8 156.1h0M393.7 179.6h0M388.5 147.2h0M425.5 206.2h0M401.2 182.2h0M403.8 163.7h0M404.6 180.1h0M406.9 160.7h0M402.7 173.4h0M390.1 187.1h0M405.3 201h0M405.2 158.1h0M406.3 189.9h0M422.6 223.4h0M385.6 150.9h0M401.5 189.9h0M405.1 154.9h0M380.4 155.4h0M404.4 161.5h0M426.3 212.3h0M406.5 214.2h0M418.7 227h0M405.1 195.9h0M407.7 198.9h0M421 226.7h0M419.6 177.9h0M405.3 203.5h0M398.5 176.3h0M421.3 218.2h0M394 193.9h0M407.4 159.4h0M414.1 188.1h0M395.6 155.5h0M409 197.1h0M399 177.3h0M404 188.2h0M410.2 170.9h0M385.6 150.7h0M393.6 180.5h0M410.3 192.3h0M395.1 199.6h0M419 199.4h0M393.6 194.4h0M387.9 149.2h0M387.4 159.6h0M414.9 181.7h0M391.8 181h0M417.9 204.2h0M416 163.5h0M408.5 152.8h0M421.2 207.8h0M389.3 187.1h0M416.5 203.5h0M413.8 194.7h0M409.2 216.7h0M402.4 196.3h0M391.5 161h0M407.5 169.8h0M403.4 172.5h0M415.3 167.4h0M395.1 172.8h0M411.2 200.2h0M384.7 148.4h0M409.7 186.9h0M393.5 192.2h0M418.6 206.1h0M397.9 166h0M412.2 201h0M413.2 193h0M395 199.8h0M426 216.2h0M416.5 193.3h0M399.3 177.1h0M401.2 151.9h0M402.6 153.2h0M410.2 200.2h0M408.7 196.8h0M404.6 191.2h0M420.3 210.3h0M407.5 192.2h0M415.4 178.6h0M400.9 151.8h0M397.5 174.3h0M396.5 179h0M390.3 175.5h0M425.3 227.1h0M397.1 154h0M388.6 147.6h0M404.3 175.8h0M389.8 175.8h0M393.4 167.7h0M410.7 195.5h0M377.7 148.8h0M400.8 154h0M402.6 189.1h0M418 225.2h0M388.5 188.5h0M409.1 169.7h0M426.5 221.5h0M402.2 191.4h0M377.7 146.1h0M383.3 158h0M407.8 197.3h0M421.3 199.1h0M387.8 177.3h0M413.1 218h0M415.5 187.1h0M396.2 184.1h0M379.9 152h0M408 162.8h0M419.9 222h0M422.4 218.1h0M385.4 158.3h0M403.6 165.8h0M414.9 188.8h0M396.3 182.9h0M394.1 185.5h0M393.3 178.4h0M398.4 180.1h0M412.8 172.9h0M396.6 150.9h0M390 182.7h0M406.4 201h0M377.2 147.6h0M421.4 228.5h0M415 169.2h0M416.1 170h0M403.9 186.6h0M382.7 156.7h0M420.1 175.5h0M411.2 153.6h0M391.9 181.6h0M394.5 185h0M427.4 229.2h0M412.6 203.8h0M410.5 193.4h0M400.1 171.6h0M417.4 173.4h0M392.2 173.9h0M425 207.4h0M418.6 216.8h0M424.9 226.2h0M393.1 195.4h0M426.2 221.4h0M427.9 228.6h0M399.8 174.3h0M392.1 152.8h0M416.9 173.4h0M424.5 219.9h0M397.6 158.7h0M409.4 203.5h0M418.9 170.5h0M410.2 177.5h0M383 150.3h0M418 173h0M406.1 154.7h0M399.8 176.2h0M425.4 206.3h0M391.5 187.8h0M425.4 203.2h0M374.7 153.4h0M415.8 220.4h0M402.5 165.8h0M418.8 224.5h0M414.8 188.9h0M401.8 175h0M413.1 207.7h0M403.5 174.4h0M416.2 160.4h0M402.3 202.8h0M390.1 192.3h0M401.6 180.5h0M404.4 155.8h0M419.8 190.8h0M415.4 193.7h0M396.4 172.9h0M399.8 156.3h0M417.4 217.8h0M417.4 173.8h0M420.6 220.3h0M389.3 192.4h0M414.6 194.1h0M420 201.3h0M407.2 169.9h0M398.7 158.1h0M392.2 170.1h0M413.2 191h0M410.9 198.9h0M420.7 216.8h0M417.9 203.8h0M425.6 218.7h0M394.9 156.1h0M425.7 233.2h0M392.5 171.7h0M409.1 186.7h0M405.4 178.2h0M390.6 150.6h0M379.8 147.8h0M415.3 215.5h0M408.5 194.3h0M405.7 208.1h0M400 183.6h0M374.7 151.6h0M415.1 201h0M399.5 179h0M402.6 179.4h0M412.7 195.4h0M408.4 184.9h0M415.9 212.6h0M417.3 164h0M381.2 152.6h0M411.5 215.9h0M403.9 194.1h0M394.8 193.3h0M395.3 168.5h0M412.2 215.4h0M383.4 153.2h0M386.9 150.3h0M393.7 187.3h0M384.1 157.8h0M424.2 205.2h0M402.9 159.6h0M412.2 181.8h0M423.3 223.9h0M416.1 176.5h0M424.2 232.2h0M410.5 216.5h0M402.2 190.4h0M422.7 202.5h0M391.6 169.3h0M395.9 169.6h0M421.2 220.2h0M415.4 217.8h0M407.6 207h0M414.1 160.2h0M427.4 206.2h0M407.7 212.2h0M414.1 186.9h0M418.5 164.3h0M395.4 159.3h0M412.5 174.5h0M400.8 178.9h0M408.6 158.9h0M413.5 200.7h0M426.4 221.8h0M415.5 170h0M412.1 171.6h0M422.6 212h0M395.6 160.3h0M402.1 171.3h0M414.8 196h0M422.5 227h0M393 173.9h0M389.9 181.1h0M422.1 222.6h0M394.4 192.7h0M413.1 162.4h0M413.9 173.2h0M398.1 184.7h0M423.1 216.8h0M416.3 173.6h0M391.3 194.3h0M422.2 219.6h0M396.4 181.3h0M399.7 164.7h0M412.9 199.2h0M382 154h0M427.9 214.5h0M405.6 184.2h0M403.4 168.5h0M408.9 187.6h0M423.3 234.1h0M412.1 212h0M419.3 192.5h0M422 233.3h0M414.5 208.9h0M379.7 150.9h0M412.6 213.6h0M423.3 203.1h0M423 204.3h0M399.7 165.3h0M389.4 178.8h0M414.2 181.8h0M428.2 223.4h0M399.3 196.8h0M415.2 202.5h0M386.1 157h0M421.7 204.2h0M382.5 149.1h0M412.8 161.1h0M413.9 185.3h0M414.3 188h0M413.5 186.5h0M390.9 149.2h0M414.7 203h0M413.2 215.6h0M425.3 230.8h0M416.3 187.1h0M405.6 155.2h0M399.6 176.3h0M421 212.9h0M399.4 186.8h0M400 154.3h0M405.5 173.9h0M379.3 155.7h0M399.2 158.8h0M406.6 176.5h0M401.7 189h0M426.1 227.6h0M403.6 168.1h0M430.3 220.2h0M416.6 167.1h0M412.4 193.1h0M402.9 195.5h0M413.1 209.8h0M403.2 190h0M406.9 183.1h0M429.1 227.5h0M400 174.9h0M395.2 173.1h0M402.2 156.1h0M414.7 203.8h0M408.9 206.3h0M427.5 218.8h0M382.3 153.6h0M392.3 153.1h0M410.7 173.4h0M386.6 153.6h0M380.6 151.8h0M417.9 203.7h0M392.7 166.6h0M401.4 177.8h0M417.1 205.4h0M395.5 198.8h0M392.8 175.2h0M393.7 160.1h0M415.8 163.4h0M397.3 186.4h0M405.6 188.9h0M401.4 192.6h0M414 197.5h0M415.9 161.6h0M419.4 224.7h0M392.8 184.7h0M379.3 154.7h0M391 186.4h0M392 192.7h0M389.5 180.6h0M387.7 147.3h0M401.4 180h0M387.8 177.3h0M389.9 186.1h0M414.9 167.3h0M396.5 196.8h0M417.3 205.3h0M399 179.8h0M421.3 227.2h0M417.5 226h0M392.2 150.8h0M421.5 216.8h0M415.2 192.3h0M395.6 191.5h0M398.6 178.6h0M385.3 157.3h0M411.9 183.2h0M415.5 198.8h0M413.1 164.1h0M426 228.9h0M402.4 204.6h0M407 181h0M415.9 165.1h0M414.3 158.3h0M377.5 146.3h0M413 195.1h0M391.2 185.2h0M397.3 150.6h0M427.3 204.2h0M425.4 226.9h0M388.1 153.3h0M411.4 186h0M421.8 226.1h0M412.7 205.3h0M390.9 181.5h0M409.9 186.8h0M410.1 171.1h0M401.1 185.5h0M400 153.9h0M402.7 191.9h0M414.3 216.2h0M417.1 203.4h0M417.3 164.7h0M397.1 175.5h0M391.9 187.6h0M419 201.6h0M407.1 163.4h0M396.4 188.6h0M397.7 191h0M410.5 199h0M426.7 221.2h0M404.2 175h0M392 161.1h0M398.1 193.8h0M417.8 158.6h0M419.8 203.6h0M395.8 156.3h0M411.5 206.1h0M391.9 170.9h0M404.2 198h0M388.4 154h0M412.7 190.1h0M403.9 160.3h0M410.8 217.5h0M392.7 156.6h0M390.6 184h0M394.2 159.2h0M396.6 163.8h0M423.2 205.9h0M390.2 165.6h0M391.1 181.2h0M409 180.5h0M429.8 200.6h0M422.5 206.6h0M411.2 218.1h0M431.8 199h0M392.6 160.9h0M392.7 154.3h0M415.7 202.7h0M388.3 182.2h0M408.7 216.9h0M401.1 161.3h0M388.2 189.9h0M394.8 157h0M414.7 205.3h0M415.7 187.4h0M398.9 174h0M418.9 161.4h0M405 154.5h0M391.9 156.8h0M396.3 156.9h0M414 167h0M414.6 164.6h0M414.1 212.8h0M418.5 175.2h0M381.4 157h0M393 149.4h0M399.6 150.3h0M427.6 205.2h0M392.1 163.8h0M401.9 206h0M393.5 180.7h0M410.4 217.5h0M403.7 181.8h0M400.3 171.6h0M420.2 194.2h0M419.9 223.1h0M424.4 201.9h0M398.4 195h0M396.1 185.5h0M415.1 178.2h0M418 159.1h0M404.6 177.8h0M421.7 192h0M421 205.7h0M401.4 196.7h0M432.7 198.5h0M399.6 162h0M409.9 173.1h0M423.9 225.1h0M411.8 187.9h0M396.4 164.3h0M398.8 174.3h0M409.3 198.8h0M401 158.8h0M413.2 219h0M412.2 166h0M415.5 219h0M414 199h0M428.4 213.9h0M400.5 194.2h0M423.1 208.9h0M389.5 183h0M425.6 206.7h0M427.7 216h0M419.4 202.4h0M409 209.4h0M421.8 202.1h0M413.8 176.4h0M422 203.2h0M391.4 189.9h0M406 201h0M421 190.9h0M411 196.1h0M394.9 167.6h0M392.1 153.4h0M405 169.6h0M403.5 186.1h0M392.3 149.9h0M386.7 151.8h0M415.2 220.6h0M415.9 205.9h0M425.1 206.5h0M415.4 202.8h0M377.9 148.1h0M393.2 164.1h0M400.6 194.9h0M404.5 159.4h0M418.7 169.3h0M403.7 154.1h0M407.1 179.3h0M416 173.3h0M405.7 153.1h0M411.8 176.6h0M412.3 157.9h0M422.4 225.8h0M426.8 205.5h0M416.8 213.2h0M427 225.5h0M411.9 173.6h0M418.8 163.8h0M398.3 185.9h0M427.7 219.5h0M407.9 208.7h0M418.3 162.3h0M390.8 161.3h0M391.1 160h0M408 155.8h0M425.6 209.3h0M416.9 187.7h0M391.2 146.4h0M379.1 154.1h0M379.8 154.1h0M415.5 223.2h0M392.6 173.5h0M417.2 225.3h0M401.3 160h0M406.6 161.7h0M405.5 181.1h0M412.9 196.8h0M393.8 173.9h0M413.8 180.1h0M404.3 191.8h0M424.8 209.1h0M417.5 162.7h0M418.2 230.9h0M376.4 150.8h0M416.3 186h0M413.3 171h0M399 171h0M409.3 191.6h0M411.6 169.9h0M419.4 178h0M410.9 204.7h0M411.9 200.8h0M392.7 153.8h0M421.2 216.3h0M415.6 188.7h0M416.1 215.2h0M422.3 218.1h0M415.4 189.8h0M401.9 207.3h0M405.1 180h0M417.3 158.6h0M416 216.1h0M392.8 152.6h0M421.8 230.5h0M413.2 182.5h0M394.4 168.6h0M397.1 164.8h0M423.2 203h0M417.3 201.2h0M404.6 205.7h0M411.8 172.3h0M424.7 223.3h0M378.2 151.8h0M395.9 163.5h0M422.8 201.5h0M417.9 195.6h0M395.5 152h0M399 177h0M413.1 200.7h0M383.5 150.8h0M406.6 177.1h0M397.3 170.1h0M413.9 203h0M397.4 193h0M409.8 183.4h0M422.5 214.5h0M414.8 206.1h0M414.3 190.5h0M428.6 215.1h0M426.2 216.7h0M410.7 192.6h0M392 150h0M422.6 229.5h0" stroke="#1f77b4" stroke-width="3.0" stroke-linecap="round" fill="none"/>
<path d="M416.5 136.7h0M415.1 138.9h0M412.9 141.8h0M416.5 141.1h0M386.7 139.9h0M426 123.3h0M435.5 123.3h0" stroke="#bcbd22" stroke-width="3.0" stroke-linecap="round" fill="none"/>
<path d="M392.5 131.6h0M394 133.1h0M396.2 130.2h0M405.6 130.9h0M393.3 136.7h0M399.1 141.1h0M405.6 141.1h0M420.2 125.1h0" stroke="#1f77b4" stroke-width="3.0" stroke-linecap="round" fill="none"/>
<path d="M420.9 91.3h0M387.7 111.3h0M409.3 131.2h0" stroke="#17becf" stroke-width="3.0" stroke-linecap="round" fill="none"/>
<path d="M425 98.2h0M420.9 104.7h0M405.6 141.8h0M404.2 148.4h0" stroke="#8c564b" stroke-width="3.0" stroke-linecap="round" fill="none"/>
<path d="M424.5 112.3h0M424.5 118.5h0M426 122.2h0M434 102.5h0" stroke="#7f7f7f" stroke-width="3.0" stroke-linecap="round" fill="none"/>
<path d="M431.1 103.3h0M434.7 103.3h0" stroke="#e377c2" stroke-width="3.0" stroke-linecap="round" fill="none"/>
<path d="M366.5 87.8h0" stroke="#1f77b4" stroke-width="3.0" stroke-linecap="round" fill="none"/>
<path d="M368.6 89.6h0M368.1 95.5h0M379.3 87.8h0" stroke="#bcbd22" stroke-width="3.0" stroke-linecap="round" fill="none"/>
<path d="M445.6 68.7h0M446.9 71.3h0M447.7 73.1h0M440 70h0M454 91.6h0M455.1 94.2h0M457.1 92.9h0M459.6 100.5h0M464 96.7h0M432.9 103.9h0M424 112h0M425.3 119.6h0" stroke="#7f7f7f" stroke-width="3.0" stroke-linecap="round" fill="none"/>
<path d="M429.9 68.7h0M427.8 83.5h0M424.8 98h0M421.5 104.4h0" stroke="#8c564b" stroke-width="3.0" stroke-linecap="round" fill="none"/>
<path d="M430.4 75.1h0M429.1 77.6h0M431.6 103.1h0M434.9 103.1h0M448.2 118.4h0" stroke="#e377c2" stroke-width="3.0" stroke-linecap="round" fill="none"/>
<path d="M428.3 73.8h0M428.3 77.6h0M428.3 81.5h0M440.5 108.7h0M415.1 138.7h0M435.5 124h0M427.3 123.5h0" stroke="#bcbd22" stroke-width="3.0" stroke-linecap="round" fill="none"/>
<path d="M420.7 91.1h0" stroke="#17becf" stroke-width="3.0" stroke-linecap="round" fill="none"/>
<path d="M452 119.1h0M440 132.4h0M420.2 124.7h0M410 131.1h0M412.5 145.1h0M415.1 137.5h0" stroke="#1f77b4" stroke-width="3.0" stroke-linecap="round" fill="none"/>
<path d="M371.1 150.7h0M369.6 155.8h0M372.9 155.3h0M376.7 154.5h0M379.8 146.1h0" stroke="#e377c2" stroke-width="3.0" stroke-linecap="round" fill="none"/>
<path d="M381.8 145.1h0M389.5 148.2h0" stroke="#bcbd22" stroke-width="3.0" stroke-linecap="round" fill="none"/>
<path d="M404.7 141.8h0M404.2 148.7h0M412.9 153.8h0" stroke="#8c564b" stroke-width="3.0" stroke-linecap="round" fill="none"/>
<path d="M407.3 183.3h0" stroke="#2ca02c" stroke-width="3.0" stroke-linecap="round" fill="none"/>
<path d="M412.5 135.5h0M415.1 138h0M413.8 141.8h0M416.4 143.1h0" stroke="#bcbd22" stroke-width="3.0" stroke-linecap="round" fill="none"/>
<path d="M444.4 188.4h0M426.5 188.9h0M412.5 154.5h0" stroke="#7f7f7f" stroke-width="3.0" stroke-linecap="round" fill="none"/>
<path d="M475.7 202.9h0M477.5 204.2h0" stroke="#ff7f0e" stroke-width="3.0" stroke-linecap="round" fill="none"/>
<path d="M448.7 204.2h0M450.7 208h0M429.1 197.8h0M434.2 197.8h0M435.5 220h0" stroke="#1f77b4" stroke-width="3.0" stroke-linecap="round" fill="none"/>
<path d="M431.6 200.4h0M430.4 197.8h0M427.8 211.8h0" stroke="#2ca02c" stroke-width="3.0" stroke-linecap="round" fill="none"/>
<path d="M430.9 221.2h0" stroke="#d62728" stroke-width="3.0" stroke-linecap="round" fill="none"/>
<path d="M437.5 219.5h0" stroke="#e377c2" stroke-width="3.0" stroke-linecap="round" fill="none"/>
<rect x="504.0" y="3.8" width="40.5" height="62.2" rx="1" fill="#fff" fill-opacity="0.8" stroke="#ccc" stroke-width="0.5"/>
<g font-family="DejaVu Sans, Liberation Sans, sans-serif" font-size="4.3" fill="#111" stroke="#111" stroke-width="0.13">
<circle cx="510.5" cy="8.50" r="1.55" fill="#1f77b4"/>
<text x="518.6" y="10.00">Authentic</text>
<circle cx="510.5" cy="15.15" r="1.55" fill="#ff7f0e"/>
<text x="518.6" y="16.65">BigGAN</text>
<circle cx="510.5" cy="21.80" r="1.55" fill="#2ca02c"/>
<text x="518.6" y="23.30">Copy-Move</text>
<circle cx="510.5" cy="28.45" r="1.55" fill="#d62728"/>
<text x="518.6" y="29.95">DDPM</text>
<circle cx="510.5" cy="35.10" r="1.55" fill="#8c564b"/>
<text x="518.6" y="36.60">FDGAN</text>
<circle cx="510.5" cy="41.75" r="1.55" fill="#e377c2"/>
<text x="518.6" y="43.25">GLIDE</text>
<circle cx="510.5" cy="48.40" r="1.55" fill="#7f7f7f"/>
<text x="518.6" y="49.90">INDM</text>
<circle cx="510.5" cy="55.05" r="1.55" fill="#bcbd22"/>
<text x="518.6" y="56.55">PEDM</text>
<circle cx="510.5" cy="61.70" r="1.55" fill="#17becf"/>
<text x="518.6" y="63.20">StyleCLIP</text>
</g>
<rect x="14.9" y="315.8" width="245.7" height="244.1" fill="#fff" stroke="#555" stroke-width="0.6"/>
<g font-family="DejaVu Sans, Liberation Sans, sans-serif" font-size="4.3" fill="#111" stroke="#111" stroke-width="0.13">
<line x1="18.5" y1="559.9" x2="18.5" y2="561.5" stroke="#444" stroke-width="0.4"/>
<text x="18.5" y="566.65" text-anchor="middle">−80</text>
<line x1="49" y1="559.9" x2="49" y2="561.5" stroke="#444" stroke-width="0.4"/>
<text x="49" y="566.65" text-anchor="middle">−60</text>
<line x1="79.5" y1="559.9" x2="79.5" y2="561.5" stroke="#444" stroke-width="0.4"/>
<text x="79.5" y="566.65" text-anchor="middle">−40</text>
<line x1="110" y1="559.9" x2="110" y2="561.5" stroke="#444" stroke-width="0.4"/>
<text x="110" y="566.65" text-anchor="middle">−20</text>
<line x1="140.3" y1="559.9" x2="140.3" y2="561.5" stroke="#444" stroke-width="0.4"/>
<text x="140.3" y="566.65" text-anchor="middle">0</text>
<line x1="171" y1="559.9" x2="171" y2="561.5" stroke="#444" stroke-width="0.4"/>
<text x="171" y="566.65" text-anchor="middle">20</text>
<line x1="201.5" y1="559.9" x2="201.5" y2="561.5" stroke="#444" stroke-width="0.4"/>
<text x="201.5" y="566.65" text-anchor="middle">40</text>
<line x1="232" y1="559.9" x2="232" y2="561.5" stroke="#444" stroke-width="0.4"/>
<text x="232" y="566.65" text-anchor="middle">60</text>
<line x1="13.3" y1="319.3" x2="14.9" y2="319.3" stroke="#444" stroke-width="0.4"/>
<text x="12.3" y="321.30" text-anchor="end">60</text>
<line x1="13.3" y1="359" x2="14.9" y2="359" stroke="#444" stroke-width="0.4"/>
<text x="12.3" y="361.00" text-anchor="end">40</text>
<line x1="13.3" y1="399.3" x2="14.9" y2="399.3" stroke="#444" stroke-width="0.4"/>
<text x="12.3" y="401.30" text-anchor="end">20</text>
<line x1="13.3" y1="439.6" x2="14.9" y2="439.6" stroke="#444" stroke-width="0.4"/>
<text x="12.3" y="441.60" text-anchor="end">0</text>
<line x1="13.3" y1="479.7" x2="14.9" y2="479.7" stroke="#444" stroke-width="0.4"/>
<text x="12.3" y="481.70" text-anchor="end">−20</text>
<line x1="13.3" y1="520" x2="14.9" y2="520" stroke="#444" stroke-width="0.4"/>
<text x="12.3" y="522.00" text-anchor="end">−40</text>
</g>
<path d="M97.6 391.1h0M91.2 424.2h0M112.9 386.4h0M85.3 413.3h0M115.6 396.2h0M105.3 392.9h0M96.6 378.4h0M109.8 391.4h0M98.2 422.1h0M98.3 416.2h0M100.7 412.6h0M104.7 379.2h0M95.5 421.5h0M108.1 419.8h0M96.9 419h0M111.3 382.7h0M97.8 421.2h0M111.9 412.4h0M113.3 401.2h0M98.6 383.9h0M101.1 403.3h0M105.3 420.5h0M97.6 368.5h0M103.8 363.9h0M100.5 361.8h0M86.7 420.5h0M95.1 400.5h0M93.2 375.4h0M107.1 370.5h0M104.4 376.4h0M88.5 412.4h0M112.2 416.7h0M101.5 366.4h0M88.7 406.7h0M87 415h0M101.4 409.3h0M109.3 383.1h0M103.9 386.8h0M107.1 391.7h0M107.3 412.8h0M107.9 370.1h0M106 391.4h0M110.2 414.9h0M104.4 419.4h0M105 363.9h0M105.4 402.5h0M103.4 406.7h0M107.1 376.5h0M88.6 402.7h0M115.1 414.9h0M87.1 421.9h0M98.4 389.3h0M102.1 363.8h0M102.1 379.8h0M101.1 405h0M109.2 381.2h0M91.5 404.7h0M93.2 420.1h0M98.1 390.2h0M108.1 389.2h0M102.3 422h0M97.8 382h0M93.6 411.3h0M109.2 423.6h0M104 396.9h0M101.8 405.1h0M103.4 384.6h0M102 393.2h0M99.5 401.3h0M94.6 360.6h0M83.3 413.8h0M96.9 424.7h0M111.3 390.7h0M95.1 400h0M96.4 398.9h0M107.4 399.4h0M93.9 418.5h0M111.8 399.4h0M113.9 403.5h0M103.5 411.6h0M101.2 368.7h0M91.9 405.8h0M92.8 420.3h0M108.4 407.4h0M112.8 415.7h0M91.1 420h0M87.2 423.4h0M113.7 409.7h0M97.5 418.4h0M97.3 381.4h0M111.5 417.3h0M102.6 384.6h0M92.1 421.6h0M99.7 408.7h0M97.4 413.6h0M99.4 380.9h0M100 412.8h0M107.2 422.6h0M96 377.5h0M109.4 400.4h0M88.4 418.2h0M82.7 412.4h0M109.1 380.1h0M90.1 408.1h0M92 373.1h0M109.2 421.2h0M110.8 405.5h0M96.4 390.4h0M106.4 406.8h0M99.5 388.3h0M105.2 379.4h0M90.1 404.9h0M107.4 395.2h0M92.1 413.4h0M111.4 372.5h0M92.6 423.5h0M115.3 419.7h0M116.6 419.6h0M112.3 415h0M112.1 417.8h0M96.2 412.7h0M80.3 407h0M112.4 405.5h0M103.7 395.8h0M105.3 369.8h0M109.6 397.1h0M95.2 414.5h0M103.7 409.9h0M97.4 376.2h0M87.9 401h0M117.6 417.4h0M105 424.4h0M110.5 398h0M107.7 383.5h0M93.8 423.6h0M96.5 358.3h0M111.7 414.5h0M102 422.7h0M91 381h0M98.3 415.7h0M93.9 400.6h0M96.8 421.4h0M117.1 417.2h0M99.8 385.2h0M83.4 411.1h0M98.4 372.5h0M100.7 372.9h0M88.3 401.6h0M103.1 370.1h0M93.1 408h0M96.7 413.6h0M110.3 387.6h0M114.9 413.8h0M89.9 401.9h0M85.8 420.4h0M101.7 371h0M105.3 398.2h0M112.8 402h0M106.5 378.6h0M99.4 372.8h0M102.9 389.7h0M108.5 399h0M105.6 409.5h0M107.2 408.2h0M100.4 397.4h0M90.6 415.8h0M107.9 377.1h0M94 369h0M98.7 403.4h0M94.9 387.2h0M90.6 415.5h0M107.7 377.8h0M96.6 362.7h0M106.2 419.4h0M98.5 374.4h0M100.2 389.1h0M111.2 397.9h0M119.2 419.1h0M105.4 365.5h0M107.2 410.2h0M97 416h0M109.6 414.3h0M88.8 418.4h0M97.9 364.2h0M93.3 387.2h0M105.9 396.9h0M109 385h0M104.1 403.8h0M100.6 419.2h0M93.1 417.1h0M84.1 417.3h0M114.1 392.2h0M103.6 397h0M95.3 414h0M111.6 367.9h0M100.5 419.1h0M97.4 409.8h0M95.3 416.6h0M102.6 417h0M117.9 417.7h0M97.4 382.2h0M90.6 407.4h0M92.9 401.3h0M112.2 399.1h0M87.2 405.2h0M95.1 390.9h0M110.2 381.4h0M107.1 383.3h0M105.8 420.4h0M95.6 392.3h0M115 399.9h0M110.6 371.8h0M111.9 415.2h0M88 407h0M102.6 420.1h0M104 392.6h0M91.5 410.1h0M99.9 403.5h0M101.2 367.1h0M99.5 361.1h0M104.7 407h0M85.6 408.1h0M106.2 372.6h0M100.2 365.2h0M89.9 422.1h0M104.1 401.5h0M96.7 362.6h0M98.3 388.3h0M110.8 406.3h0M103.4 395.5h0M95.6 421.4h0M97.4 421.9h0M93.5 412.9h0M100.8 384h0M90.2 416h0M104.8 417.4h0M90.6 373.2h0M85.4 407.3h0M110.1 389.4h0M98.5 393.7h0M107.2 397.3h0M84.9 402.8h0M93 365.9h0M84.4 411.1h0M94 368.8h0M105.1 388.4h0M103.7 381.6h0M114 417.9h0M107.4 407.6h0M113.7 399h0M93.8 379.2h0M104.1 416.1h0M96.7 392.7h0M111.2 407.7h0M92 424.5h0M93.9 380.4h0M108.3 422.3h0M104.9 397.2h0M88.3 422.9h0M105.3 385.4h0M113.8 392.3h0M105.8 389.2h0M102.2 362.2h0M101.6 370.3h0M106.3 416.5h0M80.8 407.5h0M101.2 398.8h0M96.3 391.7h0M106.9 406.2h0M105.2 399.3h0M103.9 394.7h0M113 414.1h0M94.9 367.4h0M98.9 386.5h0M104.7 397.7h0M87.6 400.9h0M113.1 394.3h0M108.7 370.4h0M114.5 415.2h0M109.6 419.5h0M88.4 421h0M94.9 385.6h0M97.3 380.6h0M96.1 390.4h0M82.4 416.9h0M108 395.2h0M108.3 403.4h0M113 414.4h0M106.8 417.3h0M99.6 390.2h0M91.2 378.5h0M110.1 369.6h0M93 421.3h0M85.1 405.1h0M97.4 391.9h0M87.3 414.8h0M95.1 415.6h0M96.2 395h0M96.2 377.9h0M104 413.4h0M110.7 386.1h0M104.3 405.9h0M103 396h0M103.1 383.7h0M86.5 409.1h0M108.5 383h0M110.4 419.9h0M96.8 413h0M95.7 394.9h0M97.2 398.7h0M110.8 403.6h0M91.6 411.1h0M111 382.2h0M95.8 385h0M93 422.5h0M97.3 402h0M89.2 403.3h0M112.2 414.7h0M88.4 418.1h0M114.4 391.9h0M91.1 422.2h0M94.7 372.5h0M85.3 421.1h0M104.9 403.5h0M102.8 369h0M109.9 402.7h0M106.1 394.1h0M97.4 403.4h0M98.1 380.1h0M96 359.9h0M106.3 418.9h0M90.5 418.9h0M100.5 412.3h0M92.3 411.4h0M116.7 413.9h0M86.4 414.1h0M106.1 381.2h0M91.7 418.1h0M96.2 394.6h0M111 421.1h0M93.5 418.6h0M105 417.5h0M91.6 424.5h0M89 416.7h0M85.6 405.2h0M102.8 402.2h0M88.8 413.2h0M101.7 392.4h0M103.6 384.8h0M101.2 385.5h0M103.8 414.5h0M112.1 367.7h0M100.1 399.1h0M115.1 400h0M84.5 402.4h0M103.6 406.5h0M94.1 424.1h0M92.3 407.8h0M96.9 385h0M109.2 366.1h0M89.9 400.4h0M93.7 374.3h0M112.8 417.9h0M99.7 375.6h0M96 421.7h0M109.5 377.5h0M109.4 402.9h0M108 408h0M105.9 370.1h0M110.7 419.7h0M99.2 369.2h0M81.8 410.3h0M101.7 412.3h0M99.9 408.7h0M90.8 412.9h0M99.4 379.9h0M100 416.6h0M96.9 373h0M92.4 383.3h0M103.5 401.1h0M109.1 395.7h0M96.3 367.4h0M92.6 410.3h0M108.7 398.4h0M108.1 368.4h0M90.1 407.5h0M105.7 405.6h0M97.7 385.8h0M110.8 398.6h0M102.7 406.6h0M86.9 413.4h0M111.2 387.2h0M113.6 402.5h0M98.3 377.1h0M105.1 418.6h0M109.9 396.7h0M110.1 374.9h0M95.6 402.2h0M105.4 406h0M108.8 386.5h0M94.7 423.8h0M109.1 374.9h0M102.5 391.1h0M105.5 416.9h0M84.3 412.3h0M100.7 385.2h0M112 404.4h0M87.9 405.1h0M84.6 402.9h0M96.6 398.3h0M86.4 416.5h0M104.5 416.5h0M111.9 386.8h0M106.5 395.8h0M88.7 400.7h0M85.8 420.5h0M102.4 384.4h0M88.3 407.3h0M93.5 414.8h0M84.4 410.7h0M109.2 417.7h0M108.7 380.7h0M94.4 366.3h0M99.3 382.6h0M98 399.9h0M102.7 362h0M104.2 407.5h0M82.3 405.3h0M113.8 420.7h0M104.8 366.8h0M106.6 389.4h0M108.3 369.4h0M95.5 373.8h0M85.8 407.4h0M99.5 411.3h0M83.9 414.2h0M97.9 423.9h0M87.2 413.9h0M110.6 422.9h0M108.7 381.2h0M101.9 370.9h0M102.3 415.9h0M92.8 382.7h0M96.5 398.4h0M110 399h0M93.4 390.2h0M92.9 379.3h0M112 387.7h0M110.9 376.2h0M89.6 421h0M91.8 410h0M86.2 406.5h0M93.9 403.7h0M96.3 399.8h0M92.6 403.3h0M87.2 400.3h0M102.8 395h0M109.9 385.6h0" stroke="#1f77b4" stroke-width="3.0" stroke-linecap="round" fill="none"/>
<path d="M130.4 354.9h0M140.6 355.8h0M134.2 336.5h0M127.6 357.2h0M131.6 345.1h0M141.4 345h0M129.3 352h0M125 356.1h0M123.5 349.6h0M126.3 343.4h0M141.2 343.7h0M124.4 345.7h0M135.7 360.3h0M134.9 345.9h0M133.5 360.7h0M127.7 342.4h0M139.7 353h0M140.4 356.4h0M139.7 350h0M123.1 353.5h0M137.2 363.5h0M125 340.9h0M137.7 335.8h0M141.6 340.7h0M129.1 360.2h0M139.8 354.7h0M122.7 352.1h0M142.3 358.5h0M140 344h0M140 362.2h0M132.5 363.8h0M128 341.2h0M133.5 345h0M134 361.2h0M134.6 342.6h0M142.3 361.8h0M130.6 337.5h0M140.1 348.2h0M126.1 355.7h0M129.7 362.4h0M136.9 366.3h0M141.7 357.7h0M133.2 339.3h0M135.4 362.8h0M124.1 339.7h0M131.2 360.4h0M134.7 348.7h0M137.5 358h0M137.3 354.3h0M139.5 341.6h0M128.6 357.4h0M138.7 361.6h0M133.6 363.8h0M129.6 360.4h0M132 343.6h0M124.4 346.5h0M125.7 349.3h0M136.5 357.8h0M136.7 349.1h0M133.7 365.1h0M127.5 336.7h0M134.6 329.5h0M130.3 356.1h0M142.5 352.8h0M138.2 342.1h0M127.6 340.5h0M133.2 342.1h0M133.2 346.3h0M137.3 333.4h0M128.7 334h0M137.7 360.3h0M142 356.4h0M136.5 338.5h0M137.6 343.4h0M123.7 347.1h0M125.4 343.8h0M134.1 363.9h0M124.6 352.9h0M140.5 338.1h0M139.5 337.2h0M135 336h0M124 339.1h0M135.8 353.3h0M133.1 356.7h0M128.9 330.4h0M133.4 338.2h0M134.2 363.3h0M132 365.1h0M131.3 365.1h0M127.1 338.7h0M136.7 354.4h0M132.3 330.5h0M143.2 346.7h0M132.3 333.3h0M121.5 347.3h0M124.3 339.2h0M136.7 363.7h0M130.2 355.2h0M127 362.9h0M133.4 337.6h0M122.7 351h0M129.5 340.6h0M124.2 339.2h0M143 360.2h0M139.6 337h0M129.2 345.1h0M128.2 338.4h0M134.6 349.8h0M135.3 346.2h0M128.5 330.6h0M138.5 356.3h0M128.8 353.1h0M129.6 352.5h0M140.7 364.9h0M136.5 353h0M129.4 337.7h0M134.6 342.4h0M138.2 341.6h0M129.6 344.3h0M126.3 347h0M125.4 342.5h0M136.6 345.6h0M138.1 355.4h0M126.3 338.2h0M131.5 351.4h0M130.6 363.3h0M134.9 360.4h0M133.7 352.4h0M133.7 358.7h0M132.7 337.7h0M133.4 337.3h0M132 335.5h0M124.3 337h0M136.8 345.1h0M127.6 362.6h0M134.2 337.6h0M131.6 354h0M130.9 347.2h0M131.1 334.2h0M129.8 344.6h0M119.8 350.9h0M140.6 346.3h0M138 341.6h0M130.8 336.6h0M123.8 347.8h0M136.8 364.5h0M123.9 348.6h0M131.9 350.4h0M135.6 350.1h0M135.1 365.8h0M127.9 348.1h0M134.3 336.8h0M129.2 345h0M133.8 338.2h0M139.1 342.5h0M127.4 348.5h0M127.3 361.1h0M123.8 352.2h0M131.9 350.2h0M131.3 365.2h0M140.1 341.5h0M132.3 364.7h0M141.2 355.5h0M140.3 363.6h0M142.5 342.6h0M128.5 337.5h0M136.5 356.1h0M131.2 333.6h0M133.8 340h0M137.2 335.9h0M136.1 349.2h0M138.3 362h0M128.6 335h0M126.9 338.4h0M131.1 329.7h0M131.8 330.7h0M143.2 347.3h0M136.4 340.7h0M133.1 347.1h0M141.5 356.7h0M134.6 339.3h0M122.6 352.9h0M132.5 355.9h0M129.3 347.8h0M135.3 362.1h0M139.8 361.3h0M134.5 342h0M132 354.8h0M123 345.7h0M135.8 340.2h0M129.6 365.6h0M137.1 338.9h0M134.4 346.5h0M126.1 357.4h0M138.7 363h0M128.5 363.2h0M132.1 336.5h0M133.7 363.3h0M138.4 339.3h0M128.8 334.9h0M134.4 339.6h0M128.8 361.3h0M139.2 339.1h0M138.6 356.4h0M135.7 349h0M138.1 358.3h0M125.4 343.6h0M135.1 338.5h0M129.1 350.3h0M141.9 350.7h0M132.6 347.1h0M125.8 352.1h0M136.4 337h0M129.5 330.3h0M127.3 348.4h0M134.6 362.9h0M131.2 342.5h0M134.6 356.2h0M133.7 332.6h0M127.7 346.3h0M137.8 363.8h0M126.5 341.1h0M135.4 346.8h0M137.6 364.7h0M129.7 339.2h0M122.8 354.2h0M123.7 342.1h0M136.9 339.4h0M137.2 334.4h0M124.6 352.9h0M137 354.9h0M132.3 339.2h0M140.1 362.7h0M136.9 355.8h0M120.5 348.7h0M139.7 349h0M127.2 334.4h0M121.7 351.5h0M133.2 358.5h0M138.2 341.3h0M130.8 330.6h0M128.1 339.5h0M134.4 355.1h0M124 353.5h0M130.2 346.9h0M137.5 341.5h0M130.7 358.9h0M141.7 349h0M125.4 339h0M122.8 347h0M143.2 347.5h0M139.5 344.6h0M131.9 347.4h0M123.5 348.2h0M127.9 344.6h0M134 339.9h0M129.7 337.8h0M136.4 363.3h0M141.5 352.9h0M139.4 352h0M124 342.3h0M135.1 342.1h0M139.1 360.9h0M129.4 365.4h0M128.3 340.6h0M126.5 335.9h0M136 344.6h0M139.4 335.7h0M123.9 338.1h0M122.3 347.1h0M130.7 333.2h0M129.3 343.5h0M125.4 336.3h0M144 359.8h0M130.7 361.7h0M142.3 357.2h0M136.3 365.5h0M126.4 338.6h0M130.4 360.7h0M129.1 347.8h0M127.1 352.2h0M128.7 346.3h0M132.5 329h0M129.3 326.8h0M135.9 353.6h0M133.3 337.1h0M139.8 363.2h0M136.1 338.3h0M136.6 365.7h0M124.5 345.9h0M129.4 364.6h0M134.2 354.5h0M133.9 337.5h0M142.1 343.7h0M129.3 341.2h0M139.4 353.3h0M138.9 349.1h0M131.6 362.8h0M138.3 366.2h0M128.1 361.2h0M142.3 351.6h0M136.6 334.8h0M134.7 337.4h0M131.8 342.4h0M133.6 355.8h0M141.5 341.6h0M138.8 361.8h0M132.3 347.8h0M135.3 351.5h0M129.6 366.5h0M124.4 345.9h0M135.9 362h0M127.2 360.2h0M138.6 362.2h0M140.1 361.3h0M129.8 364.3h0M135 348.2h0M129.6 338.7h0M132.6 335.6h0M124.6 337.9h0M138.5 359.1h0M141 363.7h0M141.2 355.7h0M124.7 337h0M130.5 338.2h0M139.8 345.4h0M127.5 334.7h0M139.3 338.8h0M134.9 354.9h0M126.7 347h0M136.6 334.1h0M129.5 329.5h0M143.1 347.7h0M134.5 343.5h0M129.8 344.5h0M134.4 329.7h0M130.3 361.9h0M136.7 362.3h0M141.3 361.4h0M132.6 356.4h0M142.4 346.2h0M136.4 338.6h0M124.3 349.1h0M126.2 341h0M121.7 350.4h0M135.9 363.8h0M140.6 363.6h0M122.7 347.2h0M123.5 348.6h0M136.6 342.1h0M139.5 363.6h0M134 341h0M130.2 343.8h0M130.8 338.5h0M139.9 335.7h0M128.1 364.9h0M120.9 352.2h0M134.6 343.3h0M137.8 336.1h0M128.6 337.1h0M139 341h0M123 347.6h0M134.1 351.2h0M132.9 356.8h0M126.4 351.6h0M131.2 338.2h0M139.3 364.6h0M131.2 349h0M142.2 359.8h0M129.4 336.4h0M128.9 344h0M124.4 354.7h0M132 334.2h0M121.3 348.4h0M126.8 355.7h0M141.9 355.3h0M140.4 345.2h0M136.8 363.1h0M138.3 364.5h0M137.1 345.1h0M143 349.3h0M128.1 331.6h0M133.2 351h0M139.9 337.3h0M128.1 364.6h0M134.4 339.8h0M139.9 338.5h0M132 344.2h0M137.1 358h0M137.7 346.2h0M125.7 347.9h0M129.5 332.6h0M128 355.2h0M119.2 350.7h0M129.1 364.1h0M134.5 331.3h0M129.9 335h0M135.6 367h0M129.2 350.6h0M126 356.6h0M129 353.8h0M128.5 331.5h0M138.5 352.8h0M127.7 363.1h0M129.7 341.8h0M138.6 356.6h0M134 335.4h0M132.2 338.3h0M135.5 332h0M127.4 337.5h0M128.6 364.4h0M119.6 351.6h0M137.6 358.5h0M130.1 357h0M135.7 339.8h0" stroke="#2ca02c" stroke-width="3.0" stroke-linecap="round" fill="none"/>
<path d="M33.9 443.4h0M39.3 438.6h0M29 441.5h0M28.7 446.1h0M32.9 447.1h0M34 454.9h0M41.1 441.2h0M38 453.3h0M29.5 449.2h0M38.6 450.4h0M31.3 436.6h0M31.7 445.6h0M45.3 441.1h0M30.1 440.9h0M38.3 447.4h0M42 466.2h0M47.1 456.4h0M40.4 438.6h0M50 445.1h0M42.6 452.8h0M42.1 443.8h0M28.9 440h0M39.6 451.7h0M40.6 455.4h0M48 440.9h0M43.4 467h0M34.9 455.4h0M43.1 455h0M36 439.1h0M27.7 447h0M26.8 442.6h0M33.5 438.3h0M37.2 440.2h0M47.2 454.3h0M38 435.9h0M41.8 465.6h0M37.4 435.1h0M42.8 465.9h0M34.5 452.7h0M30.1 443.2h0M28.6 441.4h0M39.3 463.5h0M40.9 461.9h0M51 448.8h0M46.5 452.9h0M48.4 445.8h0M46.3 459.6h0M45.6 453.6h0M43.3 457.2h0M46.8 453h0M34.1 437.2h0M35.8 444.5h0M49.5 449.8h0M34.8 445.3h0M46.4 457.9h0M48.8 457.6h0M44.4 459.8h0M41.2 462.9h0M39.5 444.6h0M47.4 451.5h0M35.7 439h0M32.5 440.3h0M39.3 462.8h0M48.8 444.5h0M30.2 447.6h0M41.8 439.7h0M41.9 468.2h0M33.7 455.8h0M45.9 454.8h0M37.2 439.1h0M27.5 443.1h0M30.6 436.5h0M31.1 449.2h0M40.8 441.2h0M41.4 459.1h0M49.5 443.3h0M37.5 443.7h0M40.1 453.7h0M48.2 441.5h0M38.8 452.3h0M42 451h0M48.9 445.1h0M42.8 454.8h0M27.7 445.5h0M27.9 445.7h0M46.5 455.8h0M44.2 461.7h0M40.1 463h0M41.9 457.8h0M26 442.6h0M26.6 444h0M40.3 438.1h0M35.5 442.6h0M45.6 441.2h0M33.7 442.9h0M45.1 462.3h0M44.6 454.8h0M30.5 443.8h0M36 451.5h0M30.3 444.9h0M50.8 444.6h0M33.5 444.2h0M36.2 454h0M35.6 447.1h0M41.4 458.9h0M48 450.5h0M38.1 444.1h0M30.1 442.7h0M37.8 439.2h0M47.2 452.2h0M33.5 447.5h0M31.6 437.1h0M47.6 446h0M47 460.2h0M39.6 445.3h0M46.8 448.2h0M49.4 456.8h0M47.9 451.7h0M45.5 440h0M48.1 456.1h0M39 441.6h0M35.5 439.9h0M31 436.9h0M41.9 443.4h0M49.5 445.3h0M38.9 447.2h0M43.8 461h0M29.1 444.4h0M40.4 450.5h0M37.5 453.4h0M49.4 444.5h0M46.1 461.3h0M40.2 463h0M50.4 451.2h0M35.9 455.2h0M49.7 447.7h0M42.7 442h0M42 439.5h0M47.6 454.4h0M35.6 441.5h0M39.5 455.7h0M32.7 445.5h0M27.6 445.5h0M47.5 444.3h0M51.1 443.6h0M48.8 449h0M37.4 456h0M43.3 445.8h0M31.3 436.7h0M33 446.3h0M35.2 443.7h0M39.3 441.9h0M50 447.5h0M38.2 449.1h0M33.5 454.8h0M46.7 455.3h0M32.7 446.6h0M27.5 446.1h0M36.7 454.4h0M40 444.1h0M27.9 445.3h0M44.2 460.9h0M40 459.2h0M36.1 444.9h0M38.2 453.3h0M29.5 436.1h0M34.2 444.3h0M40.4 452.1h0M45.8 454.3h0M38.9 457.1h0M43.9 457.1h0M34.5 447.9h0M47.9 455.5h0M45.8 452h0M47.9 455h0M33.7 444h0M43.7 440.1h0M40.9 447.1h0M41.4 454h0M40.1 451.7h0M37.2 442.7h0M39.8 457.9h0M29.2 440.3h0M46.2 453.3h0M44.5 466.6h0M38.9 448.7h0M46.8 445.2h0M38.7 458.4h0M38.2 448.3h0M34.6 455.9h0M44.9 458.8h0M44.2 443.3h0M44.8 451.9h0M37 459.7h0M40.7 465.8h0M33.8 443.1h0M40.5 446.5h0M48 450.2h0M35.2 448.9h0M37 457.7h0M32 444.9h0M29 440h0M46.5 458.8h0M35.1 453.6h0M46.8 440.5h0M29.4 437.2h0M49.3 444.7h0M27.8 447.1h0M43.2 451.5h0M44.3 443.8h0M38.3 436.2h0M40.6 460.5h0M46.1 462.6h0M35.6 449.2h0M35.7 442.5h0M34.3 449.2h0M44.8 458.6h0M36.4 456.7h0M32.3 447.3h0M31 436.3h0M37.6 447.4h0M28.7 448.4h0M40.1 453.9h0M43.6 452.4h0M37.7 452.7h0M37.9 454.9h0M36.7 435.6h0M43.8 459.3h0M35.1 440h0M38.9 452.3h0M40.7 459.5h0M42.7 464.4h0" stroke="#17becf" stroke-width="3.0" stroke-linecap="round" fill="none"/>
<path d="M183.5 367h0M178.3 363.5h0M180.2 361.6h0M184.4 373.7h0M183 351.3h0M183.5 375h0M187.2 369.9h0M189.5 379.4h0M189.3 384.8h0M188 360h0M184 356.9h0M196.7 381.2h0M190.4 366.1h0M182.3 379.6h0M185.8 367.4h0M188.3 380.9h0M183.1 382.2h0M186.7 351.8h0M185.6 353.6h0M178.6 370.8h0M186.7 357.2h0M190.4 381.6h0M188.5 355h0M180.3 389.5h0M176.5 364.7h0M195.8 372h0M182.9 374.4h0M196.7 377.9h0M177.5 369.1h0M194.7 377.8h0M185.2 376.7h0M182.2 382.2h0M184.9 372.7h0M190.1 368.5h0M185.7 389.4h0M192.6 373h0M188.2 360.2h0M182.6 372.9h0M184.6 380.4h0M182.3 382.8h0M184.6 354.7h0M179.7 366.3h0M186.7 388.4h0M192.1 381.8h0M189 364.4h0M180.9 365.5h0M184.6 367.5h0M186.3 388.6h0M175.9 372.2h0M184.6 352.7h0M178.8 363.5h0M185.8 388.5h0M189 364.4h0M192.8 370.8h0M192.7 372.7h0M181.8 383.2h0M178.8 358.8h0M185.5 351.4h0M187 370.4h0M186 370.3h0M179.1 373.7h0M193.9 382.6h0M198.1 378.4h0M183.1 362.1h0M188.3 364.2h0M181.1 382.5h0M189.5 380h0M185.9 360.3h0M183.3 384.8h0M179.7 383h0M181.5 379h0M186.5 375.9h0M183.8 370.5h0M182.7 379.3h0M185.9 388.1h0M184.7 353.4h0M177.5 376.2h0M189.1 384h0M181.5 373.8h0M181.6 383.2h0M177.2 368.1h0M183.1 393.2h0M187.3 360.4h0M188.1 360h0M177.7 362.2h0M184.7 367.4h0M177.2 371.5h0M185.5 379.5h0M183.4 356.8h0M183.6 367.5h0M179.9 374.6h0M185.9 369.3h0M193.7 383.4h0M195.6 372h0M196 377.6h0M187 374.7h0M190 385.2h0M189.2 380.3h0M187.9 376.2h0M184.9 363.9h0M189 378.2h0M185.8 358.3h0M180.1 354.6h0M183.3 369.5h0M193.1 376h0M181.1 351.6h0M185.7 362.3h0M187.6 385h0M178.7 365.4h0M178.8 363.9h0M183.9 382.8h0M188.5 368.3h0M184.8 354.5h0M185.3 371h0M185.8 386.7h0M183.5 371.9h0M184.5 391.8h0M193.4 372.5h0M189 385.5h0M181.4 354h0M176.3 372.3h0M179.5 376.9h0M183 353.7h0M189.2 365.3h0M185.5 359.1h0M182.4 380.4h0M184 386.2h0M184.1 393.3h0M179.3 356.4h0M187.7 383.5h0M182.1 383.5h0M196.3 381h0M190.6 383.6h0M182.2 391.6h0M189.2 367.5h0M196.1 377.4h0M185.5 380.5h0M182.1 361.1h0M178.1 361.8h0M181.3 387.2h0M193.9 372.3h0M191.5 376.4h0M180.2 380.3h0M193.7 377.1h0M179.7 371.3h0M179.3 359.6h0M185.1 377.8h0M180.4 368h0M183.5 375.9h0M185.3 370.7h0M188 356.8h0M195.2 381.2h0M181.5 377.9h0M192.4 377.9h0M180.4 353.1h0M183.4 372h0M182.4 363.2h0M190.7 381h0M180.4 372.1h0M183.6 382.4h0M184.9 350.9h0M194.7 376.6h0M176.9 372.3h0M178.6 368.7h0M187.5 376.2h0M179.7 356.5h0M182.5 356.6h0M195.2 378.6h0M183.8 389.7h0M182.8 354.4h0M181.3 358.1h0M193.8 374.1h0M190.5 383.3h0M178.9 362h0M185.9 366.4h0M184.6 366h0M186.3 383.8h0M179.5 359.6h0M179.7 359.6h0M195.6 376.2h0M184.4 360.8h0M182.9 355.2h0M181.1 379.9h0M185.8 380.8h0M185.1 370.6h0M178.3 376h0M191 380.8h0M186 354.2h0M191.6 383.6h0M178.4 362.9h0M180.3 374.1h0M184.1 360.6h0M184.4 359.2h0M190.3 365.6h0M180.7 372.3h0M183.4 375h0M185.5 362.6h0M179.7 356.4h0M185.5 377.7h0M192.7 378.6h0M193.3 368.7h0M181.7 361h0M188 375.4h0M179.8 358.3h0M193.4 373.5h0M195.3 374.4h0M185.8 391.1h0M177.1 363.5h0M192 378.9h0M178.8 367.5h0M186.3 379.8h0M183 370.8h0M186 358.8h0M183 387.7h0M188.9 356.9h0M192.3 371.7h0M193.9 375.2h0M182.3 379.7h0M192.1 368.6h0M180.8 357.3h0M187.2 363h0M185.5 354.4h0M176.3 374.6h0M182.2 381.7h0M181.9 376.2h0M182.7 375.5h0M182.9 390.5h0M181.4 369.1h0M180.6 380.5h0M184.7 362.6h0M183.4 387.3h0M187.1 366.4h0M181.5 382.8h0M188.9 357.8h0M183.1 369.9h0M184.9 378.4h0M187.5 372.5h0M178.2 369.1h0M184.6 379.9h0M185.1 353.6h0M187.4 364.3h0M180.4 365.8h0M188.4 357.6h0M183.4 365.2h0M182.5 392.1h0M185.3 377.3h0M179.8 379.3h0M188.2 356.3h0M191.4 368.7h0M186.2 362.3h0M187.1 358.5h0M185.9 355.9h0M178.7 362.5h0M182.9 377.3h0M181.1 387.5h0M188.9 379.7h0M187.6 358.1h0M179.3 366.3h0M185.7 366h0M195.7 382.3h0M180 361.3h0M187.6 377.5h0M183.9 388h0M189.3 377.6h0M180.8 353.3h0M186.7 372h0M188.6 362.1h0M176.5 373h0M181.4 360.1h0M177.7 369.7h0M181.5 359.6h0M184.5 375.2h0M191.4 366.9h0M182.4 372.8h0M195.8 371.8h0M179.4 368.1h0M182.3 374.1h0M185 373.8h0M184.9 380.2h0M178.1 369.9h0M185.4 373.5h0M185.2 353.2h0M189.3 381.9h0M186.2 383.8h0M183.2 355.6h0M194.4 381.3h0M185.8 366.4h0M195.2 382.6h0M181 377.2h0M193.7 370.1h0M181.8 377.8h0M182.6 362.2h0M183.2 386.9h0M190.3 367.4h0M183.5 370.4h0M181.8 375.1h0M184.6 352.8h0M191.1 373.8h0M188.4 376.8h0M191.5 379.8h0M189.9 368h0M184 358.7h0M184.8 350.5h0M186.5 375.9h0M186.9 380.3h0M184.2 360.6h0M184 380.9h0M185.7 362.3h0M181 367h0M194.6 372.3h0M184.2 374.8h0M187.5 367.8h0M182.5 363.4h0M178.3 363.3h0M181.7 386.4h0M190.6 366.4h0M181.9 359h0M187.7 368.5h0M179.5 370.6h0M184.6 350.6h0M183.9 377.3h0M184.1 367.8h0" stroke="#d62728" stroke-width="3.0" stroke-linecap="round" fill="none"/>
<path d="M230.1 413.7h0M248.2 435.7h0M234.9 442.7h0M237.2 432.4h0M245.1 425.2h0M226.7 403.4h0M227 404.6h0M237 410.3h0M243.4 426h0M232 406.2h0M245 440.5h0M234.4 426h0M234.4 415.9h0M245.3 453.8h0M245.6 447.6h0M227.4 405.4h0M238.9 439.9h0M239.3 458h0M246.2 430.4h0M242.4 441h0M231.4 414h0M240.5 417.8h0M230.6 421.3h0M233.4 417.4h0M238.2 412.4h0M245.3 428h0M231.1 418.8h0M248.3 442.8h0M233.9 426.8h0M237.4 459h0M247.9 437.3h0M235.1 456.6h0M239 439.8h0M241.6 439.7h0M238 459.5h0M236.9 425.6h0M234.5 412.2h0M236.7 412.1h0M233.8 407.9h0M238.5 457.4h0M234.5 413.7h0M247.2 443.6h0M236.2 454.3h0M234.5 418.3h0M228.6 400h0M239.6 434.8h0M236.3 450.6h0M244.6 448.4h0M243.7 453.6h0M230.1 420.5h0M245.6 448.5h0M245.9 449.8h0M227.1 404.6h0M230.9 409.4h0M244.2 444.7h0M235 431.7h0M236.6 410.5h0M238.2 422h0M235 447.2h0M242 422.3h0M237.7 412h0M237.8 448h0M237.7 448.6h0M230.5 403.1h0M232.6 434.3h0M239.6 431.5h0M227.2 401h0M241.3 455.8h0M232.9 442.8h0M244.9 442.2h0M230.3 416.4h0M238.8 418.8h0M225.7 405.9h0M235.2 429.7h0M236.5 445h0M243.9 438.3h0M231.2 404.9h0M229.6 417.8h0M235.9 446.1h0M239.2 419.7h0M246.7 437.4h0M237.6 415.4h0M232.4 417.6h0M233.9 413.6h0M231.2 422.3h0M235.1 421.1h0M247.3 433.9h0M242.4 431.8h0M245.3 448.4h0M237.2 450.4h0M246.4 444.5h0M232.8 443.4h0M232 412.2h0M225.3 396.7h0M242.7 441.6h0M232.7 423.8h0M244.4 453.4h0M238.5 448.5h0M248.4 443.7h0M240.7 438.1h0M230.2 409.5h0M238.6 437.6h0M238.7 451.1h0M233.4 414.8h0M238.6 412.5h0M240.1 411.1h0M243.1 447.5h0M234.3 434.4h0M237.7 457.7h0M229.9 408.6h0M233.9 417.6h0M228.6 410.3h0M248.2 432.5h0M226.5 401.8h0M238.1 423.7h0M239.3 442.6h0M232.4 421.5h0M240.9 463.2h0M239.3 449.8h0M227.1 400.7h0M241 453.3h0M245.6 438.2h0M233.5 429h0M248.6 435.7h0M234.7 420.7h0M233.9 423.5h0M242.5 446.5h0M232.4 429.4h0M229.1 418h0M232.6 441.2h0M229.3 415.2h0M232 404.8h0M247 430.5h0M240.3 447.7h0M241.7 413.1h0M245.2 423.2h0M225.8 411.7h0M237.1 432.5h0M238.4 415.6h0M240.9 437.7h0M244.9 441.6h0M229.5 404.9h0M236.8 422.1h0M225 397.5h0M223 397.8h0M245 439h0M229.6 412.9h0M236.2 455.2h0M244.8 425.7h0M240.6 440.7h0M246.1 421.1h0M226.7 415.2h0M249 446.3h0M242.3 427.4h0M230.6 420.6h0M244 441.9h0M240 441.9h0M237.9 413.3h0M230.2 425.9h0M242.6 418.3h0M233.6 449.6h0M230.8 405.6h0M240.7 452.3h0M227.9 416.7h0M237.8 414.5h0M226.2 412.2h0M230.8 414.3h0M237.6 418.7h0M242.4 445.1h0M245 426.6h0M239.1 449.5h0M241.5 433.1h0M246.1 432h0M239.5 428.8h0M240.7 445.2h0M227 398.8h0M247.8 442.7h0M234.1 432.9h0M243.2 414.6h0M227.2 410.5h0M233 448h0M241.5 451.8h0M234.1 434.5h0M232.8 416.9h0M235.4 426.7h0M244.8 416.5h0M234.3 425.9h0M236.6 423.8h0M225.8 409.1h0M234.6 446.4h0M229.4 422.9h0M243.6 433h0M237 450.1h0M225.2 401.9h0M239.9 416.6h0M239.5 450.9h0M236.9 411.8h0M246 432.3h0M243.8 449.8h0M241.9 440.9h0M242.8 435h0M229.6 415.6h0M238.9 457.9h0M245.7 418.2h0M248.9 446.7h0M243.1 446.9h0M241.9 415.2h0M238.8 445.5h0M225.8 400.8h0M228 399.9h0M238 431.5h0M246.9 424h0M231.8 408.4h0M245.1 425.2h0M236.7 434.7h0M241 441.6h0M235.3 416.9h0M237.2 445.8h0M237.3 429.8h0M236.1 414.9h0M236.6 417.3h0M226.5 412.9h0M234.1 434.1h0M246.6 444.2h0M234.2 436.1h0M243.8 453.1h0M240.2 410.9h0M242.7 458.4h0M239 413.3h0M247.1 419.1h0M236 447.3h0M225.9 405.7h0M238.2 458.7h0M235.8 452.8h0M238.1 412.8h0M235.8 444.9h0M228.6 409h0M232.2 426.6h0M229.2 410.6h0M246.6 424.6h0M237.7 442.3h0M239.4 441.1h0M242.1 414.7h0M237.9 422.6h0M227.3 403.3h0M225.6 401.6h0M233.1 441.4h0M242.5 426h0M240.2 462.7h0M232.4 412.9h0M246.8 436.4h0M240.2 415.8h0M238.5 412.5h0M240.9 462.6h0M237.1 456.2h0M238.2 434h0M235.2 426.5h0M244 416h0M243.1 417.6h0M241.4 453.3h0M246.6 445.4h0M231.9 442.8h0M242.4 413.9h0M234 450.7h0M234.5 433.1h0M241.5 435.9h0M243.3 426.5h0M247.1 442.3h0M244.1 426.7h0M237.8 436h0M240.6 421.2h0M240.8 453.6h0M231.1 407.9h0M233.1 429.7h0M241 412.3h0M233.4 438.8h0M233.5 417.4h0M237.7 413.1h0M233 409.4h0M244.9 448.2h0M232.9 422.4h0M228.5 398h0M233.6 427.1h0M241.9 432.1h0M233.8 444.3h0M247 443.7h0M247.2 449.7h0M237.6 454.1h0M236.6 425.3h0M236.2 448.2h0M229.1 418.3h0M245.1 428.2h0M237.2 426.3h0M238.6 444.6h0M226.3 400.3h0M232.5 423.7h0M226.3 407.3h0M237.5 430.5h0M229.2 410.4h0M237.5 415.5h0M234.6 450.1h0M233.6 420.5h0M240.8 429.7h0M228.1 406.6h0M235.7 420.1h0M230.6 424h0M244.5 418.5h0M239.1 447.7h0M246.9 431.2h0M231.9 411.9h0M234.1 427.5h0M246.5 440.6h0M235.2 437.8h0M232.1 407.9h0M230.4 401h0M241.2 418.2h0M236.5 429.5h0M238.2 420.8h0M236.2 441.8h0M230.7 404.8h0M233.3 426.7h0M229.1 402.4h0M227.3 398.2h0M231.7 406h0M245.6 429.8h0M228.4 417.7h0M235.1 405.4h0M231.9 414.7h0M226.5 413.8h0M225 401.1h0M231.8 410h0M234.1 419.6h0M226 403.3h0M242.4 448.8h0M230.8 405.6h0M245.7 437.6h0M222.7 396.9h0M242.6 433.5h0M229.2 398.6h0M238.6 441.5h0M239.4 459.5h0M241 433.8h0M244.5 457.2h0M227.3 414.7h0M234.8 437.1h0M240.1 443.4h0M236.3 410.8h0M233.5 428.4h0M243.6 453.7h0M236.9 412h0M239.1 430.4h0M234.3 440.7h0M230.5 421.4h0M225.5 403.3h0M238.5 428.3h0M245.2 426.8h0M238.9 427.8h0M227.7 399.4h0M244.9 442.4h0M230.4 421.3h0M233.9 433.5h0M243 420.3h0M241 419.2h0M235.2 424.1h0M242.9 438h0M227.7 418.8h0M237.2 421.4h0M236.9 431.6h0M246 440h0M242.4 454.5h0M240.2 428.5h0M240.1 429.3h0M233 424.3h0M246.3 448.2h0M239.6 454.5h0M242.1 424.8h0M231.3 440.2h0M233 407.1h0M228.6 418.5h0M237.3 453.6h0M228.8 418.2h0M231.5 411.6h0M239.6 439.2h0M239.2 428.9h0M234.9 445.8h0M223.9 397.2h0M232.9 441.5h0M232.7 414.7h0M234.5 440.4h0M241.9 438h0M229.1 402.9h0M239.2 435.7h0M242.5 445.3h0M232.5 435.4h0M236.7 444.3h0M228.5 408.5h0M232.5 429.3h0M235.9 445.9h0M239.9 451.1h0M227.8 400.5h0M247.6 439.7h0M227.6 403.2h0M235.4 433h0M234.2 438.8h0M240.5 457h0M245.7 450h0M247.4 447h0M241.3 422.6h0M241.7 461.5h0M246.5 443.8h0M241.9 445.5h0M238.5 420.9h0M239.9 451.9h0M228.1 412.2h0M239.4 434h0M231 402.7h0M241.3 459.3h0M224.5 399.2h0M228.6 406.2h0M232.3 441.2h0M245.4 436.6h0M230.2 425.9h0M233.1 446.5h0M235.5 422.2h0M240.9 417.4h0M235 418.1h0M240.1 454.2h0M247.7 446.2h0M236.9 417.1h0M240.2 419.9h0M239.5 451.8h0M232.9 424h0M233.9 433.1h0M242.8 455.5h0M246.5 436.6h0M249.1 447.9h0M242.3 419.2h0M228.8 399h0M229.8 421.7h0M239.7 449.2h0M236.9 456.3h0M230.5 407.2h0M234.6 435.9h0M234.4 424.7h0M240.4 413.9h0M237.7 419.7h0M241.2 427.2h0M246.8 423.3h0M238.3 449.7h0M227.6 417.1h0M245.9 418.4h0M239.4 416h0M240.6 436.5h0M242.1 445.5h0M229.5 416h0M245.7 439.5h0M230.3 412h0M246.6 450.3h0M235.1 417.5h0M246.5 419.2h0M240.7 431.1h0M247 432.8h0M234.7 409.1h0M234.5 425.1h0M232.3 420.9h0M236.1 411.7h0M238.4 441.1h0M233.2 406.1h0M229.7 417.2h0M245.2 454.7h0M235.1 423.9h0M240.4 445.3h0M237.8 427.5h0M243 450.5h0M235.4 418.6h0M228.9 410.7h0M231.1 407.9h0M230.7 435.7h0M234.6 450.5h0M226.2 400.2h0M238 429.6h0M227.8 405.3h0M247 420.1h0M238.8 425.9h0M247.8 440.6h0M233.6 444.4h0M244.3 449.8h0M230.5 398.3h0M226.8 400.1h0M243.5 440.8h0M236 413.5h0M228.8 406.2h0M238.4 432.9h0M240.7 450.1h0M238.1 423.9h0M237.4 457.5h0M237.5 437h0M243.3 421.5h0M245.7 431.3h0M238.4 415.7h0M235.5 449.3h0M241.5 421.4h0M236.8 449.8h0M245.9 419.9h0M243.7 442.7h0M241.3 429.4h0M246.7 451.9h0M234.1 426h0M231.7 421.1h0M242.5 444.5h0M234.5 420.8h0M230.7 408.2h0M226 409.1h0M243.7 439.1h0M239.7 420.2h0M233.9 447.1h0M235.9 424.6h0M238.3 417.6h0M224.8 398.9h0M241.3 425.6h0M222.7 395.5h0M238.8 458.2h0M234.8 444.7h0M246.1 423.5h0M239.6 421h0M228.3 419.1h0M236.9 419.7h0M233.7 421.8h0M242.4 424.2h0M236.6 418.6h0M241.6 461.4h0M234.1 407.6h0M232.8 408.5h0M243 443.6h0M241.8 431.1h0M243.5 414.8h0M227.7 407.3h0M230.1 418.2h0M238.1 415.1h0M235.9 410.7h0M239.8 445.2h0M240.3 427.5h0M248.6 444.3h0M235.6 456.1h0M236.7 457.1h0M246.5 448.2h0M234.9 428.3h0M238.6 452.2h0M241.5 431.3h0M238.6 436.5h0M238.2 412.6h0M235.5 442.8h0M238.4 441h0M242.9 445.8h0M232.9 439.3h0M236.8 448.8h0M242.6 445.7h0M243.2 433.8h0M227.5 406.5h0M242.1 441h0M234.7 420h0M239.5 418h0M244.8 442.9h0M248.8 438.2h0M224.4 400.3h0M241.3 416.7h0M247.3 436.4h0M230.2 402.6h0M246 435h0M247.3 444.2h0M239.6 422.7h0M243.6 450.7h0M238.7 435.8h0M234.8 442.7h0M228.1 399h0M232.2 433.1h0M242.1 427.4h0M242.6 438.3h0M236 446.9h0M242.2 449.8h0M245.5 423.6h0M243.5 456.6h0M230.4 424.8h0M242.6 457.5h0M242.9 451.8h0M225.5 401.3h0M246.3 418.6h0M241.7 459.4h0M241.5 455.2h0M244.3 421.4h0" stroke="#ff7f0e" stroke-width="3.0" stroke-linecap="round" fill="none"/>
<path d="M164.7 451.1h0M155.3 442.9h0M161.9 412.8h0M161.9 442.5h0M163.3 443.8h0M164.2 450.3h0M152.6 411.3h0M161.6 441.4h0M153 408.3h0M156.7 440.7h0M164.8 447.6h0M161.1 426.5h0M164.6 450.2h0M159.3 426.3h0M152.6 439.8h0M158.4 436.9h0M163.4 414.4h0M166.3 444.6h0M156.9 408.3h0M158.3 410.4h0M160.9 439.7h0M156.1 442.2h0M162.3 440.7h0M154 422.1h0M153.9 421.5h0M158.7 445.5h0M158.3 438.4h0M159.4 410.6h0M158.1 433.4h0M155.9 436h0M161.3 448.3h0M159.7 438.9h0M163 412.6h0M160 408.2h0M162.1 440.3h0M158.7 415.3h0M158.3 427h0M154.4 436.7h0M153.6 417.8h0M153.8 438.3h0M153.9 438h0M160.4 445.9h0M159.3 442h0M160.9 409.6h0M159.6 447.4h0M156.6 436.6h0M162.7 421.6h0M153.9 409.9h0M165.5 442.3h0M155.2 424.2h0M162.7 445.1h0M159.5 416.3h0M162.2 423.7h0M158.5 436.4h0M165.2 413.1h0M153.9 441.1h0M163.8 417.4h0M156.8 419.2h0M161.1 413.7h0M160.4 438.2h0M160.7 411.5h0M158.7 434.6h0M167.1 448.1h0M164.9 418.1h0M157.7 415.3h0M166.6 445.9h0M161.8 439.6h0M163.3 442.9h0M155.8 426h0M161.2 410.2h0M157.7 426.7h0M165 414.2h0M157 441h0M155.1 429.6h0M166.5 446.8h0M156.5 408.2h0M160.4 445.8h0M165.6 443.1h0M154.1 434.1h0M155.6 419.6h0M163.5 419.8h0M164 418.3h0M159.3 411.5h0M155 433.8h0M153.7 411.3h0M160.1 439.5h0M162.1 417h0M160.6 424.1h0M161.4 417.4h0M155.5 413.7h0M163.9 444.7h0M154.3 432.9h0M161.7 418.4h0M162.7 448.2h0M154.6 423.5h0M162.8 415.3h0M157.1 437.4h0M159.6 443.5h0M156.6 436.6h0M154.9 422.4h0M162.8 442.6h0M151.2 412.1h0M158.3 410.8h0M158.2 411h0M156.4 411.8h0M156.7 416.6h0M162.8 412.5h0M164.8 416.4h0M163.1 409.9h0M153.8 415.3h0M156.8 433.4h0M158.7 445.7h0M155.1 420.1h0M158.4 444.5h0M157.6 418.2h0M167 448.7h0M154.5 440.3h0M155.1 435.7h0M155.1 428.6h0M154.5 410.2h0M164 410.3h0M158.8 408.2h0M159.9 417.6h0M153.2 417.2h0M155.7 433.1h0M157.3 413h0M152.8 438h0M158.9 407.3h0M159.9 412.5h0M151.5 412.2h0M159.1 436h0M158.2 418.1h0M159.3 447.3h0M164.1 411.2h0M163.8 418.9h0M165.8 416.7h0M153.3 409h0M158.9 422.7h0M158.2 445.3h0M160 448.9h0M161.4 411.9h0M161.1 445.3h0M166 412.8h0M165.6 413.9h0M153.7 439.5h0M154.8 414.6h0M155.8 427.8h0M152.9 410.3h0M158.8 425h0M157 434.9h0M156.2 423h0M161.8 449.2h0M166.8 445.2h0M158.5 445.7h0M153.4 427.5h0M161.3 417.7h0M158.1 420.6h0M155.1 432.1h0M155.1 412.6h0M156.4 442.9h0M153.5 415.2h0M153.3 428h0M161.1 446.4h0M156.4 416h0M165.8 447.2h0M161.4 416.5h0M156.7 425.6h0M161.5 411.8h0M155.4 439.4h0M161 423.5h0" stroke="#7f7f7f" stroke-width="3.0" stroke-linecap="round" fill="none"/>
<path d="M178.9 435.1h0M175.2 430.7h0M173.3 443.8h0M174.1 441.6h0M173.8 451.7h0M173.7 435.8h0M178.8 435.8h0M178.3 431h0M174.8 433.1h0M171.8 433.5h0M174.6 437.5h0M177.8 439.7h0M177.3 451.5h0M177.4 442.2h0M182.1 452.6h0M169.3 435.7h0M174.4 452.4h0M182.8 452.1h0M177.4 443.5h0M170.3 434.2h0M175.8 446.5h0M174.9 450.6h0M173.8 443.4h0M178.2 431.5h0M178.9 437.2h0M173.8 435.6h0M177.7 446.5h0M176.4 436.6h0M177.3 452.1h0M176 450.1h0M181.4 442.5h0M176.6 445.7h0M177.3 439.9h0M180.2 456.4h0M180.1 442.4h0M183 436.7h0M176.6 441.5h0M176.9 440.9h0M180.6 436.1h0M176.7 449.9h0M174.5 440.5h0M182.8 440.6h0M178.6 452.4h0M176.4 449.8h0M176.9 455.4h0M177.9 448.1h0M179.3 446.8h0M173.2 442.3h0M181.4 440.5h0M174.2 431.2h0M176.8 431h0M176.2 432.1h0M182.3 454.1h0M175.7 447.4h0M169.8 434.2h0M176.9 450.9h0M171.5 437.2h0M176.6 435h0M180.3 437.2h0M173.4 442.6h0M180.9 434.3h0M180.7 437.3h0M173.4 443.6h0M180 432.1h0M176.6 433.1h0M179.2 453.4h0M173.3 446.7h0M176.2 434.8h0M182 441.6h0M171.8 432.4h0M181.2 434.8h0M179 442h0M171.6 433.2h0M182.2 434.9h0M177.6 448.9h0M180 451.3h0M174.4 441h0M173 437.6h0M178.5 454.5h0M170.4 436.9h0M178.4 442.6h0M173.4 443.6h0M178 430.5h0M173.3 433.9h0M182.4 436.2h0M173.1 435.1h0M182.1 448.8h0M171.6 432h0M175.8 432.8h0M176.8 438.4h0M175.4 444.6h0M173.8 432.7h0M176.4 453.1h0M176 452.4h0M175.6 453.7h0M182.6 442h0M179 444.1h0M181.6 441.7h0M179.2 437.8h0M175.8 449.3h0M169.1 434.5h0M183.9 440.7h0M176.4 448.2h0M179.6 440.5h0M174.2 431.1h0M174.2 434.5h0M178.3 432.6h0M177.5 435.1h0M169.2 435.2h0M176.1 444.5h0M178.2 440.3h0M173 436.3h0M173 435.4h0M176.7 446.1h0M178.1 449.3h0M184.1 436.6h0M174 430.9h0M175.7 438.6h0M177 444.5h0M174.5 434.7h0M177.2 436.1h0M177.2 442h0M178.9 441.6h0M181.3 455.8h0M174.4 434.6h0M169.7 435.4h0M168.5 436.6h0M172.7 431h0M178.4 450.5h0M181.2 456h0M171 433.7h0M179.7 452.3h0M179.1 432h0M177.9 438.6h0M178.4 437.7h0M181.8 439.5h0M176.5 444.7h0M183.4 439.2h0M179.1 448.6h0M175.7 438.3h0M180.8 448.3h0M176.5 448.2h0M173.5 442h0M176.6 444.7h0M179.2 456.6h0M182.6 437.6h0" stroke="#d62728" stroke-width="3.0" stroke-linecap="round" fill="none"/>
<path d="M179.5 489.6h0M201.2 491.3h0M180.5 491.8h0M177 498.5h0M179.1 522.2h0M185.5 509.9h0M180.2 511.5h0M186.7 493.7h0M184.9 492.2h0M185.7 491.7h0M177.3 476.3h0M187.6 483.8h0M174.9 480.9h0M190.3 490.7h0M180.5 517.9h0M183 496.9h0M187.5 477.9h0M184.3 507.9h0M182.9 506.8h0M182.7 480.6h0M194.8 488h0M181.1 483.5h0M187 477.4h0M181.4 509.8h0M190 501.9h0M179.9 488.8h0M189.7 485.1h0M175 482.2h0M183 494.9h0M199.3 482.8h0M195.1 486.9h0M185.6 512h0M181.8 506.2h0M200.4 486.2h0M186.9 480.4h0M179.3 516.8h0M183.5 505.7h0M198.9 481.9h0M191.5 483.6h0M185 515.3h0M186.8 477.1h0M183.6 491.7h0M179.9 494.6h0M201.4 486.3h0M183.9 519.1h0M177.1 478.2h0M189 491.9h0M186 491.9h0M181 507.2h0M190.2 483h0M185.8 494.7h0M174.5 493.4h0M179 519.3h0M181.3 502.4h0M179 519h0M182.6 518.2h0M181 483.7h0M186.7 493h0M187.1 493.7h0M190.2 478.4h0M175.9 485h0M199.1 483.2h0M178.3 505.8h0M188.5 490.8h0M182.5 493.1h0M177.4 501.3h0M177.5 487.6h0M195.8 478.7h0M176.1 487.9h0M176.2 483.1h0M198.4 481.4h0M180.8 500.2h0M180.1 494.9h0M177.8 497.7h0M181.6 482.5h0M184.6 495.5h0M182.1 472.7h0M182.4 477h0M186.9 478.6h0M185.8 481.2h0M185.7 498.2h0M184.2 494.6h0M181.8 474.1h0M187.1 481.8h0M196.8 487.4h0M189.9 486.1h0M180.5 522.6h0M201.5 488.4h0M195.7 483.6h0M175.2 496.4h0M190.1 481h0M183.1 500.3h0M187 486.9h0M184.2 513.8h0M184.8 499.5h0M181.7 485.5h0M177.1 481.1h0M174.4 492.7h0M178.9 476.5h0M197.9 482.6h0M197.4 483.8h0M192 481.4h0M179 492.9h0M173.6 495.6h0M193.4 487.1h0M178.9 520.7h0M180 517.8h0M187 503.9h0M176.1 487.1h0M183.6 506.6h0M191.8 479.9h0M180.9 482.3h0M198 493.4h0M187.4 478.1h0M185.7 495.5h0M180 497.1h0M197.7 482.3h0M184 492h0M185.3 503.7h0M190.1 486h0M189.6 504.7h0M185.2 479.4h0M201.4 487.8h0M190.9 486.1h0M187.5 501h0M196.7 488.8h0M198.2 493.2h0M177.2 501.2h0M188.4 478.9h0M194.2 490.1h0M198.6 492.2h0M188.2 489.9h0M186.2 490.5h0M176.7 480.4h0M190.2 502.3h0M184.6 514.4h0M194 478h0M184.1 513h0M184.1 470.5h0M179.7 494h0M191.2 485.9h0M180.1 516.1h0M178.4 487.6h0M180 496.4h0M182.4 484.2h0M178.8 501.5h0M178.4 500.3h0M184.8 475.8h0M185.8 503.1h0M184.8 483.3h0M175.2 476.9h0M178.2 514.8h0M185.4 507.5h0M184.2 485.4h0M187.9 504.2h0M188.5 484.3h0M198.3 486.6h0M186.7 474.2h0M181.6 472.7h0M183.2 509.3h0M183 517.3h0M178.5 515.4h0M182.5 475.2h0M189.9 483.4h0M175.1 491.3h0M186.4 476.5h0M198.4 480.8h0M195.5 482.4h0M182.4 502.1h0M189.6 488.7h0M188.8 501.5h0M178.3 483.1h0M183.6 502.5h0M184.5 494.6h0M178.2 506.6h0M181.5 483.6h0M173 493h0M186.4 501.6h0M199.9 487h0M180.1 492.9h0M201.1 486.2h0M177.8 484.7h0M177.1 489.6h0M188.5 495h0M177.4 479.2h0M190.6 482.1h0M199.6 481h0M188.7 508.6h0M180.3 484h0M181 487.9h0M186.3 475.2h0M180.3 500.9h0M182.8 497.4h0M179.9 496h0M181 509.6h0M182 509.2h0M187.6 504.8h0M174 481.6h0M185.9 510.8h0M176.6 476.1h0M180.6 494.5h0M186.2 477.2h0M186.7 501.9h0M173.4 481.5h0M183.2 490h0M183.5 486h0M188.4 484.4h0M181.6 519.9h0M193 489.8h0M182.4 515.5h0M177 483.9h0M174.9 496.4h0M182.2 489.4h0M179 513.4h0M195.5 490.2h0M188.9 500.1h0M181 510h0M182.5 489.7h0M180 490.9h0M188.8 499.8h0M193 481.9h0M183 518.5h0M185.5 516.6h0M186.8 474.4h0M185.8 515.6h0M194.8 479.1h0M191.2 481.8h0M198.4 487.5h0M187.2 478.3h0M200.7 487.1h0M181.9 491.5h0M200.3 483.3h0M187.8 505.1h0M199.8 490.1h0M178.5 475.1h0M197.8 493h0M192.6 479.2h0M190.1 479.1h0M188.6 492h0M180.5 498.9h0M185.6 474.5h0M178.4 503.2h0M194.7 486h0M180.5 515.1h0M190.1 497.8h0M176 481.9h0M179.6 496.8h0M179.8 497.2h0M189.8 501.8h0M180.6 475.5h0M183.6 496.1h0M174.7 486.5h0M180.7 515h0M194.5 480.5h0M178.1 480.2h0M182 474.6h0M174.7 490.4h0M195.4 487.3h0M177 480.1h0M174.2 481.4h0M182.2 507.6h0M174.1 481.9h0M182.7 493.3h0M175.5 487.6h0M191.7 482.8h0M177 505.2h0M193.8 480.8h0M180.9 500.3h0M175.2 487.8h0M185.3 508.4h0M180 489.9h0M178.4 505.6h0M184 487.1h0M181.8 485.9h0M174.7 493.3h0M199.7 484.9h0M188.2 478.8h0M193.4 485.7h0M177.2 502.3h0M180 476.1h0M196.2 491.7h0M187.2 477.7h0M183.4 472.5h0M197.6 483.6h0M181.2 510h0M181.4 479.5h0M187.7 500.7h0M175 476.6h0M185.2 489h0M192.9 486.2h0M175.7 499.2h0M177.1 505.2h0M188.6 473.6h0M181.2 478.2h0M181.2 512.8h0M197.8 482.9h0M180.9 479h0M200.2 485.6h0M178.3 475.8h0M181.1 483.2h0M184.9 472.1h0M194.8 487.2h0M199.3 489.3h0M196.4 491.2h0M184.1 505h0M202.2 490.1h0M182.1 520.7h0M182.5 478h0M180.1 504.3h0M179.7 499h0M187.5 490.4h0M178.6 482.1h0M179.5 495.8h0M179.1 519.7h0M202.1 488.7h0M179 495.2h0M179.6 522.6h0M196 479.1h0M185.4 505.4h0M183.4 499.1h0M202.6 487.5h0M194.4 482.8h0M193.4 487.5h0M192.8 488.5h0M194.4 478.2h0M183 506.5h0M182.9 499.4h0M188.4 504.9h0M194.5 488.2h0M187.9 489.5h0M174.2 488.5h0M190.5 487.1h0M188.6 486h0M195.6 478.2h0M186.8 511.7h0M180.9 506.4h0M187.6 481.7h0M183.8 481.3h0M187 507.5h0M185.6 495.8h0M191.3 480.5h0M187.7 509.5h0M182.7 471.4h0M199.3 487.7h0M185.2 483.7h0M186.8 495.6h0M192.9 479.3h0M183.2 512.4h0M196.3 483h0M189.3 496.4h0M177.8 482.9h0M191.3 479.5h0M188.4 497.5h0M186.4 483.8h0M187.3 509.2h0M183.5 519.2h0M184 470.1h0M180.9 474.7h0M184.9 476.3h0M177.5 488.7h0M181.7 520.2h0M188.6 472.8h0M181.9 509.5h0M176.3 480.2h0M184.8 501.2h0M184.2 510.9h0M182.8 496.7h0M187.1 491.9h0M176.3 489.1h0M183.9 503.8h0M176.7 492h0M196.6 485.5h0M181.1 503.5h0M182.9 488.9h0" stroke="#e377c2" stroke-width="3.0" stroke-linecap="round" fill="none"/>
<path d="M118.7 447.4h0M116.8 442.1h0M135 457h0M137.8 461.9h0M113.1 467.8h0M127.7 459.8h0M107 449.3h0M125.6 439.4h0M112.7 467.8h0M149.9 453.7h0M115.7 468.9h0M141.7 461.8h0M119.1 460.8h0M119.2 445.8h0M126 465.2h0M137.4 455.8h0M119 456.1h0M152.1 462.5h0M116.5 470.8h0M108.2 446.5h0M126.7 456.5h0M125.5 470.5h0M126.4 465.5h0M108.2 465.7h0M124.5 449.7h0M127.4 460h0M131.8 449.9h0M113.6 446.9h0M118.8 462.5h0M129.6 459.7h0M114.5 455.5h0M137.4 453.8h0M121.5 449.4h0M112.8 450.8h0M143.9 454.3h0M118.9 468h0M146.1 455.2h0M132.3 443.3h0M113.9 452.2h0M137 454.1h0M136.3 470.5h0M111.7 457.8h0M116.4 468.2h0M124.4 444.2h0M133.6 459.9h0M117.2 460h0M117 441h0M112 465h0M150.2 466.2h0M123.6 456.9h0M110.9 447.6h0M122.9 467.4h0M122.6 453.7h0M136.9 458.8h0M132.7 447.6h0M132.1 448.2h0M111.6 466.4h0M111.9 463.3h0M134.5 450.5h0M132.9 446.2h0M111.2 461.1h0M112.1 475.2h0M109.9 461.4h0M148.4 462.4h0M136.9 460.4h0M152.5 465.3h0M118.6 441.9h0M147.1 455.9h0M109.2 458.9h0M148 462.4h0M126.3 442.8h0M128.3 441.4h0M131.3 449.8h0M151.3 467h0M128 466.2h0M141.5 460.5h0M125.6 443.7h0M111.2 453.1h0M121.1 468.6h0M139.7 449.4h0M125 466.2h0M124.2 460.4h0M116.1 444h0M131 455.3h0M119.9 447.1h0M134.3 463.1h0M136.4 462h0M129.5 441.9h0M127.5 461.1h0M122.3 450.5h0M117.4 452.1h0M123.4 474.6h0M125.6 448.7h0M153.6 459.3h0M145.9 456.9h0M133.2 452.9h0M117 473.6h0M132.5 451.5h0M144.1 459.7h0M115.2 473.5h0M135.3 469.1h0M111.6 453.4h0M108.7 465.3h0M147.5 458.6h0M147.1 455.8h0M128.7 445.4h0M112.9 457.8h0M126.1 451.8h0M122.8 451.8h0M148.4 470.5h0M123.4 435.9h0M123.5 469.7h0M142.7 468.2h0M125.7 466.6h0M113 462.5h0M126.9 469h0M119.4 458.7h0M155.4 456.7h0M109.6 461.6h0M131.1 458.5h0M135.7 447.6h0M117.8 443.7h0M119.4 449.9h0M138.5 449h0M114.5 441.3h0M116.4 459.7h0M126.6 462h0M130.7 449.1h0M121 473.9h0M125.6 467.9h0M131.3 458.7h0M125.3 448.2h0M124.4 450.4h0M116.4 456.2h0M154.7 465.7h0M116.6 452.6h0M130.8 461.4h0M133 459.5h0M126 468h0M132.3 458.2h0M116.4 464.2h0M117.9 458.4h0M131.5 463.7h0M138.5 451.2h0M142.2 466.9h0M113.3 469.9h0M136.3 447.7h0M111.5 444.5h0M119.6 444.1h0M116.1 452.6h0M124.7 448.4h0M118.6 443.5h0M116.7 445.9h0M147.6 465.5h0M136.4 444.8h0M122.3 454.8h0M110.2 457.8h0M119.2 454.8h0M140.9 465.6h0M119.5 452.8h0M144.1 458.1h0M124.9 473.8h0M151.7 459.4h0M136.1 452.1h0M136.8 468.2h0M140.4 460.1h0M144.5 454.1h0M139.7 465.5h0M153.5 455.3h0M151.6 453.7h0M111.3 464.2h0M151.5 460.3h0M136.8 453.7h0M114 472.4h0M136.5 449.6h0M121.1 472.8h0M112.9 455h0M138.6 470.4h0M111.5 471.1h0M128.5 463.6h0M116.4 461.9h0M134.5 463.4h0M137 448.3h0M121.9 458.2h0M143 458.8h0M114.1 467.9h0M121.2 456.9h0M114.4 459.1h0M141.1 463.1h0M122.4 456.5h0M151.1 464.7h0M116.1 473.8h0M128.8 470.3h0M109.8 452.2h0M151.5 452.2h0M151.4 460.7h0M126.1 448h0M132.7 459.5h0M123.1 469.1h0M126.6 462.9h0M125.5 456.3h0M119.1 449.9h0M146.8 461h0M123 436.8h0M147.2 462.8h0M114.8 443.7h0M135.8 469.1h0M111 469.3h0M130.8 460.4h0M132.3 450h0M111.6 444.8h0M128.2 444h0M109.9 466.4h0M134.2 455.3h0M144.2 456.8h0M149.1 460.5h0M131.7 442.3h0M111.7 448h0M118.3 469.9h0M148.5 469.2h0M138.2 466.6h0M149.1 461.4h0M108.2 450.6h0M131.9 458.9h0M136.5 444.3h0M145.9 471.4h0M130.4 443.3h0M108.8 458.8h0M117.6 457.3h0M137.4 447.5h0M113.1 467.4h0M126.5 465.8h0M133.2 444.5h0M138.4 453.9h0M113.2 461.2h0M136.9 453.2h0M127.8 472.7h0M121.3 462.7h0M119.8 454.5h0M133.9 455.8h0M124.2 442.6h0M109.4 454h0M124.8 436.2h0M153.8 456.6h0M147.4 465.5h0M132 465.7h0M114.8 452.2h0M125 453.1h0M119.1 450.9h0M114.9 464.9h0M147.8 467.9h0M153.7 464.5h0M131.4 457.3h0M125 457.6h0M141.8 457.1h0M147.7 461.3h0M124 456.5h0M133.4 457.1h0M153.1 459.4h0M124.6 451.5h0M133.9 453.6h0M129.5 463.4h0M123.3 446h0M128.1 471.5h0M148.3 467.9h0M109 448h0M130.5 446.8h0M137.2 461.9h0M111.4 448.1h0M125 462.9h0M118 458.4h0M139.2 469.3h0M148.4 471.3h0M144.1 465.7h0M109.1 467.2h0M123.3 470.6h0M133 444.8h0M155.3 462.2h0M124.2 474.5h0M118 462.6h0M141.1 459.7h0M142.5 465.8h0M113 453h0M152.6 455.4h0M153.4 453.9h0M154.6 457.1h0M108.1 450.2h0M123.2 439.8h0M137.5 450.6h0M144.9 463.5h0M130.3 458.7h0M122.6 462.5h0M146.2 470.4h0M135.3 463.7h0M154.3 458h0M112.9 458.7h0M118.4 449.9h0M133.6 455.2h0M109 451.1h0M126.2 467.3h0M127.1 462.9h0M144.6 467.9h0M108.2 450h0M143.4 457.6h0M146.6 467h0M117.6 472.3h0M131.3 454.6h0M113.3 471.7h0M112 463h0M128.1 465.2h0M132 456.3h0M122.9 460.7h0M124.6 454.9h0M131.4 461.2h0M134.8 463.5h0M117.3 449.1h0M112.6 442.2h0M128.7 463.6h0M124.5 471.7h0M136.2 443.9h0M113.3 462.2h0M110.2 469.8h0M154.1 466.8h0M108.6 449.2h0M138.8 468.1h0M133.1 444.8h0M142.3 463.3h0M118.8 461.5h0M112.8 441.7h0M133.5 458h0M118.5 447.2h0" stroke="#bcbd22" stroke-width="3.0" stroke-linecap="round" fill="none"/>
<path d="M91 474.2h0M90.9 468.9h0M100.4 466.9h0M89.2 474.5h0M102.2 473.7h0M100.2 473.4h0M87 485h0M91 480.1h0M87.4 477h0M86.4 479.3h0M100 473.6h0M95.1 477.7h0M91.6 478.5h0M97.2 467.7h0M91.9 477.7h0M94.1 468.3h0M89.8 476.7h0M95.7 472.5h0M99 471.8h0M90 472.6h0M87.2 476.6h0M85.1 481.5h0M91.2 481.3h0M98.8 478.5h0M99.1 469h0M87.3 477.8h0M91.4 479h0M89.2 479.2h0M86.7 476.9h0M89 480.8h0M94.5 474.8h0M99.4 468.6h0M90.7 481h0M87.4 483.4h0M89 470.5h0M96.9 460.3h0M90.5 475.7h0M94.1 470.5h0M102.6 473.8h0M98.3 469.3h0M97.8 464.4h0M98.1 476.3h0M92.3 468.5h0M88.8 479.5h0M97.8 473.9h0M97.5 463.5h0M96.7 471.6h0M100.5 462.9h0M95.4 480.3h0M88.7 477.9h0M104 464.1h0M90.3 473h0M98.3 465.9h0M85.1 480.8h0M96.8 459.4h0M96.6 474.5h0M90.9 480.9h0M87 476.4h0M96.5 473.2h0M97.1 478.9h0M97.7 477.7h0M87.5 483.5h0M102.6 474.5h0M95.2 476.2h0M98.5 466h0M95.7 480.7h0M96.5 467.7h0M89.8 476.5h0M96.6 461.4h0M92.3 470.6h0M85.4 479.9h0M88.3 481.5h0M96.8 472.1h0M104.1 467.3h0M98 464.5h0M103.5 468.6h0M102.5 465.6h0M103.5 467.3h0M98.7 477.2h0M101.1 475.3h0M100.3 468.8h0M92.1 468.3h0M103 465h0M97.6 467.5h0M88.3 471.6h0M98.9 467.4h0M97.1 467.5h0M95.1 471h0M92 480.1h0M92.3 476h0" stroke="#1f77b4" stroke-width="3.0" stroke-linecap="round" fill="none"/>
<path d="M130.3 531.2h0M135 530.6h0M136 539.1h0M128 515.1h0M143.1 535.2h0M126.1 517.2h0M141.8 538.9h0M141.3 533.1h0M125.8 519.5h0M142.7 546.7h0M126 515.8h0M129.2 521.2h0M133.8 538.6h0M134.5 539.9h0M140.9 540.6h0M143.3 536.8h0M129.2 529h0M122.3 514.1h0M135.5 527.1h0M138.6 530h0M146.5 532h0M124.2 521h0M147.4 541.1h0M144.3 546.9h0M138.8 543.9h0M127.3 523.4h0M132.9 527h0M141 545.5h0M134.3 533.4h0M124 519.8h0M135.9 529h0M129 518.8h0M132.3 534.1h0M120.9 516.2h0M132.8 528.5h0M119.5 511.8h0M121.3 512.4h0M142.5 539.1h0M131.8 530.7h0M127.5 518.9h0M127.1 510.8h0M124 516.9h0M141.3 543.9h0M129.2 516.6h0M134.1 526.7h0M138.2 545.2h0M126.9 525.3h0M123.6 517.5h0M142.5 529.8h0M129.4 520.6h0M130.2 521.8h0M131.6 522h0M121.5 512.7h0M127.8 513.6h0M127 515.4h0M142 527.7h0M146 537.3h0M146.4 537.2h0M144.1 538h0M139.1 542.9h0M129.9 523.8h0M131.4 533.6h0M125.6 509.7h0M122.9 509.4h0M123.7 521h0M138.5 527.7h0M136.7 530.4h0M134.1 531.7h0M131 530.2h0M143.7 548.8h0M134.5 538.9h0M136.3 534h0M135.3 536.3h0M128.4 516.4h0M133.2 537.9h0M139.1 530.4h0M126.4 520.6h0M142.6 541.8h0M143.5 529.4h0M138.2 537.9h0M132.2 521.1h0M125.7 518.3h0M131.2 528.6h0M132.4 536.5h0M138.7 542.3h0M123.6 511.7h0M135.7 539.2h0M139.1 545.6h0M147 547.2h0M134 525.1h0M131.4 520.9h0M139.3 535.8h0M148.4 544.9h0M141.1 533.4h0M143 527.7h0M125.3 521.4h0M127.8 514.7h0M129.7 522.7h0M138.8 540h0M147 547.7h0M125.5 521.9h0M135 525.7h0M142 527.7h0M135.6 532.6h0M123.6 518.7h0M129.4 527h0M142 535.4h0M131 532.3h0M141.3 545.7h0M145.7 530.4h0M143.2 534.9h0M133.2 536.9h0M143.5 530.6h0M126.7 513.3h0M143.5 541h0M144.3 538.8h0M136.1 534.5h0M123.7 513h0M125.2 521.8h0M132.1 523.1h0M133.1 533.8h0M141 543.3h0M119.8 513.6h0M139.9 537.4h0M147.4 542.3h0M143.8 526.1h0M127.5 518.2h0M131.7 529.6h0M144 547.2h0M133.1 521.3h0M125.8 524.1h0M135.8 531.2h0M135.5 528.9h0M126.3 516h0M131.4 525.4h0M126.7 514.5h0M133.5 527.6h0M140.2 542.9h0M144.6 533.3h0M141.4 533.8h0M137.8 530.6h0M142.4 548.4h0M125.5 519.2h0M147.9 540.8h0M123.1 515.2h0M145 528.6h0M143.1 539.3h0M121.1 517.2h0M136.8 542.5h0M126.8 518.1h0M144.2 543.5h0M132.6 528.6h0M128.7 528.3h0M139.6 527.9h0M145.7 541.8h0M127.8 514.4h0M139.2 534.6h0M144.5 548.6h0M120.1 510.4h0M137.6 543.4h0M122.6 518.5h0M130 526.4h0M146.4 541.6h0M142 529.8h0M143.1 538h0M124.7 521.9h0M136.1 534.5h0M126 524h0M143.8 546.7h0M134.3 524.1h0M146.3 533.7h0M143.5 529.1h0M147.4 541.8h0M120.8 515.7h0M142.1 534.8h0M123.7 518.7h0M130.1 527.9h0M125.8 524.1h0M130.1 528.4h0M138 532.7h0M140.2 535.6h0M142.3 537h0M147.9 545.2h0M140 529.7h0M143.5 546.3h0M126 519h0M122.9 513.3h0M123.1 511.1h0M130.9 525.7h0M147.6 538.5h0M140.8 526.8h0M142.4 534.4h0M126.6 519.5h0M140.8 532.8h0M135.8 537.3h0M146.1 538.1h0M125.9 520.8h0M133.7 530.4h0M131.3 531.1h0M142.2 541h0M130.7 521.2h0M141.9 529h0M124.9 519h0M130.8 520h0M144.2 526h0M142.4 540.7h0M129.7 526.9h0M128.4 522.1h0M121.8 515.9h0M137.2 544.4h0M125 520.1h0M132.3 528.6h0M141.2 544.8h0M124.8 523.6h0M128.8 518.3h0M124.9 512.9h0M142 533.7h0M132.6 525.7h0M146.1 529.9h0M129.7 527.5h0M142.9 543.1h0M123.6 512.5h0M145.6 549.3h0M130.2 525.3h0M132.9 528.4h0M137.7 545.1h0M132 535.5h0M146.9 546.8h0M127.2 515.9h0M135.6 537.8h0M136.4 527.1h0M143.1 532.2h0M146.7 548.8h0M137.3 529.1h0M128.6 520.9h0M145.1 535.5h0M140.1 539.4h0M121.7 517.6h0M144.4 529.7h0M143.4 545.9h0M136.8 539.3h0M132.3 535.1h0M133.7 537.1h0M135.3 527.1h0M125.4 520.6h0M142.2 541.8h0M126.6 524.7h0M134.1 531.1h0M135.3 538.8h0M124.5 510.3h0M126.7 516.4h0M122.1 511.2h0M133.7 529.2h0M131.7 526.8h0M133 535.2h0M146.9 541.1h0M134.4 523.7h0M125.2 513.2h0M129.1 527.6h0M128.9 514.5h0M124.2 507.3h0M142.6 536.5h0M125.5 509.4h0M145.4 531.8h0M136.5 542h0M144.2 527.3h0M134.2 529.3h0M127.4 519.2h0M131.9 522.6h0M126.3 514.5h0M132.5 534.8h0M122.4 510.4h0M136.4 540.4h0M135 529.8h0M130.7 532.7h0M135.8 535.5h0M140.9 529.9h0M143 548.8h0M125.2 510.7h0M126 524.7h0M137.3 529.1h0M146.4 547.8h0M143 542h0M131.9 531h0M146.1 530.1h0M143.6 541.5h0M133.3 537.7h0M119.8 510.8h0M135.4 523.6h0M145.2 548h0M137.2 543.8h0M146.8 541.8h0M129.9 519.5h0M133.8 536.7h0M137.4 528.7h0M142 531.4h0M147 539.1h0M124.4 521.5h0M132.3 520.3h0M136.4 528.5h0M122.1 517.6h0M141.3 545.2h0M124.3 517.1h0M132.9 527.3h0M146 544.8h0M123.6 508.8h0M125.8 513.6h0M132.5 520.1h0M143.1 542.4h0M128.5 525.3h0M131.1 519.3h0M144.7 546.4h0M131.2 531h0M141.8 546.9h0M144.3 531.6h0M137.7 543.4h0M122.9 509.2h0M137 543.6h0M149.1 543.6h0M145.7 547h0M137.2 542.3h0M139.6 540.5h0" stroke="#8c564b" stroke-width="3.0" stroke-linecap="round" fill="none"/>
<path d="M117.6 490.2h0M117.6 490h0M117.7 490.6h0M116.8 489.7h0M119.3 497.8h0M117.7 496.5h0M116.9 496.5h0M117.8 489h0M119 494.5h0M118.1 495h0M121.1 496.4h0M117 491.8h0M117.7 496.6h0M120.6 494h0M117.5 490.1h0M119.1 492.6h0M118.1 496.5h0M118.4 490.6h0M119.7 493.4h0M116.8 496.6h0M119.8 496.7h0M117.8 494.7h0" stroke="#bcbd22" stroke-width="3.0" stroke-linecap="round" fill="none"/>
<path d="M112.8 369.8h0" stroke="#d62728" stroke-width="3.0" stroke-linecap="round" fill="none"/>
<path d="M118.8 365.4h0" stroke="#e377c2" stroke-width="3.0" stroke-linecap="round" fill="none"/>
<path d="M108.8 371.4h0M116.8 366.8h0M104.8 390.1h0" stroke="#2ca02c" stroke-width="3.0" stroke-linecap="round" fill="none"/>
<path d="M116.8 364.8h0M87.9 374.8h0M107.8 426.5h0M107.4 429.5h0M86.9 435.1h0M86.3 437.1h0M123.8 430.5h0M122.8 435.5h0M128.1 364.8h0M133.3 364.8h0M114.8 406h0" stroke="#1f77b4" stroke-width="3.0" stroke-linecap="round" fill="none"/>
<path d="M107.8 431.5h0" stroke="#bcbd22" stroke-width="3.0" stroke-linecap="round" fill="none"/>
<path d="M107.4 433.1h0" stroke="#17becf" stroke-width="3.0" stroke-linecap="round" fill="none"/>
<path d="M105.4 437.5h0M120.8 418.6h0M128.7 369.8h0" stroke="#7f7f7f" stroke-width="3.0" stroke-linecap="round" fill="none"/>
<path d="M117 488h0M102 473h0M101 464h0" stroke="#bcbd22" stroke-width="3.0" stroke-linecap="round" fill="none"/>
<path d="M132 438h0M145 457h0M155 464h0M141 470h0M158 452.4h0M157 452.4h0M171 465h0M175 463h0M180 460h0M176 441h0" stroke="#7f7f7f" stroke-width="3.0" stroke-linecap="round" fill="none"/>
<path d="M112 441h0M106 448h0M113 445h0M140 461h0M156 458h0M106 482h0M177 430.4h0M107 430h0M108 428h0" stroke="#1f77b4" stroke-width="3.0" stroke-linecap="round" fill="none"/>
<path d="M121 473h0M116 476.6h0M107.6 431.6h0" stroke="#17becf" stroke-width="3.0" stroke-linecap="round" fill="none"/>
<path d="M140 474h0M128 469h0M157 468h0M162 462.4h0M92 480h0M95 484h0M97 483h0M89 487h0M172 456h0M184 464h0M189 463.6h0" stroke="#e377c2" stroke-width="3.0" stroke-linecap="round" fill="none"/>
<path d="M142 472.4h0M121 419h0" stroke="#8c564b" stroke-width="3.0" stroke-linecap="round" fill="none"/>
<path d="M175.3 459.8h0M176.4 463.1h0M170.9 465.3h0M175.3 470.7h0M180.7 469.6h0" stroke="#7f7f7f" stroke-width="3.0" stroke-linecap="round" fill="none"/>
<path d="M167.6 469.6h0M168.7 474h0M175.3 488.2h0" stroke="#8c564b" stroke-width="3.0" stroke-linecap="round" fill="none"/>
<path d="M185.1 464.2h0M186.2 471.8h0M187.3 479.5h0" stroke="#d62728" stroke-width="3.0" stroke-linecap="round" fill="none"/>
<path d="M169.8 468.5h0M181.8 465.3h0M172 456.5h0M157.8 466.4h0M155.6 469.6h0M114.2 508.5h0M116.4 515.5h0" stroke="#e377c2" stroke-width="3.0" stroke-linecap="round" fill="none"/>
<path d="M162.8 462h0M121.8 518.7h0M125.1 526.4h0M129.5 527.5h0M134.9 542.7h0M128.4 519.8h0" stroke="#bcbd22" stroke-width="3.0" stroke-linecap="round" fill="none"/>
<path d="M117.5 515.5h0M118.5 519.8h0M121.8 529.6h0M124 525.3h0M114.2 504.5h0M115.3 507.8h0M113.1 507.2h0" stroke="#1f77b4" stroke-width="3.0" stroke-linecap="round" fill="none"/>
<path d="M109.8 515h0M112 514.4h0" stroke="#17becf" stroke-width="3.0" stroke-linecap="round" fill="none"/>
<path d="M44.5 469.1h0" stroke="#bcbd22" stroke-width="3.0" stroke-linecap="round" fill="none"/>
<path d="M42.8 470.6h0M89.6 490.2h0" stroke="#8c564b" stroke-width="3.0" stroke-linecap="round" fill="none"/>
<path d="M131.1 439.3h0" stroke="#7f7f7f" stroke-width="3.0" stroke-linecap="round" fill="none"/>
<path d="M131.3 438.7h0M132.5 441.3h0" stroke="#7f7f7f" stroke-width="3.0" stroke-linecap="round" fill="none"/>
<rect x="217.3" y="317.6" width="40.5" height="61.69999999999999" rx="1" fill="#fff" fill-opacity="0.8" stroke="#ccc" stroke-width="0.5"/>
<g font-family="DejaVu Sans, Liberation Sans, sans-serif" font-size="4.3" fill="#111" stroke="#111" stroke-width="0.13">
<circle cx="223.9" cy="321.90" r="1.55" fill="#1f77b4"/>
<text x="231.9" y="323.40">Authentic</text>
<circle cx="223.9" cy="328.54" r="1.55" fill="#ff7f0e"/>
<text x="231.9" y="330.04">BigGAN</text>
<circle cx="223.9" cy="335.17" r="1.55" fill="#2ca02c"/>
<text x="231.9" y="336.67">Copy-Move</text>
<circle cx="223.9" cy="341.81" r="1.55" fill="#d62728"/>
<text x="231.9" y="343.31">DDPM</text>
<circle cx="223.9" cy="348.45" r="1.55" fill="#8c564b"/>
<text x="231.9" y="349.95">FDGAN</text>
<circle cx="223.9" cy="355.08" r="1.55" fill="#e377c2"/>
<text x="231.9" y="356.58">GLIDE</text>
<circle cx="223.9" cy="361.72" r="1.55" fill="#7f7f7f"/>
<text x="231.9" y="363.22">INDM</text>
<circle cx="223.9" cy="368.36" r="1.55" fill="#bcbd22"/>
<text x="231.9" y="369.86">PEDM</text>
<circle cx="223.9" cy="375.00" r="1.55" fill="#17becf"/>
<text x="231.9" y="376.50">StyleCLIP</text>
</g>
<rect x="299.4" y="316.0" width="247.5" height="246.1" fill="#fff" stroke="#555" stroke-width="0.6"/>
<g font-family="DejaVu Sans, Liberation Sans, sans-serif" font-size="4.3" fill="#111" stroke="#111" stroke-width="0.13">
<line x1="325.8" y1="562.1" x2="325.8" y2="563.7" stroke="#444" stroke-width="0.4"/>
<text x="325.8" y="568.60" text-anchor="middle">−60</text>
<line x1="361.2" y1="562.1" x2="361.2" y2="563.7" stroke="#444" stroke-width="0.4"/>
<text x="361.2" y="568.60" text-anchor="middle">−40</text>
<line x1="396.6" y1="562.1" x2="396.6" y2="563.7" stroke="#444" stroke-width="0.4"/>
<text x="396.6" y="568.60" text-anchor="middle">−20</text>
<line x1="432" y1="562.1" x2="432" y2="563.7" stroke="#444" stroke-width="0.4"/>
<text x="432" y="568.60" text-anchor="middle">0</text>
<line x1="467.4" y1="562.1" x2="467.4" y2="563.7" stroke="#444" stroke-width="0.4"/>
<text x="467.4" y="568.60" text-anchor="middle">20</text>
<line x1="502.8" y1="562.1" x2="502.8" y2="563.7" stroke="#444" stroke-width="0.4"/>
<text x="502.8" y="568.60" text-anchor="middle">40</text>
<line x1="538.2" y1="562.1" x2="538.2" y2="563.7" stroke="#444" stroke-width="0.4"/>
<text x="538.2" y="568.60" text-anchor="middle">60</text>
<line x1="297.8" y1="344" x2="299.4" y2="344" stroke="#444" stroke-width="0.4"/>
<text x="296.8" y="346.00" text-anchor="end">60</text>
<line x1="297.8" y1="378.4" x2="299.4" y2="378.4" stroke="#444" stroke-width="0.4"/>
<text x="296.8" y="380.40" text-anchor="end">40</text>
<line x1="297.8" y1="412.7" x2="299.4" y2="412.7" stroke="#444" stroke-width="0.4"/>
<text x="296.8" y="414.70" text-anchor="end">20</text>
<line x1="297.8" y1="447.1" x2="299.4" y2="447.1" stroke="#444" stroke-width="0.4"/>
<text x="296.8" y="449.10" text-anchor="end">0</text>
<line x1="297.8" y1="481.5" x2="299.4" y2="481.5" stroke="#444" stroke-width="0.4"/>
<text x="296.8" y="483.50" text-anchor="end">−20</text>
<line x1="297.8" y1="516" x2="299.4" y2="516" stroke="#444" stroke-width="0.4"/>
<text x="296.8" y="518.00" text-anchor="end">−40</text>
<line x1="297.8" y1="550.7" x2="299.4" y2="550.7" stroke="#444" stroke-width="0.4"/>
<text x="296.8" y="552.70" text-anchor="end">−60</text>
</g>
<path d="M365.6 393.6h0M376.9 410.2h0M370.5 397h0M375.6 397.5h0M375.9 403.9h0M374.6 409.5h0M367.9 382.3h0M374.5 389.7h0M368 393.7h0M374 408.8h0M374.2 401.7h0M372.3 400.6h0M367.7 389.1h0M377.9 385.2h0M369.1 409.8h0M372.7 387.4h0M370.8 418.4h0M367.8 398h0M371.2 410.5h0M371.7 386.5h0M371.4 395.4h0M365 393.5h0M371.8 392.9h0M370.1 398.6h0M367.2 386.5h0M372.5 419.3h0M369.8 416.5h0M369.5 394.9h0M371.6 402.2h0M373.1 385.8h0M371.8 401.8h0M373.3 402.4h0M363.8 398.8h0M378 408.6h0M375.7 385.6h0M372.2 411.2h0M374.1 395.7h0M368.6 391.1h0M365.5 386.5h0M368.4 384.7h0M372.4 418.5h0M368.4 392.6h0M368.4 385.9h0M373.7 391.7h0M372.3 418.9h0M376 385h0M376.2 390.1h0M375.2 394.7h0M367.5 391.6h0M370 414.6h0M373.1 413.5h0M374 390.5h0M365.8 389.5h0M372.9 396.4h0M370.9 390.3h0M364.3 392.7h0M372 402.5h0M377.7 408.6h0M362.6 392.5h0M377.2 396.3h0M371.5 404.9h0M373.1 417.3h0M378.1 388.4h0M368.3 412h0M370 390.9h0M367.5 394.7h0M373.8 406.1h0M375.1 401.4h0M369.4 413.2h0M368.9 413.5h0M373.9 414.5h0M368.9 418h0M370.6 413h0M373.9 393.9h0M371.9 414.3h0M372.8 393.3h0M376.7 392h0M372 417.9h0M374.7 408.9h0M376.1 393.6h0M373.9 412.7h0M376 415.7h0M369.7 412.6h0M366.8 399.2h0M378.6 406.8h0M369.5 385.1h0M371.9 412.7h0M366.6 397.1h0M376.5 392.5h0M369.6 388.3h0M367 399.3h0M375.4 412.5h0M371.6 407.7h0M363.4 393.1h0M366.3 392.1h0M377.1 386h0M365.4 396.7h0M367.1 390.8h0M366.1 386.3h0M367.3 393.1h0M369.5 402.3h0M366.6 389.7h0M375.2 406.8h0M370.8 407.2h0M377.2 394.4h0M377.3 397.4h0M371.9 398.7h0M368.4 395.1h0M366.2 395h0M370.9 389.5h0M377.5 399.2h0M370.1 393.4h0M369.5 414h0M371.8 390.6h0M371.3 392h0M372.1 407.1h0M370.2 394.5h0M375.7 412.4h0M376.9 392.1h0M371.7 407.1h0M377.8 401.5h0M373.8 401.6h0M367.5 413.8h0M371 387.4h0M373 386h0M369.6 392.6h0M365.9 388.7h0M368.4 396.3h0M372.7 416.8h0M371.8 404.9h0M365.9 395.7h0M369.1 389.1h0M366.4 385.3h0M364.2 394.8h0M372.6 411.8h0M365.2 414.9h0M367 398.5h0M366.2 388.5h0M371.1 411.4h0M376.4 391.8h0M373.2 385.3h0M370.5 414.8h0M376.9 395.5h0M372 417.2h0M374.5 388.1h0M376.6 408.6h0M367.8 381.4h0M378.3 385.9h0M377.4 400h0M373.2 402.8h0M367.2 383.3h0M377.8 399.7h0M371.6 407.9h0M370.8 395.4h0M377.2 394.3h0M369.4 385.5h0M371.4 412.4h0M368 398.7h0M366.5 395.7h0M368.1 386.3h0M371.6 409h0M370.3 404.8h0M377.5 386.2h0M367.3 409.2h0M376.6 396.2h0M376.7 399.6h0M372 396.4h0M363.2 398.4h0M371.3 385h0M368 413.5h0M375.7 401.6h0M363.8 393.1h0M376.5 408.7h0M375.3 412.2h0M365.6 394.6h0M376.7 395.7h0M377.7 402.6h0M371.8 389.7h0M368.3 415.8h0M373.1 399.2h0M375.5 416.2h0M378.2 407.6h0M374 409.1h0M368.3 399h0M366.8 398.8h0M370.4 405.6h0M367.1 398.5h0M369.4 417.2h0M374.7 413.6h0M370.6 420.1h0M376.7 392.1h0M371.1 400.2h0M370.8 388.8h0M368.8 413.4h0M376 407.2h0M365.1 413.6h0M363.7 397.1h0M374.1 412.7h0M367.5 384.6h0M376.6 402.6h0M369.5 390.6h0M367.2 386.2h0M372.3 390.1h0M365.9 394.4h0M373.8 385.9h0M365.2 390.9h0M371.6 385.4h0M374.2 386.5h0M372.8 405.8h0M376.8 403.8h0M367.3 417.5h0M374.6 403.9h0M374.3 399.1h0M362.6 392.7h0M373.8 384.2h0M370.7 410.1h0M366.1 409.8h0M372.2 394.3h0M370.9 385.8h0M372 402.6h0M374.2 412.6h0M369.7 388.4h0M367.9 384.2h0M370.5 407.8h0M368.6 394.5h0M373.6 388.9h0M371.9 394.9h0M376.4 401.1h0M368.2 395.6h0M377.7 394.5h0M374.8 393h0M373.7 416.7h0M376.7 390.1h0M374.9 398.3h0M367.9 417.9h0M373.2 412.9h0M376.7 394.4h0M377 408.2h0M372.4 416.8h0M371.8 392.2h0M368.2 417h0M368.3 396h0M377.1 395.8h0M363.3 388.5h0M372.4 390.7h0M364.2 398.8h0" stroke="#8c564b" stroke-width="3.0" stroke-linecap="round" fill="none"/>
<path d="M369.8 430.3h0M370.7 429.3h0M371.8 430.5h0M372.1 430.8h0M370.3 429.2h0M369.3 431.6h0M369.6 432.6h0M370.7 432.2h0M370.6 432.1h0" stroke="#8c564b" stroke-width="3.0" stroke-linecap="round" fill="none"/>
<path d="M316.5 462.3h0M339.5 452.1h0M333.4 445.7h0M316.7 457.4h0M333.2 452.6h0M339.5 444.3h0M337.2 447.4h0M318.9 448.6h0M320.1 463.4h0M339.4 458.2h0M330.1 462.6h0M320.1 454.6h0M334.1 449.7h0M312.3 460.2h0M325.8 454.9h0M337.9 452.4h0M322.7 460.5h0M326.8 443.1h0M317.5 446.6h0M327.7 446.8h0M330.8 458.5h0M320.3 443.2h0M329.4 461.5h0M316 460.6h0M320.5 461.5h0M332.4 464h0M335.4 457.3h0M342.2 446.2h0M324.8 463.9h0M326.7 443.3h0M334.5 452.8h0M324.9 463.7h0M323.3 461.1h0M322.3 449.9h0M326.7 450.1h0M329.8 445.2h0M338.5 448.2h0M329.2 445.8h0M327.2 452.2h0M316.6 449.4h0M313.6 456.8h0M318.5 444.7h0M325.9 451.5h0M323.5 462.1h0M316.5 454.3h0M335.4 449h0M332.1 447.9h0M330.7 453.6h0M341.1 446.8h0M337.5 455.8h0M317.8 463.3h0M329.7 449.9h0M314.7 453h0M332.7 453.2h0M320.1 448.6h0M324.3 463.8h0M339.2 452.1h0M318.8 454h0M324.3 464.1h0M337.2 459.4h0M323 464.7h0M337.1 461.6h0M314.2 458.6h0M343 447h0M333.9 444.9h0M335.6 461.6h0M314.8 455.3h0M315.2 451.7h0M329.1 454.1h0M341.5 448.6h0M315.2 459.7h0M336.3 454.5h0M328.6 442.9h0M323.1 463.6h0M328.2 444.7h0M332.6 464.1h0M343.2 443.7h0M336.5 445.5h0M316.7 457.1h0M335.8 453.5h0M328.7 445.9h0M336.8 444.7h0M320.5 448.2h0M323.5 460.3h0M337.4 456h0M337 456.1h0M329.2 451.8h0M329.5 460.8h0M335.8 461.5h0M319.1 458.5h0M331.4 458.7h0M324.3 449.3h0M327.8 452.8h0M341.6 443.9h0M318.8 457h0M339.6 447.2h0M335.8 456.8h0M335.3 453.1h0M334.7 459.2h0M334.1 461.9h0M340.3 449h0M320.1 456.7h0M311.1 452.9h0M339.5 454h0M333.8 456.1h0M316.8 450.8h0M326.7 449.7h0M321.6 462.4h0M335.5 450.1h0M332 458.9h0M321.4 457.8h0M338.9 449.2h0M338.4 452.5h0M338.7 451.1h0M315.2 453.6h0M321.9 447.4h0M327.8 458.7h0M331.2 448.8h0M330.6 459.8h0M332.6 456.8h0M320.6 455.3h0M339.1 461.9h0M333.9 445.3h0M329.7 447.3h0M335.6 447.9h0M314.4 454h0M330.5 461.1h0M327.8 441.7h0M329.1 457.7h0M334.1 457.2h0M323.2 458.2h0M336 463.8h0M323.9 450h0M312.3 452.3h0M328.8 461.9h0M314.4 459.1h0M320.5 453.9h0M326.4 455.3h0M335.2 448h0M311.9 453.2h0M315.4 456.3h0M321.2 446.4h0M337.3 461h0M318 443.8h0M319.3 452.2h0M326.4 443.4h0M330 442.3h0M340.8 447h0M317 462.4h0M321.3 445.2h0M328 451.8h0M319.2 445.9h0M322 460.3h0M333.2 458.4h0M325.2 452.9h0M329.8 459.8h0M331 444.2h0M317.4 450.6h0M330.3 460.3h0M333.4 452.4h0M338.4 447.5h0M326.2 455.8h0M337.7 449.3h0M330 460.4h0M331 461.1h0M325.3 444.5h0M318.1 449.9h0M341.1 447.3h0M321.5 464.4h0M311.4 454.1h0M325.2 444h0M327.9 452.8h0M322 460.7h0M338.9 447.7h0M311.5 456h0M327.7 454.8h0M340.4 458.1h0M334.8 448.9h0M327.7 445.4h0M316.1 445.2h0M331.9 456.6h0M319.2 459.9h0M330.8 447.2h0M328.3 448.1h0M332.4 455.5h0M330 442.6h0M337.5 446.9h0M325 460.3h0M318.1 443.7h0M319.6 448.5h0M312.3 455.9h0M336.4 461.1h0M324.2 442h0M319.3 463.8h0M315 456.4h0M322.9 456.5h0M333 462h0M324.8 454.6h0M313.6 455.2h0M321.5 448.2h0M333.4 461.7h0M330.3 454.8h0M337 451.9h0M338.9 454h0M332.9 463.9h0M339.7 445.7h0M329.8 457.2h0M322.9 445.3h0M334.5 449.7h0M336.4 453.2h0M322.5 453.5h0M328.5 455.4h0M338.7 454.6h0M317.8 446.9h0M319.6 463.1h0M340 458.2h0M329.3 452.1h0M326 449.1h0M326.1 448.9h0M327.9 451h0M335.1 455.9h0M323.3 452.1h0M319.3 453.9h0M336.6 456.9h0M329.8 447.2h0M324.5 452h0M322 446.8h0M318.1 444.4h0M318.1 462.3h0M311.5 453.6h0M335.4 457h0M328.4 452.6h0M319.3 455.3h0M333.2 455.5h0M327.1 456.8h0M331.8 450.8h0M322.8 455.9h0M315.6 450.3h0" stroke="#17becf" stroke-width="3.0" stroke-linecap="round" fill="none"/>
<path d="M440.6 355.6h0M442.7 343.6h0M439 375.5h0M439.6 356.4h0M441.3 367.8h0M441.5 380.6h0M440.3 347.2h0M442.8 359.2h0M439.4 359.4h0M454.7 367.6h0M440.6 383.4h0M451.8 368h0M450.3 328.6h0M449.3 376.8h0M441.6 366.7h0M444.8 341.9h0M435.1 369.9h0M436.7 363.7h0M440.3 381.7h0M447.9 330.1h0M438.7 349.8h0M447.7 341.7h0M445.7 378.6h0M439.5 367.3h0M437.8 354.6h0M448.3 364.2h0M443.1 362.6h0M441.8 354.7h0M446.6 336.4h0M449.6 365.1h0M446.5 377.8h0M439.5 367.7h0M437.5 377.2h0M443.6 373.8h0M437.6 373.3h0M447.2 329.7h0M451.5 328.8h0M437.8 361.2h0M441.3 366.4h0M451.8 374.6h0M445.4 336h0M440.4 355h0M439.4 364.4h0M441.6 360.4h0M442.7 351.5h0M449.1 370.4h0M436.6 357.2h0M435.2 365.4h0M439.6 379.1h0M434.1 357.5h0M441.6 364.6h0M443.9 378.2h0M454.4 370h0M439.1 376.6h0M444.7 360.9h0M441.8 378.2h0M439.9 367.3h0M450.6 364.5h0M443.2 382.3h0M438.9 364.6h0M445.5 346.2h0M439.4 363.8h0M448 356h0M441.1 344.6h0M445.1 338.4h0M446.6 382.5h0M455 368h0M444.4 379.9h0M450.1 360.8h0M435.4 356.7h0M455.2 370.1h0M449.9 376.4h0M446.7 331.2h0M442.2 369.6h0M441.7 370.9h0M446.4 362.2h0M449.4 327.9h0M442.2 349h0M442.3 373.8h0M436.7 357.6h0M442.8 383.1h0M456.3 372.2h0M443.7 382.5h0M441.1 356h0M436.1 356.4h0M434.4 356.3h0M441.6 382.5h0M435.7 356.2h0M444.4 351.3h0M451.9 375.6h0M436.7 367.6h0M447.4 374.4h0M445 370.9h0M449.7 373.2h0M441.8 381.6h0M445.3 382.9h0M435.7 365.3h0M453.3 365.8h0M442.3 384.4h0M438.5 367.6h0M444.8 363.2h0M446.8 371.1h0M438.8 372.1h0M441.3 359.1h0M454.4 369.8h0M447.8 359.9h0M446.1 334.3h0M446.9 354.5h0M437.5 352.2h0M437.9 365.1h0M446.3 334h0M453.6 372.8h0M436.2 370.3h0M440.6 358.1h0M449.8 328.9h0M441.8 371.9h0M441.1 384.8h0M448.3 333.4h0M448.1 365.5h0M438.7 372.4h0M438.1 360.6h0M445.1 383.6h0M446.5 342h0M454.8 372.4h0M438.9 363.7h0M444.4 355.4h0M448 361.3h0M447 330.6h0M441.4 345.9h0M451.4 369.1h0M453 364.3h0M446.7 375.8h0M450.7 328.9h0M445.2 375.9h0M440.8 353.1h0M437.2 368.4h0M435.9 368.2h0M437.5 373h0M448.2 330.3h0M450.2 369.3h0M442.3 356.6h0M448.5 328.7h0M438.5 356.9h0M435.6 372.7h0M446.3 362h0M450.5 364.3h0M453.1 369.1h0M447.5 355.4h0M443 379.5h0M448.8 360.9h0M449.3 363.7h0M440.2 357.9h0M444.8 352.7h0M444.3 348.7h0M442.3 356.7h0M444.6 355.5h0M435.5 358.5h0M441.6 352.7h0M447.7 355.7h0M450.5 361.1h0M436.7 362.9h0M442.9 345.7h0M440 371.1h0M441.9 353.3h0M439.8 360.7h0M435.6 379.6h0M447.6 382.2h0M435.6 368.2h0M455.1 368.4h0M438.5 370h0M449.7 361.6h0M445.2 371.1h0M443.1 375h0M440.2 354.7h0M451.9 375.5h0M446.7 342h0M446.6 360.1h0M450.4 371.7h0M436.1 361.1h0M441.4 366.3h0M440.7 370.7h0M440.7 354h0M441.6 358h0M446.4 377.5h0M447.7 354.1h0M440.5 357.1h0M445.3 373.7h0M440.7 384.3h0M439.5 371.7h0M450.8 369h0M444.6 337.7h0M452.2 367.8h0M438 364.6h0M454.4 375.8h0M450.7 371.7h0M443.4 371.1h0M452 368.5h0M444.3 340.4h0M433.9 363.1h0M436.6 367.7h0M440.4 354.1h0M445.4 357.1h0M449.5 361.9h0M443.4 359.7h0M440 369.9h0M443.6 353h0M443.4 346h0M444.2 373.1h0M448.4 329.8h0M439.8 356.1h0M441.2 373.3h0M445.8 364.2h0M435.2 356.5h0M442.5 347.3h0M450.8 371.5h0M446.1 361.5h0M443.4 346.7h0M443.1 369.5h0M440.9 383.9h0M450.1 360.5h0M441.8 381.8h0M452 366.5h0M439 379.3h0M447.1 356h0M443.9 368.2h0M436.2 379.2h0M450.6 375.3h0M453.2 367.2h0M446.9 365.6h0M440.4 375.3h0M442.9 356.5h0M440.6 347.7h0M438.3 372.7h0M439.2 372.3h0M438.1 375.8h0M446.6 363.5h0M433.9 359.8h0M438.6 382.9h0M444 358.6h0M445.2 384.8h0M448.9 331.7h0M442.8 347.6h0M438.1 381.9h0M441 351.2h0M443.7 361.4h0M449 356.1h0M445.3 361.5h0M437 382.5h0M438.5 361.6h0M439.5 383.5h0M437.8 368.7h0M439.6 366h0M440.9 367.8h0M440.3 370.3h0M433.9 365.2h0M437.8 370.1h0M445 373.5h0M438.9 368h0M442 352.1h0M437.1 381.1h0M445.3 364.7h0M442.7 358.3h0M447.4 365.6h0M436.9 366.7h0M450.9 373.8h0M439 361.7h0M444.9 348.7h0M454.1 375.5h0M450.9 362.5h0M433.6 365.3h0M441.8 365.9h0M444.4 339.3h0M443.2 382.6h0M439.7 350.5h0M450.9 369.6h0M445.2 345.8h0M456.8 372.5h0M444.7 358h0M442.6 346.8h0M440.8 383.5h0M445.1 372.5h0M434 361.3h0M444.3 370h0M435.5 371.6h0M440.5 380.3h0M450.5 329.8h0M447.8 339.1h0M451.5 370.7h0M448.2 353.9h0M445.8 347.6h0M454.5 375.4h0M434 365h0M448.4 361.5h0M439.6 368.6h0M455.8 372.1h0M446.4 341.9h0M444 365h0M449.9 372.5h0M442.5 354.4h0M445.9 339.4h0M452.1 364.7h0M444.2 376.5h0M435.2 364.2h0M435.6 358.1h0M450.4 361.7h0M445.4 334.5h0M439 380.4h0M438.9 362.8h0M440.2 355.1h0M448.1 378h0M443.4 341.8h0M449.3 362.9h0M441.4 372.8h0M443.2 355h0M443.1 378.6h0M441.7 367.3h0M441.2 371.6h0M455.5 373h0M439.5 346.5h0M448.8 355.3h0M443 352.4h0M443.2 371h0M449.7 360.5h0M437.1 354.1h0M442 345.9h0M451.5 368.8h0M437.6 359.3h0M434.8 356.7h0M443.4 380.7h0M436.7 372h0M444.5 382.4h0M441.3 355h0M448 334.9h0M452.3 370.3h0M446.4 361.6h0M455.5 369.4h0M435 364h0M452 328.3h0M440.3 380.8h0M443 371.4h0M447.1 365.5h0M436.5 358.9h0M445.3 353.4h0M439.9 356.6h0M454.1 370h0M445.4 346h0M437.1 369.4h0M447.9 361.2h0M448 374.9h0M436.7 381.3h0M438 380h0M433.9 359.9h0M446 353.7h0M439.8 375h0M442.4 360.5h0M446.9 336.7h0M438.9 368.3h0M451.7 370.2h0M445.2 376.4h0M443.7 348.4h0M446.9 362.2h0M449.3 358h0M443.4 351h0M441.8 358h0M445.6 335.7h0M440.7 370.5h0M435.7 371h0M441.8 381.4h0M441.9 385.4h0M445.1 339h0M442.4 383.7h0M436 374.2h0M445.5 337.2h0M445 380.4h0M445.9 334.1h0M447.8 341.8h0M446 362.7h0M440.2 363h0M444.9 335.2h0M438.2 368.8h0M447.6 377.2h0M445.2 349.5h0M440.7 344.5h0M439.8 363.2h0M437.2 369.1h0M441.8 383h0M436.6 362.2h0M439.8 363.5h0M448.7 331.2h0M446.6 359.8h0M436.8 372.7h0M438.1 351.5h0M447.5 334.1h0M446.1 375.4h0M448.4 329.2h0M448.1 330.8h0M439 373.4h0M443.4 383.9h0M442.6 366.9h0M451.6 372.5h0M455.3 371.7h0M444.8 375.7h0M437.3 363.8h0" stroke="#e377c2" stroke-width="3.0" stroke-linecap="round" fill="none"/>
<path d="M494.7 409.6h0M493.4 414.6h0M490.6 404.8h0M477 413.6h0M504.2 394.9h0M507.7 409h0M502.6 405.3h0M501.9 419.2h0M506.4 415.5h0M500.7 401.2h0M498 399h0M463.3 412.5h0M482.5 414.2h0M482.4 416h0M485.8 405.4h0M504.7 405.7h0M484 406.2h0M483.2 415.4h0M467.8 414.1h0M500.1 409.2h0M460.1 409.7h0M491.3 411.3h0M490.3 411.6h0M509.1 400.7h0M512.7 403.7h0M500.7 395h0M466.9 411.3h0M481.9 418.8h0M510.6 412.3h0M504.1 408h0M477.4 416.4h0M478.4 413.1h0M470 415.8h0M506 406.1h0M493.1 415.8h0M481.6 418.4h0M500 400.7h0M489.7 411.6h0M498.6 410.2h0M500.1 418h0M469 414.8h0M461.1 411.2h0M490.7 415.1h0M495.7 407.9h0M502.9 410.1h0M505.8 410.7h0M494.4 402h0M481.8 415.7h0M501.7 400.9h0M487.9 407.8h0M506.4 409.6h0M504.2 404.5h0M505.7 405.7h0M515.1 408.1h0M507.6 397.3h0M511 411.1h0M490 412.1h0M511.1 403.2h0M489.7 399.3h0M465.3 412.4h0M467.3 411.1h0M482.3 410.1h0M470.6 413.1h0M494.1 405.8h0M471.2 413.7h0M503.2 415.3h0M504.9 409.3h0M512.2 409.9h0M470.1 412.4h0M509.3 412.8h0M462.1 409.6h0M498.3 404.2h0M495.8 408.1h0M480.6 417h0M508.1 397.5h0M507.8 410.6h0M503.5 412.6h0M490 397.4h0M488.4 408.6h0M490 413.2h0M507.3 402.1h0M482.2 407.1h0M491.7 414.1h0M485.5 408.7h0M501.2 404.4h0M495.2 404h0M498.8 416.2h0M485.4 408h0M468.5 412.6h0M490.2 398.9h0M499.1 414.4h0M491 412.9h0M491.8 418h0M479 414.4h0M494.4 413.3h0M499.9 408.4h0M493.2 420.2h0M493.9 405h0M491.8 412.8h0M493.2 408.1h0M505.9 417.1h0M495.9 410.4h0M477.9 412.2h0M509.4 409.8h0M509.4 409.4h0M500.7 398.5h0M503.6 415.7h0M503.7 401.7h0M469.5 413h0M470.1 414.7h0M483.8 410.3h0M474.8 413.7h0M502.8 399.7h0M479.7 411.9h0M504.4 416.2h0M505 395h0M494.2 401.6h0M513.7 408.9h0M502.2 413.4h0M511 402.5h0M482 407.9h0M500.7 414.4h0M493.3 415.6h0M510.1 412.5h0M492.6 419h0M501.6 404.7h0M495.9 395.9h0M491.4 399.7h0M497.8 414.1h0M492.1 397h0M496.2 397.1h0M506 417.4h0M469.3 414.8h0M483.4 408.1h0M506.8 395.3h0M510.4 400.8h0M501.2 409.5h0M502.7 395.7h0M505.1 396.1h0M492.9 402.5h0M465.7 408.2h0M498.8 411.7h0M498.1 394.5h0M489.7 414.8h0M478.3 411h0M477.5 413h0M498.4 411.9h0M479.7 411.6h0M496.4 418.6h0M501.9 413.9h0M498.6 415.3h0M513.3 404.4h0M507.1 402.4h0M516.4 406.7h0M498.8 419.4h0M472.6 414.5h0M469.1 413.3h0M466.2 412.4h0M510.3 414.4h0M502.3 407.5h0M492.4 396h0M504.6 402.3h0M495.2 419.9h0M497.2 401.5h0M491.1 401.5h0M498.5 419.4h0M503.1 402.7h0M508.9 411.8h0M488 403.2h0M494.5 407.8h0M490.1 404.9h0M504.6 417.8h0M489.6 400.1h0M490.2 407.4h0M494.3 419h0M490.9 398.6h0M506.3 398.7h0M494.4 409h0M499.5 415.9h0M495.7 400.2h0M505.7 403.3h0M489.5 399.1h0M489.4 401.2h0M490.9 414.6h0M473.1 414h0M487.7 419.1h0M495.8 399.1h0M463.9 407.7h0M490.9 413h0M493.9 403.3h0M490 402.4h0M506.8 405.5h0M511 409h0M493 404.3h0M504.4 406.3h0M504.7 409.3h0M513.7 404.9h0M508.3 414.4h0M468 409.7h0M501.8 395.5h0M497.1 415.9h0M508.7 398.3h0M502.5 411.2h0M485.1 408.5h0M502.3 409.1h0M493.9 402.4h0M469.3 413.5h0M502.3 410.8h0M488.7 418.2h0M508.4 400.1h0M466.9 408.8h0M497.8 403.1h0M471.6 412.9h0M495.9 405.3h0M510.2 402.5h0M504.4 412.8h0M515.5 407.8h0M499.8 415.6h0M493.7 401.5h0M475.1 415.7h0M499 400.1h0M485.8 419.1h0M507.3 399.4h0M492.4 418.5h0M492.5 406.9h0M468.6 411.7h0M490 406.2h0M498.7 403.5h0M495.3 418.2h0M509.7 406.8h0M488.9 406h0M489.1 411.6h0M516.8 408.2h0M499.5 402.1h0M508.8 412.2h0M475 413.9h0M497.6 421.3h0M496.5 414h0M470.3 414.9h0M507 408h0M462.3 412.9h0M479.5 415.2h0M490.6 404.7h0M491.4 410.3h0M492 413.1h0M515 406.7h0M513.4 409.4h0M492.8 419.1h0M491.9 397.4h0M481.4 410.7h0M495.4 403.8h0M486.9 410.6h0M486.9 415h0M504.1 414.8h0M514.7 405.6h0M499.3 399.7h0M516.1 407.9h0M479.5 416.1h0M504.8 410.7h0M486.2 415.5h0M468.5 412.3h0M488.7 403.7h0M490.9 409.5h0M511.8 406.9h0M507.1 412h0M501.6 413.8h0M505.9 415.3h0M477.1 413.5h0M481.2 409.6h0M485.5 417.3h0M507.5 396.8h0M491.5 402.4h0M493.7 416.5h0M515.5 409.6h0M489.8 406.5h0M506.2 399.4h0M487 412h0M484.1 410.5h0M508.7 408.4h0M483.1 415.3h0M502 396.6h0M494.6 413.8h0M504.4 398.1h0M510.8 409.7h0M470.1 411.7h0M464.5 412.8h0M483.1 410h0M506.9 416.8h0M464.2 411.5h0M468 415.1h0M478.7 412.3h0M469.3 409.9h0M504 404.4h0M482.8 415.2h0M507.2 413.2h0M504.5 406.3h0M485.3 408.6h0M493.4 417.6h0M487.7 404.4h0M492.8 415.8h0M501.1 399.7h0M507.9 412.3h0M486 412h0M481 413h0M514.4 408.9h0M460.8 410.2h0M483.9 412.7h0M495.3 416.7h0M513.1 408h0M488.1 403.7h0M507.7 413.2h0M466.3 408.4h0M495.2 395.7h0M464.8 409h0M484 412.7h0M510.4 403.7h0M507.7 402.6h0M506.7 411.3h0M502.8 400.1h0M492.5 407.7h0M493.4 407.6h0M511.7 407.4h0M491.2 410.3h0M496.8 410.7h0M476.2 415.4h0M479.1 410.3h0M507.7 396h0M498.5 415.6h0M488.6 404.9h0M496.5 405.8h0M460.8 409.2h0M479.5 413.2h0M497.7 408.4h0M495.1 420.5h0M504.5 417.9h0M468.8 412.8h0M515.3 408.7h0M505.8 414.5h0M498.3 409.8h0M483.5 412.4h0M503.5 411.1h0M479.2 417.6h0M495.4 400.1h0M509.4 407.4h0M493.3 396.5h0M488.4 413.9h0M511.2 402.9h0M506.6 405.2h0M485.3 419.2h0M499.4 417.5h0M494.2 414.4h0M509.2 403.6h0M497.9 401.6h0M501.6 404.7h0M516.6 407.1h0M493.4 402.5h0M501.7 418.7h0M505 402.5h0M510.1 402.8h0M482.8 418.5h0M497.2 414.5h0M488.9 405.2h0M514.2 409.5h0M512.6 409.8h0M516.2 407.7h0M504.5 401.8h0M504.1 411.1h0M512.9 408.8h0M493.6 401.3h0M464.1 409.5h0M472.8 413.8h0M492 399.7h0M512.5 407.6h0M501.9 410.8h0M489.7 414.4h0M508.2 400.5h0M479.1 415.9h0M497.4 407.4h0M492.8 412.2h0M486 409.4h0M515 408.5h0M503.7 417.2h0M514.8 410.3h0M514.7 405h0M512.4 410.5h0" stroke="#d62728" stroke-width="3.0" stroke-linecap="round" fill="none"/>
<path d="M452.1 432.2h0M456.1 446.3h0M470.6 448.4h0M451.7 427.9h0M453.9 429.7h0M450.6 451.1h0M448.9 432.3h0M464 444.4h0M461.2 449.4h0M459.9 445.2h0M450 442.7h0M461.9 455.9h0M457.8 453h0M460.2 444.6h0M462.2 449.4h0M459.3 439.2h0M449.8 436.7h0M469.8 450.2h0M460.3 439.2h0M452.8 443.8h0M453.7 451.9h0M465.2 454h0M455.7 443.9h0M459.1 457.6h0M451.6 436.5h0M458.2 441.7h0M454.4 450.4h0M461.2 446.8h0M466.4 442.6h0M452.7 453.4h0M449.3 437.1h0M470.1 445.4h0M460.2 454.4h0M454.8 453h0M450.8 442.2h0M452.3 442.1h0M453.9 437.6h0M455.6 434.9h0M453.3 452.6h0M464.2 448.7h0M460.5 457.4h0M453.7 443.5h0M463.9 449.3h0M450.8 442.4h0M460.3 442.7h0M454.8 433.7h0M460.5 442.5h0M466.7 445.4h0M448.6 435.9h0M459.9 457.7h0M455.6 436.8h0M455.3 435.4h0M457.6 444.9h0M461.8 447.1h0M449.1 433.1h0M467.8 446h0M465.7 450.2h0M469.5 450.8h0M461.6 454.6h0M468.3 446.4h0M460.3 439.1h0M466.1 446.8h0M450.8 427.9h0M460.7 443.2h0M453.4 447.6h0M460.5 447.7h0M452.1 426.4h0M466 451.8h0M453.6 436.6h0M454 439.9h0M454.6 445.2h0M449 443.7h0M452.2 436.4h0M451.9 431.7h0M462.3 453.3h0M452.7 431.6h0M452.5 434.3h0M470.9 447.2h0M448.5 430.8h0M451.5 434.4h0M465.9 448.1h0M452.7 446.9h0M459.8 449.1h0M454.2 440.4h0M458.9 437.3h0M460.6 445.9h0M470.3 444.9h0M452.6 428.8h0M459.3 448.1h0M461.9 441.6h0M462.4 453.2h0M460.4 448.8h0M464.6 448.3h0M459.3 449.5h0M458.3 446.6h0M467.4 452.1h0M464.1 454.5h0M451.4 434.7h0M450.1 448.1h0M466.4 443h0M450.1 444.5h0M455.6 446.8h0M465.7 455.6h0M459.4 449.4h0M454.1 451.8h0M469.3 449.1h0M464.4 445.3h0M472.1 447.2h0M463.4 442h0M455.7 455.1h0M459.2 452.8h0M469.9 451.2h0M452.1 437.8h0M463 440.8h0M453.5 448.9h0M449.5 441.5h0M453 432.9h0M448.9 446.3h0M464.2 449h0M453.3 445.6h0M452.5 444.9h0M458.7 445.6h0M462.4 454.1h0M468.5 451.2h0M450.7 433.7h0M453 433.7h0M464.8 447.7h0M471.2 444.8h0M456.1 450.9h0M463.6 441.1h0M458.7 443.7h0M459.1 439.6h0M453.4 452.5h0M463 447.7h0M452.5 440.2h0M470.3 446.1h0M453.7 444.2h0M455 440.2h0M456.9 449.7h0M459.2 454.9h0M451 437.9h0M452.1 437.7h0M450.6 432h0M451.4 446h0M458.7 456.2h0M467.8 446.4h0M457.4 441.4h0M454.9 454.3h0M467.2 444.5h0M455.6 456.5h0M468.8 453.6h0M454.6 447.3h0M455.1 454h0M459.3 438.6h0M458.1 444.2h0M450.6 442.7h0M455.2 453.1h0M467.5 444.1h0M456.4 443.7h0M454.9 443.4h0M463.5 455.7h0M469.5 444.8h0M459.2 442.1h0M456.1 446.6h0M464.2 452.3h0M455.5 455.5h0M448.6 443.4h0M450.5 446.7h0M453.7 432.5h0M466.9 451.9h0M458.6 445.6h0M464.1 448.4h0M460.9 442.1h0M452.4 432h0M467.8 447.2h0M452.5 450.7h0M468.5 452.2h0M472.1 449.1h0M463.6 445.7h0M466.4 452h0M458.6 440.1h0M454.2 453.7h0M467.2 451h0M462.2 443.8h0M463.2 454.9h0M449.1 429.3h0M454.8 441.2h0M452.1 449.7h0M471.3 450.5h0M453.7 428.3h0M455 447.4h0M468.5 446.4h0M453.3 427.9h0M460.4 457.7h0M448.6 439.1h0M472.2 446.2h0M448.9 447.1h0M448.3 432.3h0M471 448.2h0M468.7 450.6h0M461.2 450.4h0M453.7 447.5h0M460.6 441.4h0M456.6 444.8h0M470.1 446.6h0M451.7 432.2h0" stroke="#7f7f7f" stroke-width="3.0" stroke-linecap="round" fill="none"/>
<path d="M441.8 454.7h0M439.6 453.9h0M441.5 455.4h0M439.4 452.4h0M441.2 454.8h0M439.8 453.7h0M441.7 454.5h0M442 455h0M439.1 453.6h0M443.7 453.4h0M439.4 452.3h0" stroke="#7f7f7f" stroke-width="3.0" stroke-linecap="round" fill="none"/>
<path d="M512.8 486h0M534.6 446h0M521.6 462.1h0M534.8 448.4h0M524.9 456h0M531.6 452.8h0M515.9 481.2h0M531.2 473.6h0M520.5 466h0M520.5 461.4h0M518.4 466.7h0M506.1 483.6h0M526.1 452.9h0M522.7 470.2h0M533.6 450.5h0M505 471.2h0M508.9 480.8h0M529.3 457.7h0M506.9 478.5h0M512.3 483.6h0M516.5 484.7h0M528.7 461.4h0M515.8 464.1h0M519 482.8h0M525.2 473.1h0M529.4 450.8h0M529.3 473.6h0M510.9 470.4h0M528.3 472.2h0M522.5 461.1h0M525.2 466.7h0M508.5 470.9h0M520.9 463.7h0M504.9 475.1h0M525.4 480.2h0M524.1 477.4h0M496.4 480.1h0M531 456h0M512 481.8h0M528.8 473.2h0M502 484.7h0M526.8 477.6h0M513.4 474.7h0M534.2 446h0M525.4 461.9h0M529.2 472.3h0M506.4 484.3h0M523.8 474.8h0M510.1 485.6h0M533.9 457.5h0M508.6 485.6h0M533.5 454.4h0M518.4 473.3h0M525.3 468.4h0M517.4 477.2h0M523.7 455.9h0M516.6 480.5h0M519.8 478.9h0M509.4 487h0M533.4 446.3h0M504.6 473.9h0M528.2 462.9h0M522.1 461.2h0M503.9 482.2h0M527.7 464.7h0M527 477.3h0M528.2 466.5h0M511.3 469.4h0M531.7 455.2h0M508 485.7h0M518.5 475.2h0M523.5 464.3h0M522 455.9h0M498.5 478.9h0M520.9 477.7h0M499.6 485.4h0M527.5 476.1h0M524.4 479.6h0M506.7 470.9h0M520.3 457.7h0M499.7 485.1h0M533.2 453.7h0M514.2 486.2h0M522.9 465.9h0M518 484.7h0M521.3 481.1h0M504.6 480.2h0M530.1 474.9h0M534 458h0M508.8 485.6h0M524.6 455h0M525 454.4h0M511.5 481h0M519.3 482.1h0M503.5 476.7h0M524.7 454.1h0M504.8 484.2h0M524.8 466.5h0M524.5 465.6h0M527.6 462.9h0M530.3 471.2h0M526.8 466.3h0M517.5 474.3h0M519.2 479.8h0M507.3 476.9h0M516.8 474.2h0M498.1 483h0M519.5 470h0M516.3 479.3h0M515 465.3h0M510 474.6h0M524.9 469.2h0M498 479.9h0M503.4 484h0M524 472.8h0M515.6 477.9h0M533 455.3h0M532.1 450.6h0M511.1 469.9h0M531.5 449.1h0M511.3 470.3h0M519.2 479.4h0M522 478.8h0M515 468.9h0M510.8 474.8h0M519 474.8h0M518.6 465.6h0M505 474.6h0M507.9 475.9h0M521.1 455.9h0M532.2 446.3h0M520.4 473h0M529.6 450h0M524.8 454.5h0M510.1 479.1h0M524.2 464.3h0M510.9 473.4h0M502.5 477.4h0M502.7 482.1h0M523.2 479.6h0M508.6 480.5h0M531.2 476.8h0M534.5 452.7h0M529.4 478.1h0M507.8 468.3h0M519.4 468.2h0M519.5 461.2h0M519.6 477.5h0M520.5 476.8h0M507.6 482.4h0M507 477.4h0M507.3 480.9h0M502.6 479.9h0M525 456.6h0M527.5 450.3h0M525 473.1h0M519.8 468.1h0M502.5 477h0M516.6 480.5h0M513.3 465.8h0M519.8 469.4h0M528 463.8h0M510.4 479.6h0M508.2 477.5h0M516.3 478.7h0M534.4 448.1h0M505.1 481.2h0M520.4 478h0M501.9 480.1h0M506.2 469.7h0M514.2 465.9h0M535.5 447h0M510.9 469.4h0M521.7 460.8h0M528.7 469.6h0M531.9 449.9h0M523 480.1h0M515 480.8h0M515.4 467.4h0M511.7 476.8h0M520.9 458.8h0M521.5 467.4h0M508.1 469.8h0M523.2 478.2h0M504.6 476.7h0M526.3 456h0M526.7 463.9h0M510.8 484.1h0M508.1 475.1h0M520.7 479.5h0M505.9 482.5h0M523.3 477.7h0M520.3 466h0M529.1 449.8h0M521.4 476.5h0M515.1 484.6h0M518.6 462.9h0M517.7 480.7h0M499.1 481.6h0M515.9 467.4h0M520.4 475.8h0M520.1 457.3h0M512.5 483.2h0M501.1 485.3h0M517.5 485.3h0M515.7 482.4h0M516.6 479.8h0M528.9 468h0M527.3 464.3h0M520.5 468.4h0M523.7 457.1h0M522.1 460.1h0M533.7 452.6h0M531.1 470.7h0M524.5 455.5h0M525.2 454.2h0M513.7 475.5h0M514.6 469.9h0M500.1 478h0M513.3 472.8h0M496.8 480h0M517.5 472.4h0M527 476h0M506 477.3h0M533.3 445.3h0M505 470.2h0M505.7 482.9h0M527.9 463.5h0M526 462h0M519.9 460.9h0M518.6 480.4h0M530.8 470.6h0M530.9 471.9h0M518 470.6h0M535.1 454.9h0M510.6 468.6h0M501.5 480.8h0M517.3 465.7h0M518.3 474.2h0M507.1 479.2h0M526.8 476h0M529.6 456.5h0M498.7 483h0M524.9 459.2h0M533.5 458.3h0M513.5 484.2h0M532.5 453h0M523.4 467.2h0M529.7 475.4h0M517.6 468.6h0M525.4 470.5h0M516.4 480.4h0M530.6 471.9h0M521.4 479.1h0M515.5 485.3h0M518.4 483.4h0M534.8 454.6h0M521.1 474.1h0M527.7 476h0M528.6 466.1h0M507.2 484.9h0M524.9 471.6h0M518.7 459.8h0M528.8 464.9h0M515.1 479h0M513.2 476.6h0M515.5 475.7h0M512.1 479h0M529.1 473.4h0M527.7 456.7h0M506.2 473.3h0M526.4 469.9h0M531.8 454h0M511.9 466h0M531.6 446.1h0M526.7 472.4h0M516.3 472.1h0M505.7 482.1h0M507 483.8h0M521.3 467.9h0M520.8 455.4h0M518.5 483.8h0M530.7 456.1h0M527.1 457.7h0M524.9 458.1h0M535.1 457h0M509.5 476.6h0M513.7 472.9h0M515.3 482.1h0M530.8 458.6h0M524 471.2h0M518.2 461h0M528.3 472.3h0M526.3 453.8h0M501.2 484.6h0M521.9 472.9h0M527 470.5h0M504.8 475.5h0M507.6 467.8h0M525.1 480.3h0M534.4 452.4h0M500 477.9h0M507.5 467.6h0M498.3 483.9h0M514.9 473.6h0M531.9 448.8h0M507.9 476.7h0M521.3 465.1h0M505.5 486.3h0M522.8 454.2h0M525.6 476.9h0M529 449.1h0M507.4 472.1h0M523.7 466.6h0M512.4 478.6h0M521.5 467.6h0M510.5 484.7h0M498.1 479.3h0M504.1 480.1h0M520.9 466.3h0M527 469.4h0M499.7 484.1h0M503 477.5h0M530.6 453.4h0M524.8 464.9h0M517.6 470.1h0M530.5 447.9h0M523.2 475.4h0M531.4 473.9h0M506.8 468.5h0M513.5 477.1h0M519.3 479.4h0M528.4 475h0M502.3 484.7h0M515 475.8h0M525.9 453.8h0M500.8 482h0M520.9 456.8h0M506.3 483.3h0M504 478.9h0M502.3 479.2h0M527.7 451.3h0M523.6 481.5h0M502.4 478.5h0M510.8 477.9h0M516.1 470.1h0M524 468.7h0M522.3 467.4h0M526.5 474.8h0M522.9 461.3h0M518.8 480.7h0M516.4 482.7h0M498.3 479.9h0M517.8 478.9h0M514.5 478.2h0M522.3 456.9h0M515.9 475.1h0M520.4 480.8h0M521.1 464.8h0M511.3 481.4h0M531.7 473.5h0M510.8 481.5h0M533.4 458.7h0M522.3 474.5h0M530.7 459.6h0M515.1 466.9h0M513.1 466h0M515.8 473.1h0M528.3 451h0M499.2 479h0M505.2 479.4h0M533 458.6h0M523.1 456.3h0M523.8 458.3h0M528.9 461.3h0M530.8 453h0M501.9 476.9h0M520.4 470.7h0M515.7 467.3h0M525.9 471.2h0M507 478.6h0M505.8 484.5h0M521.4 480.6h0M517.2 483.7h0M520.4 465.5h0M520.3 475.1h0M508.2 466.8h0M515.6 482.1h0M527.9 465.1h0M516.1 467.7h0M515.1 484h0M513.4 483h0M529.6 478.3h0M522.9 457.7h0M520.2 466.9h0M526.7 478.6h0M525.3 476.5h0M514.1 485.4h0M534 449.2h0M511 483.1h0M528.5 477.8h0M518.1 468.6h0M531.6 458.7h0M513.1 468.6h0M528.5 474.9h0M518 482h0M530.3 447.4h0M535.3 453.9h0M516 467h0M516.4 478h0M521.7 480.6h0" stroke="#ff7f0e" stroke-width="3.0" stroke-linecap="round" fill="none"/>
<path d="M447.3 522.7h0M459.2 521.9h0M442.4 497.9h0M463.2 501.4h0M457.9 496.7h0M451.8 505.7h0M461.5 503.9h0M458.2 503.5h0M449.2 497.8h0M453.6 510h0M448 502.6h0M456.1 507.8h0M448 519.2h0M459.6 513.8h0M450 518.4h0M450.4 518.3h0M457.4 516.5h0M456.5 500.1h0M440.5 500.4h0M454.3 498.5h0M452.2 502h0M452.4 506.3h0M454.5 495.5h0M461.6 515.9h0M446.7 523.4h0M448.4 498.5h0M454.7 521.4h0M448.6 519.1h0M457.3 505.5h0M454.4 514.9h0M462.9 503.3h0M451.1 506.8h0M460.9 500.7h0M448.2 504.3h0M441.7 501.2h0M449.4 503h0M455.7 506.7h0M456 506.2h0M452.4 507.5h0M460.2 515.7h0M453.6 496.8h0M448.9 504.3h0M462.6 501.7h0M459.3 500.3h0M453.2 510.8h0M450.3 493.7h0M458.2 516.5h0M448.9 513.9h0M450.7 520.6h0M460.8 527.5h0M460.6 514.7h0M461.3 516.1h0M461.2 501.2h0M455.3 502.7h0M450.7 520.8h0M452.5 499.4h0M448.4 505h0M456.4 509.5h0M453.6 512.1h0M454.8 519.9h0M451.6 503.4h0M454.9 504.6h0M454.7 519.3h0M457.2 511.8h0M451.9 513.5h0M453.2 508.4h0M460.4 500.8h0M457.1 508.4h0M454.2 497h0M451 513.2h0M455.2 506.1h0M444.7 502.8h0M460.7 503.6h0M443.7 500h0M452.2 505.8h0M456.5 502.1h0M454.8 514.4h0M447.7 502.1h0M461.6 520.7h0M458.8 514h0M450.4 499.7h0M448.5 519.1h0M455.3 514.8h0M453.4 503.7h0M463 519.9h0M456.3 512.8h0M461 498h0M449.6 519.3h0M451.4 502.1h0M460.1 522.9h0M451.5 499.7h0M458 497.6h0M456.3 501.4h0M445.8 520.2h0M451 511.5h0M455.8 496.6h0M457.5 524.1h0M450.8 512.5h0M459 503.4h0M462.5 521.3h0M459.5 505.3h0M459.2 509h0M452.5 512.9h0M461.1 515.1h0M450.3 503.4h0M459.6 502.2h0M447.3 503.2h0M447.9 515.7h0M448.3 514.4h0M463 521.4h0M460.5 497.8h0M446.9 502.5h0M463.2 527h0M455.7 497h0M460.9 522.9h0M459.7 527.4h0M451.9 503.3h0M441.9 502.6h0M450.9 518.5h0M457.2 513.3h0M461.3 521h0M452.6 522.4h0M442.4 503h0M445.7 519.5h0M458.8 517.3h0M459.1 497.6h0M458.7 511.6h0M462.4 520.8h0M448.5 506h0M458.2 506.2h0M452.2 514.7h0M459.5 509.8h0M455.3 498h0M453.6 514.1h0M451.2 499.4h0M450.7 514.6h0M444.5 503h0M454.9 501.2h0M448.3 512.3h0M460.7 522.7h0M456.8 503.4h0M455 520.6h0M458.1 521.5h0M463.5 500.2h0M453.6 507.5h0M458.4 513h0M459.4 521.9h0M459.1 526.5h0M459.5 510.4h0M459.3 523.2h0M459.1 499.8h0M456.6 510.4h0M456.7 516.6h0M461.6 524.3h0M459.8 507.3h0M447.2 522.7h0M460.1 516.8h0M457.6 505h0M457.6 498.1h0M454.1 521.1h0M445.7 521.8h0M445.9 504.4h0M457 509.9h0M448.9 505.1h0M447.7 514.7h0M451.7 521.5h0M457.7 496.5h0M456.7 517h0M451 507.8h0M447.8 523.4h0M456.1 496.5h0M457.4 497.5h0M445 520.7h0M460.5 522.3h0M456.7 521.5h0M453.8 513.5h0M459.5 524.9h0M457.1 512.1h0M447.4 523.2h0M458.6 516.3h0M453.8 512.6h0M460.5 506.7h0M457.3 521h0M454.8 504.5h0M459.3 501.2h0M445.5 503.3h0M462 523.4h0M447.9 520.4h0M459.7 522.2h0M458.8 502.3h0M452.7 510.2h0M455.2 502h0M452.6 507.4h0M446.1 500h0M460.9 499.4h0M453 500.2h0M453.8 503.5h0M454.2 511.3h0M451.9 504h0M452.2 499h0M459.4 509.4h0M456.5 517.5h0M455.9 510.5h0M447.5 523.9h0M463.2 519.2h0M447.5 521.1h0M447.3 514.9h0M449.5 510.7h0M457.8 518h0M459.2 516.9h0M451.3 518.2h0M456.5 511.7h0M453.2 507.9h0M461.2 514.5h0M457.1 502.9h0M448.9 510.4h0M450.1 495.1h0M453.8 513.3h0M460.7 513.9h0M457.9 505.8h0M447.1 518.7h0M452.6 519.5h0M444.1 498.1h0M456.9 520h0M450.9 516.5h0M453.5 513.9h0M449.5 518.3h0M456.8 510.1h0M460.8 518.6h0M450.7 494.8h0M451.4 507.4h0M463 517h0M453.9 506.1h0M440.9 499.4h0M460.1 505.6h0M456.6 510.4h0M447.7 499.5h0M455 522.7h0M460 500.4h0M454.2 518.5h0M447.5 499.7h0M447.4 521.4h0M448.8 497.9h0M456.6 519.6h0M452.1 515.4h0M460.6 499.9h0" stroke="#2ca02c" stroke-width="3.0" stroke-linecap="round" fill="none"/>
<path d="M398.5 438.6h0M408.8 421.8h0M416.4 427.9h0M426.2 413.6h0M431.3 415.8h0M421.3 408.4h0M421.4 415.9h0M418.7 410.4h0M412.2 426.9h0M404 418h0M419.9 431.8h0M421 440.4h0M416.1 440.7h0M414.7 438.7h0M424.1 408.2h0M409.2 431.7h0M423.2 416.7h0M408.1 415.3h0M421.9 406.8h0M414.7 433.1h0M405.7 439.4h0M412.6 415.1h0M405.6 424.6h0M389.5 431.5h0M425.6 442.8h0M420.9 406.6h0M425.7 412.6h0M418.9 424.7h0M405.8 436.4h0M413 435h0M413.3 424.2h0M420.6 411.9h0M402.6 423h0M408.5 415.8h0M408.1 441.6h0M414.8 418.9h0M415.1 430.4h0M424.5 420.5h0M393.8 436.9h0M400.5 420.2h0M406.3 424.6h0M403.4 418.4h0M421.6 411.2h0M412.9 441.3h0M426.7 411.2h0M409.7 440.3h0M428 414h0M411.9 419.9h0M419.5 413.1h0M405.1 433.8h0M406.3 418.8h0M402.7 443h0M426.7 413.2h0M413.4 442.8h0M411 434.3h0M404.7 425.2h0M405.7 424.5h0M427.1 443h0M422.1 406.4h0M412 437.3h0M388.5 432.9h0M401.3 422.8h0M416.6 408.6h0M424.3 423.4h0M411.7 423.1h0M418.2 421h0M407 421.3h0M400.9 429.8h0M417.4 442h0M424.4 425.2h0M418.4 414.4h0M404.5 438.6h0M408.1 442.9h0M430.6 413.1h0M418.9 408h0M412.7 425.6h0M403 426.4h0M426.5 440.9h0M422.9 421.3h0M426.5 439.2h0M412.5 446.3h0M395.9 436.6h0M403 419.5h0M414.5 436.6h0M425.2 415.4h0M415.7 422.6h0M411.6 440.8h0M422.4 414.4h0M389.6 435.5h0M419.7 414.3h0M401 435.3h0M407.6 416.7h0M410.2 444.4h0M381.1 435.8h0M401.7 441.7h0M423.1 425h0M422.2 420.3h0M408.3 432.9h0M405.3 428.7h0M418.2 429.5h0M427.5 441.1h0M406.8 437.6h0M410.1 419.3h0M400.5 430.9h0M412 426.5h0M404.7 430h0M410.1 413.5h0M421.1 408.1h0M403.9 439.4h0M419 431.5h0M409.6 420h0M419.8 408.2h0M401.3 434.3h0M423.9 426.2h0M425.1 413h0M404 436.4h0M414.7 425.4h0M407.1 442.6h0M427.3 415.7h0M411.8 440.2h0M413.4 420.3h0M411.3 437h0M427.4 439.1h0M418.8 420.9h0M401.4 434.7h0M408.9 434.5h0M406 425.5h0M424.4 426.7h0M421.3 429.3h0M411.9 417.3h0M389.1 432.1h0M397.2 430.5h0M402.9 427.2h0M423.1 412.9h0M423.8 427.4h0M407.4 443.3h0M408.7 440h0M418.6 426.9h0M390.9 431.4h0M403.2 426.4h0M414 437.8h0M418.9 410.6h0M412.3 426.7h0M413.1 440.9h0M404.4 434.5h0M428.5 414.6h0M420.1 442.9h0M420.1 443.9h0M414.8 423.9h0M406 419.6h0M412.2 429.8h0M411.5 423.1h0M381.1 435.8h0M390.6 436.5h0M426.8 418.9h0M422 416.8h0M426.2 419.4h0M413.7 440.5h0M408.8 423h0M416.8 442.1h0M422.6 410.3h0M414.8 429.9h0M425.3 410.4h0M419.1 415h0M401.6 443.7h0M405.2 428h0M401.6 419.4h0M424.2 442h0M413.6 439.8h0M404.8 438.8h0M413.9 426.7h0M401.4 423h0M419.6 406.9h0M420 422.1h0M429 441.8h0M416.4 435.8h0M426.6 421.4h0M398.2 440.1h0M415.2 432.9h0M419.6 439.1h0M402.7 428.4h0M392.5 431.6h0M409.4 437.8h0M418.9 414.2h0M399.4 441.6h0M421.7 433.6h0M402.9 418.6h0M401 436.6h0M408.6 429.1h0M421.2 438h0M419.3 424.8h0M412.9 432.8h0M407.1 434.5h0M390.9 432.9h0M420.7 420.3h0M419.1 414.9h0M404.1 417.2h0M429.9 440.7h0M416.8 437.3h0M408.7 416.4h0M398.7 432.9h0M428.6 442.8h0M408.2 417.8h0M427.4 443.1h0M398.3 436.5h0M412.8 433.1h0M425.9 426.6h0M421.8 422.4h0M416.7 408.7h0M405.7 439.6h0M391.7 434.8h0M417.2 421.4h0M425.9 440.6h0M416 424.8h0M414.8 428.5h0M414.4 419.4h0M392.1 433.5h0M396.2 438.1h0M420.9 438h0M399.6 430.7h0M413 428.6h0M411.4 416.4h0M396.2 435h0M398.9 440.2h0M410.8 415h0M420.1 431.1h0M425.5 435h0M395.8 432.2h0M409.2 428.3h0M421.3 435.4h0M410.2 444.1h0M417.7 433.9h0M408.9 417h0M418.7 409.7h0M382.4 435.1h0M406.6 427.5h0M416.5 428.8h0M402.9 420.5h0M417.1 435h0M407.4 442.5h0M397.3 432.5h0M409.3 436.2h0M416.3 432.8h0M419 443h0M418.2 409.3h0M408 432.5h0M407.5 438.9h0M414.8 433.1h0M420 412.2h0M427.1 417.5h0M404.5 433.9h0M390 432.4h0M401.7 437h0M387.6 435.6h0M426.3 436.9h0M412 428.1h0M417.9 441.8h0M403 420.2h0M422 440.7h0M385.3 435.8h0M392.2 433.1h0M419.2 441.4h0M427.5 418.8h0M428.1 439.9h0M404.2 426.6h0M426.4 418.1h0M413.6 429.3h0M405.2 438h0M430.1 416.2h0M400.6 432.2h0M406.3 432.9h0M418 421.3h0M413.9 427.2h0M412.2 441.3h0M410.7 419.5h0M415 420.8h0M420.8 440.4h0M413.3 423.8h0M421.9 413.6h0M420.3 430h0M416.4 423.8h0M401.7 435.8h0M408.2 434.6h0M401.6 432.8h0M411.4 435h0M415.6 412.8h0M411.9 419.8h0M403.8 441.7h0M407.6 419.8h0M402.4 435.4h0M397.4 431.5h0M420.1 428h0M416.7 410.7h0M416.8 436.9h0M426.1 420.5h0M406.9 418.8h0M413.4 444.1h0" stroke="#bcbd22" stroke-width="3.0" stroke-linecap="round" fill="none"/>
<path d="M425 512h0M416.1 518.8h0M426.2 505.6h0M382.5 463.5h0M395.3 490.6h0M398.4 460.3h0M418.5 517.3h0M422 529.9h0M405.2 501.5h0M402.4 457.6h0M387 458.9h0M397 482.9h0M385.4 452.1h0M396.7 462.9h0M410.3 469.1h0M416.9 526h0M389.8 483.7h0M401.8 459.2h0M409 499.8h0M416.5 513.9h0M378.1 451.9h0M411.1 520.1h0M416.9 520h0M382.4 463.4h0M426 511.5h0M406.2 467.5h0M414.2 489.7h0M383 460.9h0M396.1 447.4h0M401.9 465.4h0M408.3 505.5h0M401.8 484.8h0M416.7 519.1h0M402.1 461.5h0M405.4 462.8h0M396.5 463.1h0M415.3 501.5h0M410.7 482.7h0M391.5 445.5h0M404.5 499.7h0M413.3 522h0M391.3 457.8h0M419.3 515.7h0M417.2 472.2h0M411.7 477.9h0M402.9 465.6h0M412.7 484.8h0M395.9 471.6h0M412.8 516.5h0M401.5 459.9h0M411.9 491.9h0M386.4 453.7h0M381.9 453.8h0M407.7 471.8h0M421.2 486.4h0M412.7 516.2h0M417.1 472.9h0M426.7 508.4h0M403 497.3h0M395.2 463.3h0M418.1 522h0M413.6 493h0M404.5 484h0M406.6 493.2h0M388.7 450h0M393.3 488.4h0M400.1 481.6h0M415.2 483.6h0M434.5 511.9h0M422.2 526.3h0M378.6 452.7h0M397.7 457.2h0M398.5 471.4h0M407.7 475.9h0M395.5 483.2h0M410.9 505.9h0M402.3 481.2h0M418.1 495.3h0M381.5 451.7h0M424.2 517.8h0M400.2 470.6h0M405.8 509.1h0M429.9 508.9h0M393.8 491.7h0M398.7 477.5h0M409.6 487.9h0M390.3 481.7h0M420.9 515.8h0M420.7 528.4h0M381 445h0M410.6 481.9h0M403.3 455.4h0M413.7 475.9h0M412.4 505.1h0M389.7 465.7h0M406.3 474.4h0M400 496.9h0M419.9 491.4h0M417.6 483h0M394 447.8h0M425 512.4h0M386.3 450.7h0M411.8 486h0M391.7 489h0M424.8 515h0M387.7 448.3h0M415.3 481.8h0M380.4 445.1h0M407.6 478.3h0M397.1 462.8h0M409.5 513.8h0M383.3 462.2h0M392.1 451.4h0M395.9 465.2h0M404.9 486.7h0M391.7 481h0M399.2 466.7h0M399.7 461.3h0M413.6 496.7h0M393.7 445.2h0M401.6 492.4h0M410 482.2h0M413 469.2h0M401 486.2h0M417.7 494h0M411.1 513.7h0M418.3 526.5h0M402.2 459.3h0M385.6 447.1h0M408.4 514.3h0M400.2 468.1h0M392 443.6h0M401.1 474.3h0M418.8 476.2h0M398.9 445h0M384 447.3h0M385.7 459.4h0M416.7 486.8h0M395.7 476h0M412.2 497.8h0M401.6 457.2h0M391.6 479.3h0M415.2 529.5h0M415.6 484.5h0M380.6 444.8h0M399.8 495.6h0M417.5 527.6h0M394 473.3h0M392.5 446.6h0M399.6 479.7h0M423 507.2h0M414.2 496.6h0M406.6 466.9h0M389.4 445h0M392.2 450.8h0M412.3 525.6h0M416.6 523.2h0M396.8 479.3h0M404.8 456.2h0M390.4 480.3h0M417.7 476.6h0M385.2 463.2h0M399.4 497.5h0M410.9 480.1h0M416.6 514h0M406.6 490.6h0M409.6 470.4h0M409.6 511.3h0M405 462.3h0M396.6 440.8h0M395 455.4h0M395.7 444.3h0M390.1 452.8h0M396.2 453h0M393.9 483.4h0M405.1 490.5h0M394.3 473.6h0M415.1 480h0M428.3 508.9h0M390 464.8h0M403.8 487.8h0M391 479h0M421.4 521.1h0M409.8 509.9h0M428.4 507.3h0M417.1 472.6h0M417.4 482.6h0M410.1 475.8h0M405.2 496.7h0M411.3 474.6h0M397.6 444.3h0M381.5 458.5h0M401.9 488.3h0M390 453.4h0M398.6 478h0M397.6 462.6h0M417.1 478.2h0M408.9 476.3h0M394.5 470.4h0M414 479.5h0M418.1 475.9h0M391.4 445.7h0M416.4 520.3h0M382.8 460.4h0M411.7 504.3h0M418.6 483.7h0M416.1 523.2h0M381.8 451.9h0M423.4 508.8h0M384.7 448.2h0M419.9 522.9h0M393 479h0M406 487.1h0M391.2 482h0M430.6 510.6h0M401.8 492.7h0M402.2 485.1h0M414.3 491.5h0M381.2 461.8h0M414.1 516.4h0M386.6 462.7h0M388.4 461.9h0M424.5 512.2h0M413.5 520.5h0M409.8 467.6h0M414.7 486h0M389.2 481.3h0M400.3 464.3h0M401.3 497.5h0M399.5 465.8h0M386.5 458h0M413.7 497.2h0M418.9 523.1h0M411.8 468.7h0M379.3 454.9h0M390.4 446.7h0M387.9 447.3h0M398.8 474.2h0M408 474.4h0M410.5 502.3h0M396.7 486.1h0M424.6 507.1h0M404.6 462.3h0M400.8 476.5h0M406.6 510.7h0M406.3 481.8h0M409.2 493.8h0M399 469.8h0M425.2 511.1h0M390.6 484.9h0M392.9 458h0M411.9 484.2h0M409.6 496.3h0M405.7 466.6h0M428.8 508.8h0M393.4 471.3h0M390.8 456.4h0M399.4 445.3h0M409.9 471.6h0M411.6 501.9h0M404.8 469.5h0M424.7 511.4h0M405.9 472.5h0M400.1 472.1h0M380.3 459.9h0M414.1 478.3h0M407 486.8h0M415 525.2h0M411.5 519.9h0M415.7 474.3h0M377.4 447.9h0M410.7 518.9h0M400.3 477.4h0M413 485.7h0M425.2 517.9h0M408.6 494.9h0M398.1 488h0M397.3 478.2h0M394.5 463.8h0M397.9 476.2h0M397.6 457.4h0M408.9 506.3h0M388.7 458.9h0M429.4 512.4h0M419.1 517.8h0M404 477.2h0M418.7 520.4h0M379.7 459.2h0M392.6 453.8h0M416 525.5h0M387 461.4h0M386 454.7h0M404 481.3h0M412.5 473.1h0M413.1 523.2h0M407.9 488.8h0M390.1 464.5h0M426.4 511.4h0M419.1 528.4h0M404.9 465.5h0M412.7 504.7h0M413.5 523.3h0M393.8 457h0M401.3 482.9h0M417.8 528.3h0M391.5 460.1h0M380.3 458.9h0M410.6 495.3h0M402.4 480.9h0M412.3 508.8h0M388.6 482.9h0M388.6 464.2h0M394.6 464.3h0M415.4 498.4h0M412.8 480h0M426.2 514.5h0M400.4 493.1h0M400.2 497h0M422.5 514.8h0M410.3 489.2h0M406.1 470.7h0M421.5 525.1h0M412.1 485.8h0M384.8 448.5h0M432.2 511.7h0M412.7 476.7h0M398.5 480.1h0M429.1 509.8h0M427.4 508h0M389.9 455.3h0M418.6 483.4h0M414 518.3h0M393.6 461.7h0M383.4 460.5h0M416.8 475.5h0M380.9 450.2h0M404.4 471.9h0M385.1 447.4h0M407.3 496.6h0M401.4 482.6h0M405.9 471.8h0M384.4 451.1h0M420 524.3h0M412.7 476.5h0M382.9 452.4h0M387 460.2h0M427.1 508.3h0M423 506.9h0M392.3 459h0M415.4 479.1h0M417.9 484.5h0M393.8 449.8h0M407.8 466.9h0M382.7 449.2h0M395.1 480.3h0M416.2 527.1h0M392.7 476.2h0M380.2 455.1h0M391.5 481.4h0M404.8 485.3h0M390.7 445.4h0M413.8 471.1h0M414.5 475.5h0M416.1 525.7h0M386.2 446.6h0M407.6 471.5h0M402.7 462.8h0M417.7 489.4h0M419.3 522.4h0M386.7 464.3h0M381.1 447.7h0M382.7 444.1h0M412.3 502.5h0M406.4 475.8h0M413 524h0M404.3 456h0M415.7 517.8h0M377.4 452.9h0M403.8 479.4h0M404.8 475.1h0M405 492.7h0M380.3 461.8h0M395.9 457.7h0M389 459.2h0M411.9 493.8h0M410 489.3h0M416.2 529.3h0M412.4 514.2h0M418.7 517.7h0M411.8 493.5h0M403.6 498.7h0M410.7 473.9h0M398.7 484.3h0M394.1 493h0M383.9 456.4h0M399.9 465.5h0M385.4 447.5h0M417.4 484.2h0M406.5 463.1h0M403.4 499h0M413.9 515.4h0M414.5 502.6h0M379.3 453.5h0M397.1 468.2h0M418.8 480.2h0M416.7 531.9h0M406.4 508.9h0M401.9 457.9h0M397.9 465.9h0M397.4 478.5h0M390.9 458.9h0M406.1 474.6h0M406.8 501.2h0M394.1 449.4h0M400.4 460h0M404.6 497.7h0M390.9 450.7h0M386.2 446.2h0M399.8 462.9h0M406.3 499.2h0M414.8 503.4h0M379 456h0M399 459.6h0M428.2 510.8h0M395.1 447.8h0M378.8 449.3h0M413.7 515.9h0M395.6 485.5h0M379.4 459.4h0M411.2 490.7h0M414.4 480.7h0M393.7 493.5h0M403 486.7h0M394.2 453.9h0M412.4 482.4h0M403.7 488.6h0M394.2 461h0M411.3 476.4h0M411.6 520.9h0M381.8 455.4h0M398.3 462.3h0M406.8 466.7h0M380.7 455.6h0M408.1 482.5h0M409.7 517.1h0M409.8 485.8h0M394.5 479.9h0M406.8 512.7h0M399.5 490.3h0M398.3 471.9h0M411.1 522h0M412.2 515.6h0M418.7 524.7h0M414.5 519.8h0M429 512.5h0M385.1 455.6h0M395.4 477h0M402.1 461.7h0M404.8 487.1h0M392.1 477.7h0M416.2 523.2h0M396.6 483.2h0M405 463.1h0M396.1 445.1h0M400.1 471.4h0M420.5 485.3h0M402.9 497.3h0M401.3 477.9h0M399.1 469.6h0M394.7 486.8h0M417.5 523.2h0M417.1 485.4h0M408.5 508h0M390.2 457.6h0M397.7 464.7h0M407.3 466.3h0M397.1 492h0M412.1 469h0M402 464.4h0M396.4 491.9h0M409.9 504.5h0M393.1 482.7h0M416.9 499.1h0M396.9 455.1h0M425.1 520.3h0M389.6 456.4h0M390 461.9h0M380.1 453.9h0M391.2 447.2h0M416.7 485.5h0M403.7 475h0M388.2 481.8h0M383.7 447.7h0M386.1 457.4h0M416.3 481h0M405 469.7h0M398.2 482.2h0M416.3 479.5h0M408.5 497.8h0M408.6 486.1h0M406.3 501.5h0M397.3 459.8h0M417.5 485.7h0M406.7 511.3h0M398.1 461.4h0M404.6 497.1h0M406.6 458.6h0M396.3 443.9h0M417.5 497.5h0M408.1 503.7h0M394.9 443.7h0M405.1 498.5h0M412.6 470.3h0M397.4 462.9h0M399.5 476h0M408.3 514.4h0M420.1 489.7h0M416.7 496.2h0M415.1 470.8h0M401.8 458.5h0M395.6 459.3h0M403.9 457.4h0M409.1 514.5h0M395.9 492.2h0M397 456.5h0M417.1 472.9h0M394.8 445h0M414.2 519.2h0M404.7 464.2h0M412.7 489.4h0M386.2 451.6h0M401.1 454.6h0M380 456.1h0M405.3 493.6h0M409.2 485.9h0M423 522.2h0M386.8 458.2h0M407.6 488.5h0M396.2 452.1h0M399.7 472h0M388.8 457h0M412.4 494.4h0M397.3 492.4h0M401.5 459h0M384.6 447h0M409.9 483.4h0M412 469.1h0M398.6 471.4h0M394.1 491.7h0M400.4 470.6h0M388.9 450.7h0M400.5 456.3h0M394.3 472.4h0M385.3 459.1h0M407.3 468.6h0M388 461.2h0M396.1 454.4h0M400 497.5h0M406.7 485.8h0M400.6 466.5h0M403.3 493.6h0M410 509.6h0M404.5 475.7h0M384.1 457.8h0M406.9 471.2h0M404.4 469.9h0M403.7 466.4h0M379.3 446.9h0M396.9 461.1h0M400.1 456.4h0M416.1 487.5h0M408.5 512h0M390.2 454.4h0M403.1 496.8h0M415.6 482.9h0M414.3 515.5h0M402.8 465.9h0M398.6 465h0M398.8 478.2h0M409.1 505.9h0M408.3 470.5h0M409.9 509.9h0M394.3 470.5h0M392.2 455.4h0M389.4 482.1h0M382.5 445h0M404.8 492h0M417 478.1h0M403 467.3h0M423.2 508.6h0M409.3 501.3h0M395.1 448.1h0M381 461.3h0M392.3 463.3h0M415.1 489.8h0M409.9 469.2h0M392.3 447.5h0M422.5 521.5h0M413.5 471.5h0M399.4 480h0M391.5 447.7h0M425.1 516.5h0M416.6 478.4h0M419.6 522.7h0M395.8 471.3h0M420.8 491.4h0M410.5 515.3h0M418.3 518.3h0M390.6 480.2h0M412.5 485.2h0M410 484.3h0M423.3 516.9h0M413.9 479h0M414.7 491.1h0M407.5 485.7h0M402.2 462.1h0M412.3 510.2h0M402.8 492.2h0M413.3 472.7h0M401.7 493.6h0M413 470h0M404.7 491.9h0M399.4 479.6h0M393.8 449h0M394.6 483h0M404.2 498.8h0M396.1 443.4h0M394 452.3h0M411.8 516.1h0M415.3 521.3h0M393.1 485h0M392.4 448.6h0M427.9 511.3h0M389.6 448.6h0M401.7 482.5h0M389.1 454.4h0M417.7 531h0M399 463.1h0M403.7 482.7h0M389.8 445h0M417.8 517.5h0M381.8 449h0M393.4 484.3h0M405.2 463.6h0M403.5 500.1h0M414.8 472.9h0M391.4 452.9h0M411.9 523h0M407.8 504h0M401.5 466.6h0M410.6 478.8h0M412.2 473.8h0M408.4 499.5h0M406.3 472.3h0M416.3 495.3h0M400.4 468.6h0M406.5 504.3h0M390.5 448.5h0M390.3 452.9h0M426.9 508.1h0M408.1 505.9h0M411.9 500.1h0M400.7 469.3h0M396.4 482.7h0M400.7 454.3h0M412.8 490.2h0M390.4 461.7h0M384.2 460.8h0" stroke="#1f77b4" stroke-width="3.0" stroke-linecap="round" fill="none"/>
<path d="M430.7 542.1h0M430.6 542.6h0M434.5 543.4h0M434 545.6h0M432.3 541.1h0M426.3 541.9h0M432.3 540.5h0M429.1 545.8h0M426.5 538.9h0M428.1 543.1h0M430.8 547.8h0M426.8 540.3h0M427.1 544.1h0M429.6 546.1h0M431.3 546.7h0M433.5 541.6h0M427 537.3h0M433.3 539.1h0M433.7 546.9h0M430 539.3h0M430.5 534.4h0M431.3 534.8h0M434.7 536.9h0M434.4 531.6h0M433.6 543.8h0M428.4 539.5h0M435.2 531.9h0M425.3 534.7h0M431.1 532.9h0M430.5 547.4h0M434 536h0M433.3 543.2h0M428.9 547.5h0M426.4 539.5h0M431.3 537.9h0M433.6 534.2h0M431.4 538.9h0M429.6 536.7h0M424.5 536.6h0M432 544.9h0M430.5 542h0M427.3 543.4h0M430.8 536.6h0M431.9 536.8h0M430.2 546.5h0M429.6 537.1h0M432.4 540.2h0M425.1 540.6h0M431.2 538h0M434.7 535.4h0M432.2 544h0M429.9 543.1h0M428.8 533.9h0M429.7 538.4h0M427.5 535.1h0M431 538.1h0M433.6 533.5h0M430.6 545.4h0M427.5 543.1h0M433.9 544h0M428.7 549.1h0" stroke="#1f77b4" stroke-width="3.0" stroke-linecap="round" fill="none"/>
<path d="M378.8 394.2h0M382.3 396.2h0M369.6 414.5h0M374.2 416.6h0M376.2 423.5h0M375.5 429.8h0" stroke="#bcbd22" stroke-width="3.0" stroke-linecap="round" fill="none"/>
<path d="M376.7 405.6h0M371.1 435.4h0M412.4 410.7h0" stroke="#e377c2" stroke-width="3.0" stroke-linecap="round" fill="none"/>
<path d="M383.1 398.8h0" stroke="#1f77b4" stroke-width="3.0" stroke-linecap="round" fill="none"/>
<path d="M375.5 433.6h0M374.2 438.7h0M378 437.5h0" stroke="#17becf" stroke-width="3.0" stroke-linecap="round" fill="none"/>
<path d="M371.6 432.9h0M376.7 434.9h0" stroke="#8c564b" stroke-width="3.0" stroke-linecap="round" fill="none"/>
<path d="M460.1 374.6h0" stroke="#ff7f0e" stroke-width="3.0" stroke-linecap="round" fill="none"/>
<path d="M438 385.3h0M434.2 368.7h0M426.5 409.5h0M432.9 417.6h0M430.4 446.4h0" stroke="#8c564b" stroke-width="3.0" stroke-linecap="round" fill="none"/>
<path d="M440 387.1h0M445.6 434.9h0" stroke="#bcbd22" stroke-width="3.0" stroke-linecap="round" fill="none"/>
<path d="M460.1 408.9h0M462 407.2h0M452 412.5h0M451.2 414.3h0" stroke="#e377c2" stroke-width="3.0" stroke-linecap="round" fill="none"/>
<path d="M457.4 414.8h0M459.7 413.2h0M462 412.5h0M453.5 414.8h0M452 417.9h0" stroke="#7f7f7f" stroke-width="3.0" stroke-linecap="round" fill="none"/>
<path d="M452 419.6h0" stroke="#e377c2" stroke-width="3.0" stroke-linecap="round" fill="none"/>
<path d="M449.5 416.6h0M444.4 444.6h0M417.6 429.8h0M418.9 444.6h0M424 444.6h0M413.8 445.6h0" stroke="#1f77b4" stroke-width="3.0" stroke-linecap="round" fill="none"/>
<path d="M341.1 445.6h0M342.4 448.2h0M339.8 462.2h0" stroke="#bcbd22" stroke-width="3.0" stroke-linecap="round" fill="none"/>
<path d="M412.1 410.9h0M381.4 446.5h0M382.2 448.2h0M376.1 456.4h0M376.1 458.8h0" stroke="#e377c2" stroke-width="3.0" stroke-linecap="round" fill="none"/>
<path d="M432.9 417.9h0M426.4 408.9h0" stroke="#8c564b" stroke-width="3.0" stroke-linecap="round" fill="none"/>
<path d="M386.3 443.3h0M389.5 445.7h0M393.6 448.2h0M381.4 452.3h0M400.2 444.9h0M419 444.1h0M407.5 458.8h0M446 433.5h0" stroke="#bcbd22" stroke-width="3.0" stroke-linecap="round" fill="none"/>
<path d="M395.3 439.2h0M396.9 441.6h0M419 428.5h0M419.8 444.1h0M423.1 444.1h0M386.3 480.1h0" stroke="#1f77b4" stroke-width="3.0" stroke-linecap="round" fill="none"/>
<path d="M426.4 444.1h0M428.8 445.7h0M426.4 426.1h0M402.6 470.3h0M414.9 473.5h0" stroke="#7f7f7f" stroke-width="3.0" stroke-linecap="round" fill="none"/>
<path d="M404.8 476.3h0" stroke="#2ca02c" stroke-width="3.0" stroke-linecap="round" fill="none"/>
<path d="M428.2 508.4h0M423.3 521.5h0" stroke="#2ca02c" stroke-width="3.0" stroke-linecap="round" fill="none"/>
<path d="M433.9 508.9h0M429.3 513.3h0" stroke="#e377c2" stroke-width="3.0" stroke-linecap="round" fill="none"/>
<path d="M428.7 514.4h0" stroke="#d62728" stroke-width="3.0" stroke-linecap="round" fill="none"/>
<path d="M453.8 429.1h0" stroke="#d62728" stroke-width="3.0" stroke-linecap="round" fill="none"/>
<path d="M444.4 434.2h0M445.6 435.5h0" stroke="#bcbd22" stroke-width="3.0" stroke-linecap="round" fill="none"/>
<path d="M444.4 444.4h0M468.5 504.2h0M470.6 502.1h0M472.4 500.4h0M473.6 499.1h0M474.9 497.8h0M478.7 499.1h0M418.9 443.1h0M424 443.1h0" stroke="#1f77b4" stroke-width="3.0" stroke-linecap="round" fill="none"/>
<path d="M475.4 494h0M478.2 499.6h0" stroke="#ff7f0e" stroke-width="3.0" stroke-linecap="round" fill="none"/>
<path d="M430.4 445.6h0M431.6 412.5h0" stroke="#8c564b" stroke-width="3.0" stroke-linecap="round" fill="none"/>
<rect x="504.0" y="318.0" width="40.700000000000045" height="61.80000000000001" rx="1" fill="#fff" fill-opacity="0.8" stroke="#ccc" stroke-width="0.5"/>
<g font-family="DejaVu Sans, Liberation Sans, sans-serif" font-size="4.3" fill="#111" stroke="#111" stroke-width="0.13">
<circle cx="510.5" cy="322.35" r="1.55" fill="#1f77b4"/>
<text x="518.6" y="323.85">Authentic</text>
<circle cx="510.5" cy="328.93" r="1.55" fill="#ff7f0e"/>
<text x="518.6" y="330.43">BigGAN</text>
<circle cx="510.5" cy="335.51" r="1.55" fill="#2ca02c"/>
<text x="518.6" y="337.01">Copy-Move</text>
<circle cx="510.5" cy="342.09" r="1.55" fill="#d62728"/>
<text x="518.6" y="343.59">DDPM</text>
<circle cx="510.5" cy="348.67" r="1.55" fill="#8c564b"/>
<text x="518.6" y="350.17">FDGAN</text>
<circle cx="510.5" cy="355.25" r="1.55" fill="#e377c2"/>
<text x="518.6" y="356.75">GLIDE</text>
<circle cx="510.5" cy="361.83" r="1.55" fill="#7f7f7f"/>
<text x="518.6" y="363.33">INDM</text>
<circle cx="510.5" cy="368.41" r="1.55" fill="#bcbd22"/>
<text x="518.6" y="369.91">PEDM</text>
<circle cx="510.5" cy="374.99" r="1.55" fill="#17becf"/>
<text x="518.6" y="376.49">StyleCLIP</text>
</g>
</svg>
<div class="cap" style="left:78.9px;top:264.8px;font-size:25px">(a) HPUNet</div>
<div class="cap" style="left:351.5px;top:266.9px;font-size:25px">(b) DA-HFNet</div>
<div class="cap" style="left:63.2px;top:571.2px;font-size:25.6px">(c) HIFI-IFDL</div>
<div class="cap" style="left:343.5px;top:570.9px;font-size:25px">(d) PSCC-Net</div>
</div></body></html>
